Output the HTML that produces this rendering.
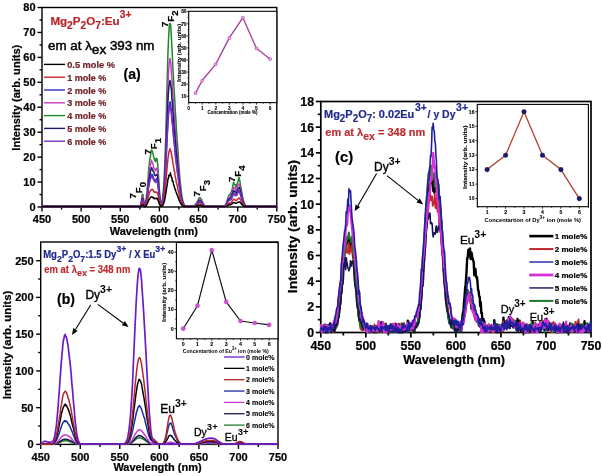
<!DOCTYPE html><html><head><meta charset="utf-8"><style>html,body{margin:0;padding:0;background:#fff;}svg{display:block;filter:blur(0.3px);}text{font-family:"Liberation Sans", sans-serif;}</style></head><body>
<svg width="602" height="476" viewBox="0 0 602 476">
<rect width="602" height="476" fill="#fff"/>
<rect x="42.00" y="7.50" width="234.80" height="199.50" fill="none" stroke="#000" stroke-width="1.4"/>
<line x1="42.00" y1="207.00" x2="42.00" y2="211.50" stroke="#000" stroke-width="1.4"/>
<text x="42.00" y="223.20" font-size="11" font-weight="bold" fill="#000" stroke="#000" stroke-width="0.22" text-anchor="middle" >450</text>
<line x1="81.13" y1="207.00" x2="81.13" y2="211.50" stroke="#000" stroke-width="1.4"/>
<text x="81.13" y="223.20" font-size="11" font-weight="bold" fill="#000" stroke="#000" stroke-width="0.22" text-anchor="middle" >500</text>
<line x1="120.27" y1="207.00" x2="120.27" y2="211.50" stroke="#000" stroke-width="1.4"/>
<text x="120.27" y="223.20" font-size="11" font-weight="bold" fill="#000" stroke="#000" stroke-width="0.22" text-anchor="middle" >550</text>
<line x1="159.40" y1="207.00" x2="159.40" y2="211.50" stroke="#000" stroke-width="1.4"/>
<text x="159.40" y="223.20" font-size="11" font-weight="bold" fill="#000" stroke="#000" stroke-width="0.22" text-anchor="middle" >600</text>
<line x1="198.53" y1="207.00" x2="198.53" y2="211.50" stroke="#000" stroke-width="1.4"/>
<text x="198.53" y="223.20" font-size="11" font-weight="bold" fill="#000" stroke="#000" stroke-width="0.22" text-anchor="middle" >650</text>
<line x1="237.67" y1="207.00" x2="237.67" y2="211.50" stroke="#000" stroke-width="1.4"/>
<text x="237.67" y="223.20" font-size="11" font-weight="bold" fill="#000" stroke="#000" stroke-width="0.22" text-anchor="middle" >700</text>
<line x1="276.80" y1="207.00" x2="276.80" y2="211.50" stroke="#000" stroke-width="1.4"/>
<text x="276.80" y="223.20" font-size="11" font-weight="bold" fill="#000" stroke="#000" stroke-width="0.22" text-anchor="middle" >750</text>
<line x1="61.57" y1="207.00" x2="61.57" y2="209.50" stroke="#000" stroke-width="1.4"/>
<line x1="100.70" y1="207.00" x2="100.70" y2="209.50" stroke="#000" stroke-width="1.4"/>
<line x1="139.83" y1="207.00" x2="139.83" y2="209.50" stroke="#000" stroke-width="1.4"/>
<line x1="178.97" y1="207.00" x2="178.97" y2="209.50" stroke="#000" stroke-width="1.4"/>
<line x1="218.10" y1="207.00" x2="218.10" y2="209.50" stroke="#000" stroke-width="1.4"/>
<line x1="257.23" y1="207.00" x2="257.23" y2="209.50" stroke="#000" stroke-width="1.4"/>
<line x1="37.50" y1="207.00" x2="42.00" y2="207.00" stroke="#000" stroke-width="1.4"/>
<text x="35.60" y="210.96" font-size="11" font-weight="bold" fill="#000" stroke="#000" stroke-width="0.22" text-anchor="end" >0</text>
<line x1="37.50" y1="182.06" x2="42.00" y2="182.06" stroke="#000" stroke-width="1.4"/>
<text x="35.60" y="186.02" font-size="11" font-weight="bold" fill="#000" stroke="#000" stroke-width="0.22" text-anchor="end" >10</text>
<line x1="37.50" y1="157.12" x2="42.00" y2="157.12" stroke="#000" stroke-width="1.4"/>
<text x="35.60" y="161.09" font-size="11" font-weight="bold" fill="#000" stroke="#000" stroke-width="0.22" text-anchor="end" >20</text>
<line x1="37.50" y1="132.19" x2="42.00" y2="132.19" stroke="#000" stroke-width="1.4"/>
<text x="35.60" y="136.15" font-size="11" font-weight="bold" fill="#000" stroke="#000" stroke-width="0.22" text-anchor="end" >30</text>
<line x1="37.50" y1="107.25" x2="42.00" y2="107.25" stroke="#000" stroke-width="1.4"/>
<text x="35.60" y="111.21" font-size="11" font-weight="bold" fill="#000" stroke="#000" stroke-width="0.22" text-anchor="end" >40</text>
<line x1="37.50" y1="82.31" x2="42.00" y2="82.31" stroke="#000" stroke-width="1.4"/>
<text x="35.60" y="86.27" font-size="11" font-weight="bold" fill="#000" stroke="#000" stroke-width="0.22" text-anchor="end" >50</text>
<line x1="37.50" y1="57.38" x2="42.00" y2="57.38" stroke="#000" stroke-width="1.4"/>
<text x="35.60" y="61.34" font-size="11" font-weight="bold" fill="#000" stroke="#000" stroke-width="0.22" text-anchor="end" >60</text>
<line x1="37.50" y1="32.44" x2="42.00" y2="32.44" stroke="#000" stroke-width="1.4"/>
<text x="35.60" y="36.40" font-size="11" font-weight="bold" fill="#000" stroke="#000" stroke-width="0.22" text-anchor="end" >70</text>
<line x1="37.50" y1="7.50" x2="42.00" y2="7.50" stroke="#000" stroke-width="1.4"/>
<text x="35.60" y="11.46" font-size="11" font-weight="bold" fill="#000" stroke="#000" stroke-width="0.22" text-anchor="end" >80</text>
<line x1="39.50" y1="194.53" x2="42.00" y2="194.53" stroke="#000" stroke-width="1.4"/>
<line x1="39.50" y1="169.59" x2="42.00" y2="169.59" stroke="#000" stroke-width="1.4"/>
<line x1="39.50" y1="144.66" x2="42.00" y2="144.66" stroke="#000" stroke-width="1.4"/>
<line x1="39.50" y1="119.72" x2="42.00" y2="119.72" stroke="#000" stroke-width="1.4"/>
<line x1="39.50" y1="94.78" x2="42.00" y2="94.78" stroke="#000" stroke-width="1.4"/>
<line x1="39.50" y1="69.84" x2="42.00" y2="69.84" stroke="#000" stroke-width="1.4"/>
<line x1="39.50" y1="44.91" x2="42.00" y2="44.91" stroke="#000" stroke-width="1.4"/>
<line x1="39.50" y1="19.97" x2="42.00" y2="19.97" stroke="#000" stroke-width="1.4"/>
<polyline points="42.0,206.6 42.4,206.6 42.8,206.6 43.2,206.6 43.6,206.6 44.0,206.6 44.3,206.6 44.7,206.6 45.1,206.6 45.5,206.6 45.9,206.6 46.3,206.6 46.7,206.6 47.1,206.6 47.5,206.6 47.9,206.6 48.3,206.6 48.7,206.6 49.0,206.6 49.4,206.6 49.8,206.6 50.2,206.6 50.6,206.6 51.0,206.6 51.4,206.6 51.8,206.6 52.2,206.6 52.6,206.6 53.0,206.6 53.3,206.6 53.7,206.6 54.1,206.6 54.5,206.6 54.9,206.6 55.3,206.6 55.7,206.6 56.1,206.6 56.5,206.6 56.9,206.6 57.3,206.6 57.7,206.6 58.0,206.6 58.4,206.6 58.8,206.6 59.2,206.6 59.6,206.6 60.0,206.6 60.4,206.6 60.8,206.6 61.2,206.6 61.6,206.6 62.0,206.6 62.3,206.6 62.7,206.6 63.1,206.6 63.5,206.6 63.9,206.6 64.3,206.6 64.7,206.6 65.1,206.6 65.5,206.6 65.9,206.6 66.3,206.6 66.7,206.6 67.0,206.6 67.4,206.6 67.8,206.6 68.2,206.6 68.6,206.6 69.0,206.6 69.4,206.6 69.8,206.6 70.2,206.6 70.6,206.6 71.0,206.6 71.3,206.6 71.7,206.6 72.1,206.6 72.5,206.6 72.9,206.6 73.3,206.6 73.7,206.6 74.1,206.6 74.5,206.6 74.9,206.6 75.3,206.6 75.7,206.6 76.0,206.6 76.4,206.6 76.8,206.6 77.2,206.6 77.6,206.6 78.0,206.6 78.4,206.6 78.8,206.6 79.2,206.6 79.6,206.6 80.0,206.6 80.4,206.6 80.7,206.6 81.1,206.6 81.5,206.6 81.9,206.6 82.3,206.6 82.7,206.6 83.1,206.6 83.5,206.6 83.9,206.6 84.3,206.6 84.7,206.6 85.0,206.6 85.4,206.6 85.8,206.6 86.2,206.6 86.6,206.6 87.0,206.6 87.4,206.6 87.8,206.6 88.2,206.6 88.6,206.6 89.0,206.6 89.4,206.6 89.7,206.6 90.1,206.6 90.5,206.6 90.9,206.6 91.3,206.6 91.7,206.6 92.1,206.6 92.5,206.6 92.9,206.6 93.3,206.6 93.7,206.6 94.0,206.6 94.4,206.6 94.8,206.6 95.2,206.6 95.6,206.6 96.0,206.6 96.4,206.6 96.8,206.6 97.2,206.6 97.6,206.6 98.0,206.6 98.4,206.6 98.7,206.6 99.1,206.6 99.5,206.6 99.9,206.6 100.3,206.6 100.7,206.6 101.1,206.6 101.5,206.6 101.9,206.6 102.3,206.6 102.7,206.6 103.0,206.6 103.4,206.6 103.8,206.6 104.2,206.6 104.6,206.6 105.0,206.6 105.4,206.6 105.8,206.6 106.2,206.6 106.6,206.6 107.0,206.6 107.4,206.6 107.7,206.6 108.1,206.6 108.5,206.6 108.9,206.6 109.3,206.6 109.7,206.6 110.1,206.6 110.5,206.6 110.9,206.6 111.3,206.6 111.7,206.6 112.0,206.6 112.4,206.6 112.8,206.6 113.2,206.6 113.6,206.6 114.0,206.6 114.4,206.6 114.8,206.6 115.2,206.6 115.6,206.6 116.0,206.6 116.4,206.6 116.7,206.6 117.1,206.6 117.5,206.6 117.9,206.6 118.3,206.6 118.7,206.6 119.1,206.6 119.5,206.6 119.9,206.6 120.3,206.6 120.7,206.6 121.0,206.6 121.4,206.6 121.8,206.6 122.2,206.6 122.6,206.6 123.0,206.6 123.4,206.6 123.8,206.6 124.2,206.6 124.6,206.6 125.0,206.6 125.4,206.6 125.7,206.6 126.1,206.6 126.5,206.6 126.9,206.6 127.3,206.6 127.7,206.6 128.1,206.6 128.5,206.6 128.9,206.6 129.3,206.6 129.7,206.6 130.1,206.6 130.4,206.6 130.8,206.6 131.2,206.6 131.6,206.6 132.0,206.6 132.4,206.6 132.8,206.6 133.2,206.6 133.6,206.6 134.0,206.6 134.4,206.6 134.7,206.6 135.1,206.6 135.5,206.6 135.9,206.6 136.3,206.6 136.7,206.6 137.1,206.6 137.5,206.6 137.9,206.6 138.3,206.6 138.7,206.6 139.1,206.6 139.4,206.6 139.8,206.6 140.2,206.5 140.6,205.5 141.0,203.8 141.4,201.3 141.8,198.1 142.2,194.9 142.6,194.1 143.0,195.2 143.4,197.8 143.7,200.8 144.1,203.1 144.5,204.4 144.9,204.5 145.3,203.8 145.7,202.0 146.1,199.7 146.5,196.2 146.9,193.0 147.3,188.2 147.7,183.3 148.1,179.3 148.4,172.2 148.8,168.0 149.2,165.4 149.6,160.8 150.0,157.9 150.4,157.2 150.8,152.6 151.2,151.1 151.6,150.0 152.0,150.9 152.4,151.2 152.7,152.8 153.1,153.7 153.5,156.3 153.9,158.2 154.3,158.3 154.7,160.7 155.1,160.9 155.5,161.8 155.9,158.7 156.3,158.5 156.7,158.3 157.1,159.2 157.4,161.7 157.8,165.5 158.2,171.2 158.6,177.5 159.0,184.0 159.4,189.6 159.8,195.2 160.2,199.2 160.6,201.7 161.0,203.0 161.4,203.0 161.7,202.4 162.1,201.0 162.5,198.8 162.9,195.8 163.3,191.3 163.7,185.3 164.1,179.2 164.5,170.9 164.9,161.1 165.3,149.7 165.7,138.3 166.1,123.6 166.4,109.6 166.8,93.5 167.2,80.1 167.6,65.1 168.0,51.8 168.4,42.3 168.8,33.9 169.2,27.1 169.6,23.7 170.0,23.5 170.4,23.8 170.7,26.1 171.1,33.1 171.5,39.6 171.9,47.6 172.3,54.5 172.7,63.8 173.1,71.7 173.5,77.7 173.9,86.8 174.3,92.5 174.7,99.0 175.1,106.6 175.4,112.7 175.8,117.9 176.2,125.6 176.6,132.0 177.0,138.5 177.4,143.4 177.8,148.1 178.2,154.2 178.6,161.2 179.0,166.5 179.4,171.3 179.7,175.6 180.1,180.4 180.5,184.3 180.9,188.1 181.3,191.7 181.7,194.5 182.1,197.0 182.5,199.2 182.9,200.9 183.3,202.2 183.7,203.6 184.1,204.5 184.4,205.3 184.8,205.7 185.2,206.2 185.6,206.5 186.0,206.6 186.4,206.6 186.8,206.6 187.2,206.6 187.6,206.6 188.0,206.6 188.4,206.6 188.8,206.6 189.1,206.6 189.5,206.6 189.9,206.6 190.3,206.6 190.7,206.6 191.1,206.6 191.5,206.6 191.9,206.6 192.3,206.6 192.7,206.6 193.1,206.5 193.4,206.4 193.8,206.1 194.2,205.9 194.6,205.5 195.0,205.1 195.4,204.7 195.8,204.2 196.2,203.4 196.6,202.8 197.0,202.0 197.4,201.1 197.8,200.7 198.1,199.8 198.5,199.0 198.9,198.4 199.3,198.1 199.7,197.6 200.1,197.9 200.5,198.4 200.9,198.8 201.3,199.1 201.7,199.9 202.1,201.2 202.4,201.6 202.8,202.6 203.2,203.4 203.6,204.3 204.0,204.9 204.4,205.5 204.8,205.8 205.2,206.2 205.6,206.4 206.0,206.6 206.4,206.6 206.8,206.6 207.1,206.6 207.5,206.6 207.9,206.6 208.3,206.6 208.7,206.6 209.1,206.6 209.5,206.6 209.9,206.6 210.3,206.6 210.7,206.6 211.1,206.6 211.4,206.6 211.8,206.6 212.2,206.6 212.6,206.6 213.0,206.6 213.4,206.6 213.8,206.6 214.2,206.6 214.6,206.6 215.0,206.6 215.4,206.6 215.8,206.6 216.1,206.6 216.5,206.6 216.9,206.6 217.3,206.6 217.7,206.6 218.1,206.6 218.5,206.6 218.9,206.6 219.3,206.6 219.7,206.6 220.1,206.6 220.4,206.6 220.8,206.6 221.2,206.6 221.6,206.6 222.0,206.6 222.4,206.6 222.8,206.6 223.2,206.6 223.6,206.6 224.0,206.6 224.4,206.4 224.8,206.0 225.1,205.5 225.5,204.8 225.9,204.0 226.3,202.9 226.7,201.5 227.1,200.4 227.5,198.9 227.9,197.9 228.3,196.9 228.7,196.3 229.1,194.7 229.4,195.0 229.8,194.6 230.2,194.5 230.6,194.0 231.0,193.2 231.4,191.2 231.8,190.7 232.2,189.1 232.6,186.9 233.0,185.3 233.4,182.8 233.8,182.1 234.1,183.3 234.5,184.2 234.9,184.6 235.3,184.6 235.7,187.6 236.1,186.1 236.5,186.4 236.9,184.2 237.3,183.9 237.7,181.8 238.1,181.0 238.4,179.6 238.8,177.4 239.2,178.1 239.6,180.0 240.0,182.0 240.4,184.8 240.8,186.4 241.2,188.8 241.6,191.3 242.0,193.7 242.4,196.1 242.8,197.7 243.1,199.4 243.5,200.6 243.9,201.9 244.3,203.2 244.7,204.1 245.1,204.8 245.5,205.5 245.9,205.9 246.3,206.3 246.7,206.6 247.1,206.6 247.5,206.6 247.8,206.6 248.2,206.6 248.6,206.6 249.0,206.6 249.4,206.6 249.8,206.6 250.2,206.6 250.6,206.6 251.0,206.6 251.4,206.6 251.8,206.6 252.1,206.6 252.5,206.6 252.9,206.6 253.3,206.6 253.7,206.6 254.1,206.6 254.5,206.6 254.9,206.6 255.3,206.6 255.7,206.6 256.1,206.6 256.5,206.6 256.8,206.6 257.2,206.6 257.6,206.6 258.0,206.6 258.4,206.6 258.8,206.6 259.2,206.6 259.6,206.6 260.0,206.6 260.4,206.6 260.8,206.6 261.1,206.6 261.5,206.6 261.9,206.6 262.3,206.6 262.7,206.6 263.1,206.6 263.5,206.6 263.9,206.6 264.3,206.6 264.7,206.6 265.1,206.6 265.5,206.6 265.8,206.6 266.2,206.6 266.6,206.6 267.0,206.6 267.4,206.6 267.8,206.6 268.2,206.6 268.6,206.6 269.0,206.6 269.4,206.6 269.8,206.6 270.1,206.6 270.5,206.6 270.9,206.6 271.3,206.6 271.7,206.6 272.1,206.6 272.5,206.6 272.9,206.6 273.3,206.6 273.7,206.6 274.1,206.6 274.5,206.6 274.8,206.6 275.2,206.6 275.6,206.6 276.0,206.6 276.4,206.6 276.8,206.6" fill="none" stroke="#23862b" stroke-width="1.5" stroke-linejoin="round" />
<polyline points="42.0,206.6 42.4,206.6 42.8,206.6 43.2,206.6 43.6,206.6 44.0,206.6 44.3,206.6 44.7,206.6 45.1,206.6 45.5,206.6 45.9,206.6 46.3,206.6 46.7,206.6 47.1,206.6 47.5,206.6 47.9,206.6 48.3,206.6 48.7,206.6 49.0,206.6 49.4,206.6 49.8,206.6 50.2,206.6 50.6,206.6 51.0,206.6 51.4,206.6 51.8,206.6 52.2,206.6 52.6,206.6 53.0,206.6 53.3,206.6 53.7,206.6 54.1,206.6 54.5,206.6 54.9,206.6 55.3,206.6 55.7,206.6 56.1,206.6 56.5,206.6 56.9,206.6 57.3,206.6 57.7,206.6 58.0,206.6 58.4,206.6 58.8,206.6 59.2,206.6 59.6,206.6 60.0,206.6 60.4,206.6 60.8,206.6 61.2,206.6 61.6,206.6 62.0,206.6 62.3,206.6 62.7,206.6 63.1,206.6 63.5,206.6 63.9,206.6 64.3,206.6 64.7,206.6 65.1,206.6 65.5,206.6 65.9,206.6 66.3,206.6 66.7,206.6 67.0,206.6 67.4,206.6 67.8,206.6 68.2,206.6 68.6,206.6 69.0,206.6 69.4,206.6 69.8,206.6 70.2,206.6 70.6,206.6 71.0,206.6 71.3,206.6 71.7,206.6 72.1,206.6 72.5,206.6 72.9,206.6 73.3,206.6 73.7,206.6 74.1,206.6 74.5,206.6 74.9,206.6 75.3,206.6 75.7,206.6 76.0,206.6 76.4,206.6 76.8,206.6 77.2,206.6 77.6,206.6 78.0,206.6 78.4,206.6 78.8,206.6 79.2,206.6 79.6,206.6 80.0,206.6 80.4,206.6 80.7,206.6 81.1,206.6 81.5,206.6 81.9,206.6 82.3,206.6 82.7,206.6 83.1,206.6 83.5,206.6 83.9,206.6 84.3,206.6 84.7,206.6 85.0,206.6 85.4,206.6 85.8,206.6 86.2,206.6 86.6,206.6 87.0,206.6 87.4,206.6 87.8,206.6 88.2,206.6 88.6,206.6 89.0,206.6 89.4,206.6 89.7,206.6 90.1,206.6 90.5,206.6 90.9,206.6 91.3,206.6 91.7,206.6 92.1,206.6 92.5,206.6 92.9,206.6 93.3,206.6 93.7,206.6 94.0,206.6 94.4,206.6 94.8,206.6 95.2,206.6 95.6,206.6 96.0,206.6 96.4,206.6 96.8,206.6 97.2,206.6 97.6,206.6 98.0,206.6 98.4,206.6 98.7,206.6 99.1,206.6 99.5,206.6 99.9,206.6 100.3,206.6 100.7,206.6 101.1,206.6 101.5,206.6 101.9,206.6 102.3,206.6 102.7,206.6 103.0,206.6 103.4,206.6 103.8,206.6 104.2,206.6 104.6,206.6 105.0,206.6 105.4,206.6 105.8,206.6 106.2,206.6 106.6,206.6 107.0,206.6 107.4,206.6 107.7,206.6 108.1,206.6 108.5,206.6 108.9,206.6 109.3,206.6 109.7,206.6 110.1,206.6 110.5,206.6 110.9,206.6 111.3,206.6 111.7,206.6 112.0,206.6 112.4,206.6 112.8,206.6 113.2,206.6 113.6,206.6 114.0,206.6 114.4,206.6 114.8,206.6 115.2,206.6 115.6,206.6 116.0,206.6 116.4,206.6 116.7,206.6 117.1,206.6 117.5,206.6 117.9,206.6 118.3,206.6 118.7,206.6 119.1,206.6 119.5,206.6 119.9,206.6 120.3,206.6 120.7,206.6 121.0,206.6 121.4,206.6 121.8,206.6 122.2,206.6 122.6,206.6 123.0,206.6 123.4,206.6 123.8,206.6 124.2,206.6 124.6,206.6 125.0,206.6 125.4,206.6 125.7,206.6 126.1,206.6 126.5,206.6 126.9,206.6 127.3,206.6 127.7,206.6 128.1,206.6 128.5,206.6 128.9,206.6 129.3,206.6 129.7,206.6 130.1,206.6 130.4,206.6 130.8,206.6 131.2,206.6 131.6,206.6 132.0,206.6 132.4,206.6 132.8,206.6 133.2,206.6 133.6,206.6 134.0,206.6 134.4,206.6 134.7,206.6 135.1,206.6 135.5,206.6 135.9,206.6 136.3,206.6 136.7,206.6 137.1,206.6 137.5,206.6 137.9,206.6 138.3,206.6 138.7,206.6 139.1,206.6 139.4,206.6 139.8,206.6 140.2,206.6 140.6,205.9 141.0,204.3 141.4,202.3 141.8,199.5 142.2,197.7 142.6,196.5 143.0,197.7 143.4,199.6 143.7,201.7 144.1,203.9 144.5,205.0 144.9,205.0 145.3,204.3 145.7,202.9 146.1,201.2 146.5,198.9 146.9,195.5 147.3,191.9 147.7,187.9 148.1,183.3 148.4,180.0 148.8,176.0 149.2,174.2 149.6,169.8 150.0,166.3 150.4,165.0 150.8,163.4 151.2,162.0 151.6,160.1 152.0,162.1 152.4,162.3 152.7,163.1 153.1,164.5 153.5,166.9 153.9,167.7 154.3,169.1 154.7,169.5 155.1,169.9 155.5,170.5 155.9,169.3 156.3,168.1 156.7,169.3 157.1,169.3 157.4,170.3 157.8,174.7 158.2,178.0 158.6,183.9 159.0,188.1 159.4,192.8 159.8,197.2 160.2,200.8 160.6,202.6 161.0,203.7 161.4,203.9 161.7,203.3 162.1,202.4 162.5,200.2 162.9,197.8 163.3,193.9 163.7,189.9 164.1,184.9 164.5,177.7 164.9,169.6 165.3,161.1 165.7,150.7 166.1,140.5 166.4,130.1 166.8,115.9 167.2,104.3 167.6,93.6 168.0,83.5 168.4,74.1 168.8,68.3 169.2,63.6 169.6,60.3 170.0,58.5 170.4,61.5 170.7,62.4 171.1,68.0 171.5,73.6 171.9,77.7 172.3,85.1 172.7,92.5 173.1,98.2 173.5,103.5 173.9,109.3 174.3,116.3 174.7,121.1 175.1,126.2 175.4,132.3 175.8,136.5 176.2,141.7 176.6,146.9 177.0,151.7 177.4,156.0 177.8,160.7 178.2,165.7 178.6,170.0 179.0,173.2 179.4,178.0 179.7,181.4 180.1,185.0 180.5,188.7 180.9,191.1 181.3,194.9 181.7,196.8 182.1,199.1 182.5,200.5 182.9,202.0 183.3,203.5 183.7,204.4 184.1,205.0 184.4,205.6 184.8,206.0 185.2,206.3 185.6,206.5 186.0,206.6 186.4,206.6 186.8,206.6 187.2,206.6 187.6,206.6 188.0,206.6 188.4,206.6 188.8,206.6 189.1,206.6 189.5,206.6 189.9,206.6 190.3,206.6 190.7,206.6 191.1,206.6 191.5,206.6 191.9,206.6 192.3,206.6 192.7,206.6 193.1,206.6 193.4,206.5 193.8,206.3 194.2,206.0 194.6,205.8 195.0,205.5 195.4,205.1 195.8,204.6 196.2,204.2 196.6,203.5 197.0,203.0 197.4,202.3 197.8,201.8 198.1,201.1 198.5,200.5 198.9,200.2 199.3,199.5 199.7,199.6 200.1,199.4 200.5,199.7 200.9,200.4 201.3,200.8 201.7,201.3 202.1,202.1 202.4,202.8 202.8,203.5 203.2,204.3 203.6,204.8 204.0,205.4 204.4,205.7 204.8,206.1 205.2,206.4 205.6,206.6 206.0,206.6 206.4,206.6 206.8,206.6 207.1,206.6 207.5,206.6 207.9,206.6 208.3,206.6 208.7,206.6 209.1,206.6 209.5,206.6 209.9,206.6 210.3,206.6 210.7,206.6 211.1,206.6 211.4,206.6 211.8,206.6 212.2,206.6 212.6,206.6 213.0,206.6 213.4,206.6 213.8,206.6 214.2,206.6 214.6,206.6 215.0,206.6 215.4,206.6 215.8,206.6 216.1,206.6 216.5,206.6 216.9,206.6 217.3,206.6 217.7,206.6 218.1,206.6 218.5,206.6 218.9,206.6 219.3,206.6 219.7,206.6 220.1,206.6 220.4,206.6 220.8,206.6 221.2,206.6 221.6,206.6 222.0,206.6 222.4,206.6 222.8,206.6 223.2,206.6 223.6,206.6 224.0,206.6 224.4,206.5 224.8,206.2 225.1,205.7 225.5,205.2 225.9,204.6 226.3,203.6 226.7,202.6 227.1,201.7 227.5,200.7 227.9,199.6 228.3,199.0 228.7,197.7 229.1,198.1 229.4,197.6 229.8,197.2 230.2,197.0 230.6,196.6 231.0,195.9 231.4,195.0 231.8,193.2 232.2,192.9 232.6,190.5 233.0,189.3 233.4,187.9 233.8,187.4 234.1,188.0 234.5,188.4 234.9,188.5 235.3,189.5 235.7,190.6 236.1,189.6 236.5,189.1 236.9,189.9 237.3,187.9 237.7,185.4 238.1,185.0 238.4,184.3 238.8,184.2 239.2,184.6 239.6,185.3 240.0,186.8 240.4,187.9 240.8,190.5 241.2,192.5 241.6,194.8 242.0,196.3 242.4,198.2 242.8,199.6 243.1,200.7 243.5,202.0 243.9,203.0 244.3,203.9 244.7,204.7 245.1,205.3 245.5,205.8 245.9,206.1 246.3,206.5 246.7,206.6 247.1,206.6 247.5,206.6 247.8,206.6 248.2,206.6 248.6,206.6 249.0,206.6 249.4,206.6 249.8,206.6 250.2,206.6 250.6,206.6 251.0,206.6 251.4,206.6 251.8,206.6 252.1,206.6 252.5,206.6 252.9,206.6 253.3,206.6 253.7,206.6 254.1,206.6 254.5,206.6 254.9,206.6 255.3,206.6 255.7,206.6 256.1,206.6 256.5,206.6 256.8,206.6 257.2,206.6 257.6,206.6 258.0,206.6 258.4,206.6 258.8,206.6 259.2,206.6 259.6,206.6 260.0,206.6 260.4,206.6 260.8,206.6 261.1,206.6 261.5,206.6 261.9,206.6 262.3,206.6 262.7,206.6 263.1,206.6 263.5,206.6 263.9,206.6 264.3,206.6 264.7,206.6 265.1,206.6 265.5,206.6 265.8,206.6 266.2,206.6 266.6,206.6 267.0,206.6 267.4,206.6 267.8,206.6 268.2,206.6 268.6,206.6 269.0,206.6 269.4,206.6 269.8,206.6 270.1,206.6 270.5,206.6 270.9,206.6 271.3,206.6 271.7,206.6 272.1,206.6 272.5,206.6 272.9,206.6 273.3,206.6 273.7,206.6 274.1,206.6 274.5,206.6 274.8,206.6 275.2,206.6 275.6,206.6 276.0,206.6 276.4,206.6 276.8,206.6" fill="none" stroke="#c23cc8" stroke-width="1.5" stroke-linejoin="round" />
<polyline points="42.0,206.6 42.4,206.6 42.8,206.6 43.2,206.6 43.6,206.6 44.0,206.6 44.3,206.6 44.7,206.6 45.1,206.6 45.5,206.6 45.9,206.6 46.3,206.6 46.7,206.6 47.1,206.6 47.5,206.6 47.9,206.6 48.3,206.6 48.7,206.6 49.0,206.6 49.4,206.6 49.8,206.6 50.2,206.6 50.6,206.6 51.0,206.6 51.4,206.6 51.8,206.6 52.2,206.6 52.6,206.6 53.0,206.6 53.3,206.6 53.7,206.6 54.1,206.6 54.5,206.6 54.9,206.6 55.3,206.6 55.7,206.6 56.1,206.6 56.5,206.6 56.9,206.6 57.3,206.6 57.7,206.6 58.0,206.6 58.4,206.6 58.8,206.6 59.2,206.6 59.6,206.6 60.0,206.6 60.4,206.6 60.8,206.6 61.2,206.6 61.6,206.6 62.0,206.6 62.3,206.6 62.7,206.6 63.1,206.6 63.5,206.6 63.9,206.6 64.3,206.6 64.7,206.6 65.1,206.6 65.5,206.6 65.9,206.6 66.3,206.6 66.7,206.6 67.0,206.6 67.4,206.6 67.8,206.6 68.2,206.6 68.6,206.6 69.0,206.6 69.4,206.6 69.8,206.6 70.2,206.6 70.6,206.6 71.0,206.6 71.3,206.6 71.7,206.6 72.1,206.6 72.5,206.6 72.9,206.6 73.3,206.6 73.7,206.6 74.1,206.6 74.5,206.6 74.9,206.6 75.3,206.6 75.7,206.6 76.0,206.6 76.4,206.6 76.8,206.6 77.2,206.6 77.6,206.6 78.0,206.6 78.4,206.6 78.8,206.6 79.2,206.6 79.6,206.6 80.0,206.6 80.4,206.6 80.7,206.6 81.1,206.6 81.5,206.6 81.9,206.6 82.3,206.6 82.7,206.6 83.1,206.6 83.5,206.6 83.9,206.6 84.3,206.6 84.7,206.6 85.0,206.6 85.4,206.6 85.8,206.6 86.2,206.6 86.6,206.6 87.0,206.6 87.4,206.6 87.8,206.6 88.2,206.6 88.6,206.6 89.0,206.6 89.4,206.6 89.7,206.6 90.1,206.6 90.5,206.6 90.9,206.6 91.3,206.6 91.7,206.6 92.1,206.6 92.5,206.6 92.9,206.6 93.3,206.6 93.7,206.6 94.0,206.6 94.4,206.6 94.8,206.6 95.2,206.6 95.6,206.6 96.0,206.6 96.4,206.6 96.8,206.6 97.2,206.6 97.6,206.6 98.0,206.6 98.4,206.6 98.7,206.6 99.1,206.6 99.5,206.6 99.9,206.6 100.3,206.6 100.7,206.6 101.1,206.6 101.5,206.6 101.9,206.6 102.3,206.6 102.7,206.6 103.0,206.6 103.4,206.6 103.8,206.6 104.2,206.6 104.6,206.6 105.0,206.6 105.4,206.6 105.8,206.6 106.2,206.6 106.6,206.6 107.0,206.6 107.4,206.6 107.7,206.6 108.1,206.6 108.5,206.6 108.9,206.6 109.3,206.6 109.7,206.6 110.1,206.6 110.5,206.6 110.9,206.6 111.3,206.6 111.7,206.6 112.0,206.6 112.4,206.6 112.8,206.6 113.2,206.6 113.6,206.6 114.0,206.6 114.4,206.6 114.8,206.6 115.2,206.6 115.6,206.6 116.0,206.6 116.4,206.6 116.7,206.6 117.1,206.6 117.5,206.6 117.9,206.6 118.3,206.6 118.7,206.6 119.1,206.6 119.5,206.6 119.9,206.6 120.3,206.6 120.7,206.6 121.0,206.6 121.4,206.6 121.8,206.6 122.2,206.6 122.6,206.6 123.0,206.6 123.4,206.6 123.8,206.6 124.2,206.6 124.6,206.6 125.0,206.6 125.4,206.6 125.7,206.6 126.1,206.6 126.5,206.6 126.9,206.6 127.3,206.6 127.7,206.6 128.1,206.6 128.5,206.6 128.9,206.6 129.3,206.6 129.7,206.6 130.1,206.6 130.4,206.6 130.8,206.6 131.2,206.6 131.6,206.6 132.0,206.6 132.4,206.6 132.8,206.6 133.2,206.6 133.6,206.6 134.0,206.6 134.4,206.6 134.7,206.6 135.1,206.6 135.5,206.6 135.9,206.6 136.3,206.6 136.7,206.6 137.1,206.6 137.5,206.6 137.9,206.6 138.3,206.6 138.7,206.6 139.1,206.6 139.4,206.6 139.8,206.6 140.2,206.6 140.6,206.0 141.0,205.0 141.4,202.7 141.8,200.6 142.2,199.2 142.6,198.2 143.0,199.0 143.4,200.7 143.7,202.9 144.1,204.4 144.5,205.2 144.9,205.3 145.3,204.7 145.7,203.6 146.1,201.7 146.5,199.9 146.9,197.1 147.3,194.7 147.7,191.3 148.1,186.7 148.4,184.7 148.8,180.7 149.2,178.4 149.6,176.6 150.0,173.9 150.4,172.0 150.8,170.3 151.2,168.2 151.6,167.6 152.0,168.5 152.4,169.4 152.7,169.7 153.1,171.3 153.5,171.8 153.9,171.7 154.3,173.9 154.7,175.1 155.1,175.4 155.5,175.8 155.9,175.5 156.3,175.1 156.7,174.5 157.1,175.0 157.4,175.5 157.8,179.0 158.2,182.5 158.6,187.4 159.0,190.7 159.4,195.4 159.8,198.7 160.2,201.6 160.6,203.2 161.0,204.2 161.4,204.3 161.7,203.7 162.1,203.0 162.5,201.2 162.9,198.8 163.3,196.1 163.7,192.2 164.1,187.2 164.5,182.6 164.9,175.2 165.3,168.5 165.7,159.8 166.1,150.4 166.4,140.1 166.8,129.8 167.2,119.5 167.6,111.4 168.0,100.2 168.4,93.4 168.8,87.9 169.2,84.5 169.6,81.8 170.0,80.6 170.4,81.7 170.7,85.7 171.1,87.4 171.5,90.2 171.9,99.0 172.3,102.2 172.7,108.2 173.1,114.1 173.5,118.3 173.9,125.3 174.3,129.2 174.7,132.9 175.1,138.7 175.4,143.2 175.8,147.0 176.2,151.6 176.6,154.2 177.0,160.2 177.4,162.9 177.8,168.5 178.2,170.9 178.6,175.3 179.0,180.7 179.4,182.4 179.7,186.3 180.1,189.0 180.5,191.0 180.9,194.5 181.3,196.8 181.7,198.2 182.1,200.2 182.5,201.5 182.9,202.9 183.3,204.0 183.7,204.7 184.1,205.3 184.4,205.8 184.8,206.1 185.2,206.4 185.6,206.6 186.0,206.6 186.4,206.6 186.8,206.6 187.2,206.6 187.6,206.6 188.0,206.6 188.4,206.6 188.8,206.6 189.1,206.6 189.5,206.6 189.9,206.6 190.3,206.6 190.7,206.6 191.1,206.6 191.5,206.6 191.9,206.6 192.3,206.6 192.7,206.6 193.1,206.6 193.4,206.5 193.8,206.4 194.2,206.2 194.6,206.0 195.0,205.7 195.4,205.4 195.8,205.0 196.2,204.7 196.6,204.1 197.0,203.6 197.4,203.1 197.8,202.7 198.1,202.0 198.5,201.5 198.9,201.1 199.3,201.1 199.7,200.7 200.1,201.0 200.5,201.0 200.9,201.1 201.3,201.8 201.7,202.3 202.1,202.7 202.4,203.5 202.8,204.0 203.2,204.6 203.6,205.1 204.0,205.6 204.4,205.9 204.8,206.2 205.2,206.5 205.6,206.6 206.0,206.6 206.4,206.6 206.8,206.6 207.1,206.6 207.5,206.6 207.9,206.6 208.3,206.6 208.7,206.6 209.1,206.6 209.5,206.6 209.9,206.6 210.3,206.6 210.7,206.6 211.1,206.6 211.4,206.6 211.8,206.6 212.2,206.6 212.6,206.6 213.0,206.6 213.4,206.6 213.8,206.6 214.2,206.6 214.6,206.6 215.0,206.6 215.4,206.6 215.8,206.6 216.1,206.6 216.5,206.6 216.9,206.6 217.3,206.6 217.7,206.6 218.1,206.6 218.5,206.6 218.9,206.6 219.3,206.6 219.7,206.6 220.1,206.6 220.4,206.6 220.8,206.6 221.2,206.6 221.6,206.6 222.0,206.6 222.4,206.6 222.8,206.6 223.2,206.6 223.6,206.6 224.0,206.6 224.4,206.6 224.8,206.3 225.1,206.0 225.5,205.5 225.9,204.9 226.3,204.2 226.7,203.2 227.1,202.5 227.5,201.3 227.9,200.5 228.3,200.0 228.7,199.2 229.1,199.2 229.4,199.1 229.8,198.9 230.2,198.5 230.6,198.2 231.0,197.7 231.4,196.7 231.8,196.2 232.2,194.1 232.6,193.4 233.0,191.9 233.4,190.9 233.8,190.8 234.1,191.0 234.5,191.2 234.9,191.5 235.3,192.0 235.7,192.5 236.1,193.2 236.5,192.9 236.9,192.2 237.3,190.6 237.7,190.5 238.1,188.0 238.4,188.0 238.8,187.8 239.2,187.5 239.6,187.9 240.0,189.4 240.4,190.6 240.8,192.7 241.2,194.1 241.6,195.9 242.0,197.9 242.4,199.1 242.8,200.6 243.1,201.8 243.5,202.9 243.9,203.7 244.3,204.3 244.7,205.1 245.1,205.5 245.5,205.9 245.9,206.3 246.3,206.6 246.7,206.6 247.1,206.6 247.5,206.6 247.8,206.6 248.2,206.6 248.6,206.6 249.0,206.6 249.4,206.6 249.8,206.6 250.2,206.6 250.6,206.6 251.0,206.6 251.4,206.6 251.8,206.6 252.1,206.6 252.5,206.6 252.9,206.6 253.3,206.6 253.7,206.6 254.1,206.6 254.5,206.6 254.9,206.6 255.3,206.6 255.7,206.6 256.1,206.6 256.5,206.6 256.8,206.6 257.2,206.6 257.6,206.6 258.0,206.6 258.4,206.6 258.8,206.6 259.2,206.6 259.6,206.6 260.0,206.6 260.4,206.6 260.8,206.6 261.1,206.6 261.5,206.6 261.9,206.6 262.3,206.6 262.7,206.6 263.1,206.6 263.5,206.6 263.9,206.6 264.3,206.6 264.7,206.6 265.1,206.6 265.5,206.6 265.8,206.6 266.2,206.6 266.6,206.6 267.0,206.6 267.4,206.6 267.8,206.6 268.2,206.6 268.6,206.6 269.0,206.6 269.4,206.6 269.8,206.6 270.1,206.6 270.5,206.6 270.9,206.6 271.3,206.6 271.7,206.6 272.1,206.6 272.5,206.6 272.9,206.6 273.3,206.6 273.7,206.6 274.1,206.6 274.5,206.6 274.8,206.6 275.2,206.6 275.6,206.6 276.0,206.6 276.4,206.6 276.8,206.6" fill="none" stroke="#1c1c66" stroke-width="1.5" stroke-linejoin="round" />
<polyline points="42.0,206.6 42.4,206.6 42.8,206.6 43.2,206.6 43.6,206.6 44.0,206.6 44.3,206.6 44.7,206.6 45.1,206.6 45.5,206.6 45.9,206.6 46.3,206.6 46.7,206.6 47.1,206.6 47.5,206.6 47.9,206.6 48.3,206.6 48.7,206.6 49.0,206.6 49.4,206.6 49.8,206.6 50.2,206.6 50.6,206.6 51.0,206.6 51.4,206.6 51.8,206.6 52.2,206.6 52.6,206.6 53.0,206.6 53.3,206.6 53.7,206.6 54.1,206.6 54.5,206.6 54.9,206.6 55.3,206.6 55.7,206.6 56.1,206.6 56.5,206.6 56.9,206.6 57.3,206.6 57.7,206.6 58.0,206.6 58.4,206.6 58.8,206.6 59.2,206.6 59.6,206.6 60.0,206.6 60.4,206.6 60.8,206.6 61.2,206.6 61.6,206.6 62.0,206.6 62.3,206.6 62.7,206.6 63.1,206.6 63.5,206.6 63.9,206.6 64.3,206.6 64.7,206.6 65.1,206.6 65.5,206.6 65.9,206.6 66.3,206.6 66.7,206.6 67.0,206.6 67.4,206.6 67.8,206.6 68.2,206.6 68.6,206.6 69.0,206.6 69.4,206.6 69.8,206.6 70.2,206.6 70.6,206.6 71.0,206.6 71.3,206.6 71.7,206.6 72.1,206.6 72.5,206.6 72.9,206.6 73.3,206.6 73.7,206.6 74.1,206.6 74.5,206.6 74.9,206.6 75.3,206.6 75.7,206.6 76.0,206.6 76.4,206.6 76.8,206.6 77.2,206.6 77.6,206.6 78.0,206.6 78.4,206.6 78.8,206.6 79.2,206.6 79.6,206.6 80.0,206.6 80.4,206.6 80.7,206.6 81.1,206.6 81.5,206.6 81.9,206.6 82.3,206.6 82.7,206.6 83.1,206.6 83.5,206.6 83.9,206.6 84.3,206.6 84.7,206.6 85.0,206.6 85.4,206.6 85.8,206.6 86.2,206.6 86.6,206.6 87.0,206.6 87.4,206.6 87.8,206.6 88.2,206.6 88.6,206.6 89.0,206.6 89.4,206.6 89.7,206.6 90.1,206.6 90.5,206.6 90.9,206.6 91.3,206.6 91.7,206.6 92.1,206.6 92.5,206.6 92.9,206.6 93.3,206.6 93.7,206.6 94.0,206.6 94.4,206.6 94.8,206.6 95.2,206.6 95.6,206.6 96.0,206.6 96.4,206.6 96.8,206.6 97.2,206.6 97.6,206.6 98.0,206.6 98.4,206.6 98.7,206.6 99.1,206.6 99.5,206.6 99.9,206.6 100.3,206.6 100.7,206.6 101.1,206.6 101.5,206.6 101.9,206.6 102.3,206.6 102.7,206.6 103.0,206.6 103.4,206.6 103.8,206.6 104.2,206.6 104.6,206.6 105.0,206.6 105.4,206.6 105.8,206.6 106.2,206.6 106.6,206.6 107.0,206.6 107.4,206.6 107.7,206.6 108.1,206.6 108.5,206.6 108.9,206.6 109.3,206.6 109.7,206.6 110.1,206.6 110.5,206.6 110.9,206.6 111.3,206.6 111.7,206.6 112.0,206.6 112.4,206.6 112.8,206.6 113.2,206.6 113.6,206.6 114.0,206.6 114.4,206.6 114.8,206.6 115.2,206.6 115.6,206.6 116.0,206.6 116.4,206.6 116.7,206.6 117.1,206.6 117.5,206.6 117.9,206.6 118.3,206.6 118.7,206.6 119.1,206.6 119.5,206.6 119.9,206.6 120.3,206.6 120.7,206.6 121.0,206.6 121.4,206.6 121.8,206.6 122.2,206.6 122.6,206.6 123.0,206.6 123.4,206.6 123.8,206.6 124.2,206.6 124.6,206.6 125.0,206.6 125.4,206.6 125.7,206.6 126.1,206.6 126.5,206.6 126.9,206.6 127.3,206.6 127.7,206.6 128.1,206.6 128.5,206.6 128.9,206.6 129.3,206.6 129.7,206.6 130.1,206.6 130.4,206.6 130.8,206.6 131.2,206.6 131.6,206.6 132.0,206.6 132.4,206.6 132.8,206.6 133.2,206.6 133.6,206.6 134.0,206.6 134.4,206.6 134.7,206.6 135.1,206.6 135.5,206.6 135.9,206.6 136.3,206.6 136.7,206.6 137.1,206.6 137.5,206.6 137.9,206.6 138.3,206.6 138.7,206.6 139.1,206.6 139.4,206.6 139.8,206.6 140.2,206.6 140.6,206.2 141.0,205.1 141.4,203.8 141.8,201.9 142.2,200.6 142.6,199.8 143.0,200.2 143.4,201.6 143.7,203.6 144.1,204.8 144.5,205.6 144.9,205.6 145.3,205.2 145.7,204.2 146.1,203.0 146.5,201.0 146.9,198.8 147.3,196.5 147.7,193.9 148.1,191.4 148.4,187.2 148.8,186.3 149.2,182.4 149.6,180.9 150.0,179.7 150.4,178.6 150.8,175.6 151.2,174.1 151.6,175.6 152.0,175.1 152.4,174.6 152.7,176.1 153.1,176.0 153.5,178.9 153.9,179.1 154.3,181.0 154.7,179.2 155.1,181.3 155.5,182.2 155.9,180.5 156.3,180.2 156.7,178.6 157.1,180.5 157.4,181.5 157.8,183.3 158.2,185.9 158.6,190.3 159.0,193.7 159.4,197.4 159.8,200.5 160.2,202.6 160.6,204.0 161.0,204.8 161.4,204.8 161.7,204.6 162.1,203.5 162.5,202.2 162.9,200.5 163.3,198.3 163.7,195.1 164.1,191.0 164.5,186.2 164.9,180.8 165.3,173.9 165.7,168.0 166.1,159.7 166.4,152.9 166.8,142.7 167.2,134.9 167.6,127.5 168.0,119.2 168.4,113.4 168.8,111.2 169.2,105.6 169.6,104.7 170.0,102.2 170.4,101.9 170.7,106.2 171.1,108.7 171.5,112.6 171.9,116.4 172.3,120.6 172.7,124.7 173.1,130.9 173.5,133.4 173.9,139.5 174.3,142.7 174.7,145.9 175.1,149.9 175.4,154.7 175.8,158.1 176.2,161.3 176.6,164.4 177.0,166.9 177.4,172.1 177.8,174.0 178.2,177.2 178.6,180.4 179.0,183.5 179.4,185.9 179.7,189.2 180.1,191.6 180.5,194.1 180.9,195.9 181.3,198.7 181.7,199.7 182.1,201.4 182.5,202.6 182.9,203.7 183.3,204.6 183.7,205.1 184.1,205.6 184.4,206.0 184.8,206.3 185.2,206.5 185.6,206.6 186.0,206.6 186.4,206.6 186.8,206.6 187.2,206.6 187.6,206.6 188.0,206.6 188.4,206.6 188.8,206.6 189.1,206.6 189.5,206.6 189.9,206.6 190.3,206.6 190.7,206.6 191.1,206.6 191.5,206.6 191.9,206.6 192.3,206.6 192.7,206.6 193.1,206.6 193.4,206.6 193.8,206.5 194.2,206.3 194.6,206.1 195.0,206.0 195.4,205.7 195.8,205.4 196.2,204.9 196.6,204.7 197.0,204.2 197.4,203.8 197.8,203.4 198.1,202.8 198.5,202.2 198.9,202.3 199.3,201.8 199.7,201.8 200.1,202.0 200.5,202.0 200.9,202.3 201.3,202.7 201.7,202.9 202.1,203.7 202.4,204.0 202.8,204.5 203.2,205.0 203.6,205.4 204.0,205.8 204.4,206.1 204.8,206.3 205.2,206.5 205.6,206.6 206.0,206.6 206.4,206.6 206.8,206.6 207.1,206.6 207.5,206.6 207.9,206.6 208.3,206.6 208.7,206.6 209.1,206.6 209.5,206.6 209.9,206.6 210.3,206.6 210.7,206.6 211.1,206.6 211.4,206.6 211.8,206.6 212.2,206.6 212.6,206.6 213.0,206.6 213.4,206.6 213.8,206.6 214.2,206.6 214.6,206.6 215.0,206.6 215.4,206.6 215.8,206.6 216.1,206.6 216.5,206.6 216.9,206.6 217.3,206.6 217.7,206.6 218.1,206.6 218.5,206.6 218.9,206.6 219.3,206.6 219.7,206.6 220.1,206.6 220.4,206.6 220.8,206.6 221.2,206.6 221.6,206.6 222.0,206.6 222.4,206.6 222.8,206.6 223.2,206.6 223.6,206.6 224.0,206.6 224.4,206.6 224.8,206.4 225.1,206.2 225.5,205.8 225.9,205.3 226.3,204.7 226.7,204.0 227.1,203.2 227.5,202.5 227.9,201.6 228.3,201.1 228.7,200.7 229.1,200.3 229.4,200.2 229.8,200.2 230.2,200.0 230.6,199.5 231.0,199.1 231.4,198.2 231.8,198.0 232.2,196.6 232.6,195.5 233.0,194.3 233.4,193.8 233.8,193.4 234.1,193.0 234.5,193.6 234.9,194.6 235.3,194.4 235.7,194.9 236.1,195.5 236.5,194.8 236.9,194.7 237.3,193.2 237.7,192.7 238.1,192.1 238.4,191.3 238.8,191.2 239.2,190.9 239.6,191.5 240.0,192.6 240.4,194.0 240.8,196.3 241.2,196.7 241.6,198.6 242.0,199.4 242.4,200.5 242.8,201.7 243.1,202.7 243.5,203.5 243.9,204.2 244.3,204.9 244.7,205.4 245.1,205.8 245.5,206.1 245.9,206.4 246.3,206.6 246.7,206.6 247.1,206.6 247.5,206.6 247.8,206.6 248.2,206.6 248.6,206.6 249.0,206.6 249.4,206.6 249.8,206.6 250.2,206.6 250.6,206.6 251.0,206.6 251.4,206.6 251.8,206.6 252.1,206.6 252.5,206.6 252.9,206.6 253.3,206.6 253.7,206.6 254.1,206.6 254.5,206.6 254.9,206.6 255.3,206.6 255.7,206.6 256.1,206.6 256.5,206.6 256.8,206.6 257.2,206.6 257.6,206.6 258.0,206.6 258.4,206.6 258.8,206.6 259.2,206.6 259.6,206.6 260.0,206.6 260.4,206.6 260.8,206.6 261.1,206.6 261.5,206.6 261.9,206.6 262.3,206.6 262.7,206.6 263.1,206.6 263.5,206.6 263.9,206.6 264.3,206.6 264.7,206.6 265.1,206.6 265.5,206.6 265.8,206.6 266.2,206.6 266.6,206.6 267.0,206.6 267.4,206.6 267.8,206.6 268.2,206.6 268.6,206.6 269.0,206.6 269.4,206.6 269.8,206.6 270.1,206.6 270.5,206.6 270.9,206.6 271.3,206.6 271.7,206.6 272.1,206.6 272.5,206.6 272.9,206.6 273.3,206.6 273.7,206.6 274.1,206.6 274.5,206.6 274.8,206.6 275.2,206.6 275.6,206.6 276.0,206.6 276.4,206.6 276.8,206.6" fill="none" stroke="#2b33c0" stroke-width="1.5" stroke-linejoin="round" />
<polyline points="42.0,206.6 42.4,206.6 42.8,206.6 43.2,206.6 43.6,206.6 44.0,206.6 44.3,206.6 44.7,206.6 45.1,206.6 45.5,206.6 45.9,206.6 46.3,206.6 46.7,206.6 47.1,206.6 47.5,206.6 47.9,206.6 48.3,206.6 48.7,206.6 49.0,206.6 49.4,206.6 49.8,206.6 50.2,206.6 50.6,206.6 51.0,206.6 51.4,206.6 51.8,206.6 52.2,206.6 52.6,206.6 53.0,206.6 53.3,206.6 53.7,206.6 54.1,206.6 54.5,206.6 54.9,206.6 55.3,206.6 55.7,206.6 56.1,206.6 56.5,206.6 56.9,206.6 57.3,206.6 57.7,206.6 58.0,206.6 58.4,206.6 58.8,206.6 59.2,206.6 59.6,206.6 60.0,206.6 60.4,206.6 60.8,206.6 61.2,206.6 61.6,206.6 62.0,206.6 62.3,206.6 62.7,206.6 63.1,206.6 63.5,206.6 63.9,206.6 64.3,206.6 64.7,206.6 65.1,206.6 65.5,206.6 65.9,206.6 66.3,206.6 66.7,206.6 67.0,206.6 67.4,206.6 67.8,206.6 68.2,206.6 68.6,206.6 69.0,206.6 69.4,206.6 69.8,206.6 70.2,206.6 70.6,206.6 71.0,206.6 71.3,206.6 71.7,206.6 72.1,206.6 72.5,206.6 72.9,206.6 73.3,206.6 73.7,206.6 74.1,206.6 74.5,206.6 74.9,206.6 75.3,206.6 75.7,206.6 76.0,206.6 76.4,206.6 76.8,206.6 77.2,206.6 77.6,206.6 78.0,206.6 78.4,206.6 78.8,206.6 79.2,206.6 79.6,206.6 80.0,206.6 80.4,206.6 80.7,206.6 81.1,206.6 81.5,206.6 81.9,206.6 82.3,206.6 82.7,206.6 83.1,206.6 83.5,206.6 83.9,206.6 84.3,206.6 84.7,206.6 85.0,206.6 85.4,206.6 85.8,206.6 86.2,206.6 86.6,206.6 87.0,206.6 87.4,206.6 87.8,206.6 88.2,206.6 88.6,206.6 89.0,206.6 89.4,206.6 89.7,206.6 90.1,206.6 90.5,206.6 90.9,206.6 91.3,206.6 91.7,206.6 92.1,206.6 92.5,206.6 92.9,206.6 93.3,206.6 93.7,206.6 94.0,206.6 94.4,206.6 94.8,206.6 95.2,206.6 95.6,206.6 96.0,206.6 96.4,206.6 96.8,206.6 97.2,206.6 97.6,206.6 98.0,206.6 98.4,206.6 98.7,206.6 99.1,206.6 99.5,206.6 99.9,206.6 100.3,206.6 100.7,206.6 101.1,206.6 101.5,206.6 101.9,206.6 102.3,206.6 102.7,206.6 103.0,206.6 103.4,206.6 103.8,206.6 104.2,206.6 104.6,206.6 105.0,206.6 105.4,206.6 105.8,206.6 106.2,206.6 106.6,206.6 107.0,206.6 107.4,206.6 107.7,206.6 108.1,206.6 108.5,206.6 108.9,206.6 109.3,206.6 109.7,206.6 110.1,206.6 110.5,206.6 110.9,206.6 111.3,206.6 111.7,206.6 112.0,206.6 112.4,206.6 112.8,206.6 113.2,206.6 113.6,206.6 114.0,206.6 114.4,206.6 114.8,206.6 115.2,206.6 115.6,206.6 116.0,206.6 116.4,206.6 116.7,206.6 117.1,206.6 117.5,206.6 117.9,206.6 118.3,206.6 118.7,206.6 119.1,206.6 119.5,206.6 119.9,206.6 120.3,206.6 120.7,206.6 121.0,206.6 121.4,206.6 121.8,206.6 122.2,206.6 122.6,206.6 123.0,206.6 123.4,206.6 123.8,206.6 124.2,206.6 124.6,206.6 125.0,206.6 125.4,206.6 125.7,206.6 126.1,206.6 126.5,206.6 126.9,206.6 127.3,206.6 127.7,206.6 128.1,206.6 128.5,206.6 128.9,206.6 129.3,206.6 129.7,206.6 130.1,206.6 130.4,206.6 130.8,206.6 131.2,206.6 131.6,206.6 132.0,206.6 132.4,206.6 132.8,206.6 133.2,206.6 133.6,206.6 134.0,206.6 134.4,206.6 134.7,206.6 135.1,206.6 135.5,206.6 135.9,206.6 136.3,206.6 136.7,206.6 137.1,206.6 137.5,206.6 137.9,206.6 138.3,206.6 138.7,206.6 139.1,206.6 139.4,206.6 139.8,206.6 140.2,206.6 140.6,206.2 141.0,205.2 141.4,203.7 141.8,201.9 142.2,200.7 142.6,199.9 143.0,200.2 143.4,202.0 143.7,203.6 144.1,204.9 144.5,205.6 144.9,205.6 145.3,205.3 145.7,204.2 146.1,203.1 146.5,201.3 146.9,199.0 147.3,196.7 147.7,193.7 148.1,190.0 148.4,188.3 148.8,185.8 149.2,184.5 149.6,182.4 150.0,180.9 150.4,179.0 150.8,178.1 151.2,176.8 151.6,176.0 152.0,176.6 152.4,177.4 152.7,178.2 153.1,178.0 153.5,179.3 153.9,179.6 154.3,180.3 154.7,181.6 155.1,181.1 155.5,182.4 155.9,179.7 156.3,180.1 156.7,180.8 157.1,181.8 157.4,182.0 157.8,185.4 158.2,187.7 158.6,190.5 159.0,194.4 159.4,197.9 159.8,200.5 160.2,202.8 160.6,204.1 161.0,204.8 161.4,204.9 161.7,204.5 162.1,203.8 162.5,202.2 162.9,200.8 163.3,197.9 163.7,195.7 164.1,191.4 164.5,187.7 164.9,182.6 165.3,175.5 165.7,168.2 166.1,162.2 166.4,152.4 166.8,145.7 167.2,137.0 167.6,129.2 168.0,122.1 168.4,118.0 168.8,110.7 169.2,108.1 169.6,106.9 170.0,106.8 170.4,108.0 170.7,109.7 171.1,111.2 171.5,115.4 171.9,120.1 172.3,123.9 172.7,126.8 173.1,132.6 173.5,137.1 173.9,139.8 174.3,144.4 174.7,148.4 175.1,152.5 175.4,156.7 175.8,159.8 176.2,162.7 176.6,165.8 177.0,168.6 177.4,171.7 177.8,175.2 178.2,178.3 178.6,182.1 179.0,185.6 179.4,187.5 179.7,190.3 180.1,192.6 180.5,194.7 180.9,197.0 181.3,198.8 181.7,200.2 182.1,201.5 182.5,202.8 182.9,203.7 183.3,204.5 183.7,205.2 184.1,205.6 184.4,206.0 184.8,206.3 185.2,206.5 185.6,206.6 186.0,206.6 186.4,206.6 186.8,206.6 187.2,206.6 187.6,206.6 188.0,206.6 188.4,206.6 188.8,206.6 189.1,206.6 189.5,206.6 189.9,206.6 190.3,206.6 190.7,206.6 191.1,206.6 191.5,206.6 191.9,206.6 192.3,206.6 192.7,206.6 193.1,206.6 193.4,206.6 193.8,206.5 194.2,206.4 194.6,206.2 195.0,206.0 195.4,205.7 195.8,205.4 196.2,205.1 196.6,204.6 197.0,204.2 197.4,203.7 197.8,203.5 198.1,203.0 198.5,202.5 198.9,202.4 199.3,202.2 199.7,201.9 200.1,201.8 200.5,202.3 200.9,202.7 201.3,202.9 201.7,203.3 202.1,203.7 202.4,204.1 202.8,204.6 203.2,205.1 203.6,205.5 204.0,205.9 204.4,206.1 204.8,206.4 205.2,206.5 205.6,206.6 206.0,206.6 206.4,206.6 206.8,206.6 207.1,206.6 207.5,206.6 207.9,206.6 208.3,206.6 208.7,206.6 209.1,206.6 209.5,206.6 209.9,206.6 210.3,206.6 210.7,206.6 211.1,206.6 211.4,206.6 211.8,206.6 212.2,206.6 212.6,206.6 213.0,206.6 213.4,206.6 213.8,206.6 214.2,206.6 214.6,206.6 215.0,206.6 215.4,206.6 215.8,206.6 216.1,206.6 216.5,206.6 216.9,206.6 217.3,206.6 217.7,206.6 218.1,206.6 218.5,206.6 218.9,206.6 219.3,206.6 219.7,206.6 220.1,206.6 220.4,206.6 220.8,206.6 221.2,206.6 221.6,206.6 222.0,206.6 222.4,206.6 222.8,206.6 223.2,206.6 223.6,206.6 224.0,206.6 224.4,206.6 224.8,206.5 225.1,206.2 225.5,205.8 225.9,205.3 226.3,204.6 226.7,204.0 227.1,203.2 227.5,202.6 227.9,201.8 228.3,201.3 228.7,200.9 229.1,200.6 229.4,200.4 229.8,200.2 230.2,200.1 230.6,200.0 231.0,199.6 231.4,198.6 231.8,198.2 232.2,196.9 232.6,195.2 233.0,195.5 233.4,194.2 233.8,193.4 234.1,194.2 234.5,193.2 234.9,195.4 235.3,194.7 235.7,195.1 236.1,195.4 236.5,195.5 236.9,194.7 237.3,194.3 237.7,192.8 238.1,192.6 238.4,191.7 238.8,190.9 239.2,191.9 239.6,192.2 240.0,192.9 240.4,194.6 240.8,195.2 241.2,196.9 241.6,198.7 242.0,199.7 242.4,201.0 242.8,202.0 243.1,202.8 243.5,203.7 243.9,204.2 244.3,204.9 244.7,205.4 245.1,205.8 245.5,206.1 245.9,206.4 246.3,206.6 246.7,206.6 247.1,206.6 247.5,206.6 247.8,206.6 248.2,206.6 248.6,206.6 249.0,206.6 249.4,206.6 249.8,206.6 250.2,206.6 250.6,206.6 251.0,206.6 251.4,206.6 251.8,206.6 252.1,206.6 252.5,206.6 252.9,206.6 253.3,206.6 253.7,206.6 254.1,206.6 254.5,206.6 254.9,206.6 255.3,206.6 255.7,206.6 256.1,206.6 256.5,206.6 256.8,206.6 257.2,206.6 257.6,206.6 258.0,206.6 258.4,206.6 258.8,206.6 259.2,206.6 259.6,206.6 260.0,206.6 260.4,206.6 260.8,206.6 261.1,206.6 261.5,206.6 261.9,206.6 262.3,206.6 262.7,206.6 263.1,206.6 263.5,206.6 263.9,206.6 264.3,206.6 264.7,206.6 265.1,206.6 265.5,206.6 265.8,206.6 266.2,206.6 266.6,206.6 267.0,206.6 267.4,206.6 267.8,206.6 268.2,206.6 268.6,206.6 269.0,206.6 269.4,206.6 269.8,206.6 270.1,206.6 270.5,206.6 270.9,206.6 271.3,206.6 271.7,206.6 272.1,206.6 272.5,206.6 272.9,206.6 273.3,206.6 273.7,206.6 274.1,206.6 274.5,206.6 274.8,206.6 275.2,206.6 275.6,206.6 276.0,206.6 276.4,206.6 276.8,206.6" fill="none" stroke="#7a2fc0" stroke-width="1.5" stroke-linejoin="round" />
<polyline points="42.0,206.6 42.4,206.6 42.8,206.6 43.2,206.6 43.6,206.6 44.0,206.6 44.3,206.6 44.7,206.6 45.1,206.6 45.5,206.6 45.9,206.6 46.3,206.6 46.7,206.6 47.1,206.6 47.5,206.6 47.9,206.6 48.3,206.6 48.7,206.6 49.0,206.6 49.4,206.6 49.8,206.6 50.2,206.6 50.6,206.6 51.0,206.6 51.4,206.6 51.8,206.6 52.2,206.6 52.6,206.6 53.0,206.6 53.3,206.6 53.7,206.6 54.1,206.6 54.5,206.6 54.9,206.6 55.3,206.6 55.7,206.6 56.1,206.6 56.5,206.6 56.9,206.6 57.3,206.6 57.7,206.6 58.0,206.6 58.4,206.6 58.8,206.6 59.2,206.6 59.6,206.6 60.0,206.6 60.4,206.6 60.8,206.6 61.2,206.6 61.6,206.6 62.0,206.6 62.3,206.6 62.7,206.6 63.1,206.6 63.5,206.6 63.9,206.6 64.3,206.6 64.7,206.6 65.1,206.6 65.5,206.6 65.9,206.6 66.3,206.6 66.7,206.6 67.0,206.6 67.4,206.6 67.8,206.6 68.2,206.6 68.6,206.6 69.0,206.6 69.4,206.6 69.8,206.6 70.2,206.6 70.6,206.6 71.0,206.6 71.3,206.6 71.7,206.6 72.1,206.6 72.5,206.6 72.9,206.6 73.3,206.6 73.7,206.6 74.1,206.6 74.5,206.6 74.9,206.6 75.3,206.6 75.7,206.6 76.0,206.6 76.4,206.6 76.8,206.6 77.2,206.6 77.6,206.6 78.0,206.6 78.4,206.6 78.8,206.6 79.2,206.6 79.6,206.6 80.0,206.6 80.4,206.6 80.7,206.6 81.1,206.6 81.5,206.6 81.9,206.6 82.3,206.6 82.7,206.6 83.1,206.6 83.5,206.6 83.9,206.6 84.3,206.6 84.7,206.6 85.0,206.6 85.4,206.6 85.8,206.6 86.2,206.6 86.6,206.6 87.0,206.6 87.4,206.6 87.8,206.6 88.2,206.6 88.6,206.6 89.0,206.6 89.4,206.6 89.7,206.6 90.1,206.6 90.5,206.6 90.9,206.6 91.3,206.6 91.7,206.6 92.1,206.6 92.5,206.6 92.9,206.6 93.3,206.6 93.7,206.6 94.0,206.6 94.4,206.6 94.8,206.6 95.2,206.6 95.6,206.6 96.0,206.6 96.4,206.6 96.8,206.6 97.2,206.6 97.6,206.6 98.0,206.6 98.4,206.6 98.7,206.6 99.1,206.6 99.5,206.6 99.9,206.6 100.3,206.6 100.7,206.6 101.1,206.6 101.5,206.6 101.9,206.6 102.3,206.6 102.7,206.6 103.0,206.6 103.4,206.6 103.8,206.6 104.2,206.6 104.6,206.6 105.0,206.6 105.4,206.6 105.8,206.6 106.2,206.6 106.6,206.6 107.0,206.6 107.4,206.6 107.7,206.6 108.1,206.6 108.5,206.6 108.9,206.6 109.3,206.6 109.7,206.6 110.1,206.6 110.5,206.6 110.9,206.6 111.3,206.6 111.7,206.6 112.0,206.6 112.4,206.6 112.8,206.6 113.2,206.6 113.6,206.6 114.0,206.6 114.4,206.6 114.8,206.6 115.2,206.6 115.6,206.6 116.0,206.6 116.4,206.6 116.7,206.6 117.1,206.6 117.5,206.6 117.9,206.6 118.3,206.6 118.7,206.6 119.1,206.6 119.5,206.6 119.9,206.6 120.3,206.6 120.7,206.6 121.0,206.6 121.4,206.6 121.8,206.6 122.2,206.6 122.6,206.6 123.0,206.6 123.4,206.6 123.8,206.6 124.2,206.6 124.6,206.6 125.0,206.6 125.4,206.6 125.7,206.6 126.1,206.6 126.5,206.6 126.9,206.6 127.3,206.6 127.7,206.6 128.1,206.6 128.5,206.6 128.9,206.6 129.3,206.6 129.7,206.6 130.1,206.6 130.4,206.6 130.8,206.6 131.2,206.6 131.6,206.6 132.0,206.6 132.4,206.6 132.8,206.6 133.2,206.6 133.6,206.6 134.0,206.6 134.4,206.6 134.7,206.6 135.1,206.6 135.5,206.6 135.9,206.6 136.3,206.6 136.7,206.6 137.1,206.6 137.5,206.6 137.9,206.6 138.3,206.6 138.7,206.6 139.1,206.6 139.4,206.6 139.8,206.6 140.2,206.6 140.6,206.6 141.0,206.0 141.4,205.2 141.8,204.2 142.2,203.4 142.6,202.9 143.0,203.3 143.4,204.1 143.7,205.1 144.1,205.8 144.5,206.2 144.9,206.2 145.3,205.9 145.7,205.4 146.1,204.6 146.5,203.8 146.9,202.5 147.3,200.9 147.7,199.5 148.1,197.6 148.4,196.8 148.8,194.8 149.2,194.0 149.6,192.1 150.0,191.6 150.4,190.3 150.8,190.2 151.2,190.0 151.6,189.5 152.0,189.3 152.4,189.8 152.7,189.4 153.1,189.9 153.5,191.0 153.9,192.0 154.3,192.1 154.7,192.5 155.1,191.8 155.5,192.2 155.9,192.0 156.3,192.1 156.7,192.6 157.1,192.4 157.4,193.1 157.8,193.8 158.2,195.6 158.6,197.9 159.0,199.8 159.4,201.5 159.8,203.4 160.2,204.6 160.6,205.3 161.0,205.7 161.4,205.8 161.7,205.6 162.1,205.0 162.5,204.5 162.9,203.4 163.3,202.0 163.7,200.3 164.1,198.2 164.5,195.7 164.9,192.1 165.3,189.2 165.7,185.0 166.1,180.7 166.4,176.0 166.8,171.5 167.2,166.1 167.6,162.4 168.0,158.3 168.4,155.0 168.8,153.0 169.2,151.0 169.6,150.0 170.0,148.8 170.4,149.9 170.7,151.2 171.1,151.9 171.5,153.8 171.9,157.8 172.3,157.7 172.7,161.5 173.1,164.2 173.5,165.7 173.9,168.9 174.3,171.6 174.7,171.7 175.1,176.2 175.4,177.5 175.8,178.8 176.2,182.0 176.6,183.3 177.0,184.9 177.4,185.7 177.8,189.2 178.2,190.6 178.6,192.1 179.0,194.0 179.4,196.0 179.7,197.1 180.1,198.6 180.5,199.8 180.9,200.9 181.3,202.0 181.7,203.0 182.1,203.8 182.5,204.6 182.9,205.1 183.3,205.6 183.7,205.9 184.1,206.2 184.4,206.5 184.8,206.6 185.2,206.6 185.6,206.6 186.0,206.6 186.4,206.6 186.8,206.6 187.2,206.6 187.6,206.6 188.0,206.6 188.4,206.6 188.8,206.6 189.1,206.6 189.5,206.6 189.9,206.6 190.3,206.6 190.7,206.6 191.1,206.6 191.5,206.6 191.9,206.6 192.3,206.6 192.7,206.6 193.1,206.6 193.4,206.6 193.8,206.6 194.2,206.6 194.6,206.5 195.0,206.4 195.4,206.2 195.8,206.1 196.2,205.9 196.6,205.7 197.0,205.4 197.4,205.2 197.8,204.9 198.1,204.7 198.5,204.6 198.9,204.3 199.3,204.1 199.7,204.1 200.1,204.1 200.5,204.2 200.9,204.4 201.3,204.6 201.7,204.8 202.1,205.0 202.4,205.3 202.8,205.6 203.2,205.9 203.6,206.1 204.0,206.3 204.4,206.5 204.8,206.6 205.2,206.6 205.6,206.6 206.0,206.6 206.4,206.6 206.8,206.6 207.1,206.6 207.5,206.6 207.9,206.6 208.3,206.6 208.7,206.6 209.1,206.6 209.5,206.6 209.9,206.6 210.3,206.6 210.7,206.6 211.1,206.6 211.4,206.6 211.8,206.6 212.2,206.6 212.6,206.6 213.0,206.6 213.4,206.6 213.8,206.6 214.2,206.6 214.6,206.6 215.0,206.6 215.4,206.6 215.8,206.6 216.1,206.6 216.5,206.6 216.9,206.6 217.3,206.6 217.7,206.6 218.1,206.6 218.5,206.6 218.9,206.6 219.3,206.6 219.7,206.6 220.1,206.6 220.4,206.6 220.8,206.6 221.2,206.6 221.6,206.6 222.0,206.6 222.4,206.6 222.8,206.6 223.2,206.6 223.6,206.6 224.0,206.6 224.4,206.6 224.8,206.6 225.1,206.5 225.5,206.3 225.9,206.1 226.3,205.8 226.7,205.3 227.1,204.8 227.5,204.4 227.9,204.2 228.3,203.6 228.7,203.5 229.1,203.3 229.4,203.1 229.8,203.2 230.2,203.1 230.6,203.1 231.0,202.8 231.4,202.5 231.8,201.7 232.2,201.1 232.6,200.3 233.0,199.9 233.4,199.6 233.8,199.2 234.1,199.4 234.5,199.4 234.9,199.8 235.3,200.4 235.7,200.4 236.1,200.5 236.5,200.4 236.9,199.8 237.3,199.2 237.7,199.1 238.1,198.6 238.4,198.6 238.8,198.0 239.2,198.2 239.6,198.9 240.0,198.9 240.4,199.5 240.8,200.5 241.2,201.3 241.6,202.2 242.0,202.7 242.4,203.6 242.8,204.1 243.1,204.5 243.5,205.0 243.9,205.4 244.3,205.8 244.7,206.1 245.1,206.3 245.5,206.5 245.9,206.6 246.3,206.6 246.7,206.6 247.1,206.6 247.5,206.6 247.8,206.6 248.2,206.6 248.6,206.6 249.0,206.6 249.4,206.6 249.8,206.6 250.2,206.6 250.6,206.6 251.0,206.6 251.4,206.6 251.8,206.6 252.1,206.6 252.5,206.6 252.9,206.6 253.3,206.6 253.7,206.6 254.1,206.6 254.5,206.6 254.9,206.6 255.3,206.6 255.7,206.6 256.1,206.6 256.5,206.6 256.8,206.6 257.2,206.6 257.6,206.6 258.0,206.6 258.4,206.6 258.8,206.6 259.2,206.6 259.6,206.6 260.0,206.6 260.4,206.6 260.8,206.6 261.1,206.6 261.5,206.6 261.9,206.6 262.3,206.6 262.7,206.6 263.1,206.6 263.5,206.6 263.9,206.6 264.3,206.6 264.7,206.6 265.1,206.6 265.5,206.6 265.8,206.6 266.2,206.6 266.6,206.6 267.0,206.6 267.4,206.6 267.8,206.6 268.2,206.6 268.6,206.6 269.0,206.6 269.4,206.6 269.8,206.6 270.1,206.6 270.5,206.6 270.9,206.6 271.3,206.6 271.7,206.6 272.1,206.6 272.5,206.6 272.9,206.6 273.3,206.6 273.7,206.6 274.1,206.6 274.5,206.6 274.8,206.6 275.2,206.6 275.6,206.6 276.0,206.6 276.4,206.6 276.8,206.6" fill="none" stroke="#c8282d" stroke-width="1.5" stroke-linejoin="round" />
<polyline points="42.0,206.6 42.4,206.6 42.8,206.6 43.2,206.6 43.6,206.6 44.0,206.6 44.3,206.6 44.7,206.6 45.1,206.6 45.5,206.6 45.9,206.6 46.3,206.6 46.7,206.6 47.1,206.6 47.5,206.6 47.9,206.6 48.3,206.6 48.7,206.6 49.0,206.6 49.4,206.6 49.8,206.6 50.2,206.6 50.6,206.6 51.0,206.6 51.4,206.6 51.8,206.6 52.2,206.6 52.6,206.6 53.0,206.6 53.3,206.6 53.7,206.6 54.1,206.6 54.5,206.6 54.9,206.6 55.3,206.6 55.7,206.6 56.1,206.6 56.5,206.6 56.9,206.6 57.3,206.6 57.7,206.6 58.0,206.6 58.4,206.6 58.8,206.6 59.2,206.6 59.6,206.6 60.0,206.6 60.4,206.6 60.8,206.6 61.2,206.6 61.6,206.6 62.0,206.6 62.3,206.6 62.7,206.6 63.1,206.6 63.5,206.6 63.9,206.6 64.3,206.6 64.7,206.6 65.1,206.6 65.5,206.6 65.9,206.6 66.3,206.6 66.7,206.6 67.0,206.6 67.4,206.6 67.8,206.6 68.2,206.6 68.6,206.6 69.0,206.6 69.4,206.6 69.8,206.6 70.2,206.6 70.6,206.6 71.0,206.6 71.3,206.6 71.7,206.6 72.1,206.6 72.5,206.6 72.9,206.6 73.3,206.6 73.7,206.6 74.1,206.6 74.5,206.6 74.9,206.6 75.3,206.6 75.7,206.6 76.0,206.6 76.4,206.6 76.8,206.6 77.2,206.6 77.6,206.6 78.0,206.6 78.4,206.6 78.8,206.6 79.2,206.6 79.6,206.6 80.0,206.6 80.4,206.6 80.7,206.6 81.1,206.6 81.5,206.6 81.9,206.6 82.3,206.6 82.7,206.6 83.1,206.6 83.5,206.6 83.9,206.6 84.3,206.6 84.7,206.6 85.0,206.6 85.4,206.6 85.8,206.6 86.2,206.6 86.6,206.6 87.0,206.6 87.4,206.6 87.8,206.6 88.2,206.6 88.6,206.6 89.0,206.6 89.4,206.6 89.7,206.6 90.1,206.6 90.5,206.6 90.9,206.6 91.3,206.6 91.7,206.6 92.1,206.6 92.5,206.6 92.9,206.6 93.3,206.6 93.7,206.6 94.0,206.6 94.4,206.6 94.8,206.6 95.2,206.6 95.6,206.6 96.0,206.6 96.4,206.6 96.8,206.6 97.2,206.6 97.6,206.6 98.0,206.6 98.4,206.6 98.7,206.6 99.1,206.6 99.5,206.6 99.9,206.6 100.3,206.6 100.7,206.6 101.1,206.6 101.5,206.6 101.9,206.6 102.3,206.6 102.7,206.6 103.0,206.6 103.4,206.6 103.8,206.6 104.2,206.6 104.6,206.6 105.0,206.6 105.4,206.6 105.8,206.6 106.2,206.6 106.6,206.6 107.0,206.6 107.4,206.6 107.7,206.6 108.1,206.6 108.5,206.6 108.9,206.6 109.3,206.6 109.7,206.6 110.1,206.6 110.5,206.6 110.9,206.6 111.3,206.6 111.7,206.6 112.0,206.6 112.4,206.6 112.8,206.6 113.2,206.6 113.6,206.6 114.0,206.6 114.4,206.6 114.8,206.6 115.2,206.6 115.6,206.6 116.0,206.6 116.4,206.6 116.7,206.6 117.1,206.6 117.5,206.6 117.9,206.6 118.3,206.6 118.7,206.6 119.1,206.6 119.5,206.6 119.9,206.6 120.3,206.6 120.7,206.6 121.0,206.6 121.4,206.6 121.8,206.6 122.2,206.6 122.6,206.6 123.0,206.6 123.4,206.6 123.8,206.6 124.2,206.6 124.6,206.6 125.0,206.6 125.4,206.6 125.7,206.6 126.1,206.6 126.5,206.6 126.9,206.6 127.3,206.6 127.7,206.6 128.1,206.6 128.5,206.6 128.9,206.6 129.3,206.6 129.7,206.6 130.1,206.6 130.4,206.6 130.8,206.6 131.2,206.6 131.6,206.6 132.0,206.6 132.4,206.6 132.8,206.6 133.2,206.6 133.6,206.6 134.0,206.6 134.4,206.6 134.7,206.6 135.1,206.6 135.5,206.6 135.9,206.6 136.3,206.6 136.7,206.6 137.1,206.6 137.5,206.6 137.9,206.6 138.3,206.6 138.7,206.6 139.1,206.6 139.4,206.6 139.8,206.6 140.2,206.6 140.6,206.6 141.0,206.4 141.4,205.9 141.8,205.4 142.2,204.9 142.6,204.7 143.0,205.0 143.4,205.4 143.7,205.9 144.1,206.3 144.5,206.6 144.9,206.6 145.3,206.4 145.7,206.1 146.1,205.7 146.5,205.1 146.9,204.4 147.3,203.6 147.7,202.7 148.1,201.9 148.4,201.1 148.8,199.9 149.2,199.5 149.6,199.1 150.0,198.2 150.4,197.3 150.8,197.3 151.2,196.7 151.6,196.9 152.0,197.0 152.4,197.2 152.7,197.3 153.1,197.2 153.5,198.3 153.9,197.9 154.3,198.7 154.7,198.7 155.1,198.5 155.5,198.6 155.9,198.5 156.3,198.8 156.7,198.3 157.1,198.8 157.4,198.4 157.8,199.6 158.2,200.5 158.6,201.9 159.0,202.9 159.4,204.1 159.8,204.9 160.2,205.6 160.6,206.0 161.0,206.3 161.4,206.3 161.7,206.2 162.1,206.0 162.5,205.6 162.9,204.9 163.3,204.3 163.7,203.2 164.1,201.9 164.5,200.7 164.9,198.6 165.3,196.9 165.7,194.1 166.1,191.6 166.4,189.7 166.8,186.9 167.2,184.7 167.6,181.6 168.0,178.7 168.4,178.6 168.8,175.3 169.2,175.9 169.6,174.9 170.0,175.4 170.4,172.8 170.7,174.9 171.1,175.7 171.5,177.6 171.9,177.6 172.3,181.2 172.7,181.2 173.1,181.3 173.5,184.3 173.9,185.4 174.3,186.4 174.7,188.3 175.1,189.1 175.4,189.8 175.8,191.3 176.2,192.3 176.6,193.6 177.0,194.5 177.4,195.6 177.8,196.3 178.2,197.5 178.6,198.7 179.0,200.1 179.4,200.4 179.7,201.3 180.1,202.3 180.5,203.2 180.9,203.7 181.3,204.2 181.7,204.8 182.1,205.2 182.5,205.6 182.9,205.9 183.3,206.2 183.7,206.4 184.1,206.6 184.4,206.6 184.8,206.6 185.2,206.6 185.6,206.6 186.0,206.6 186.4,206.6 186.8,206.6 187.2,206.6 187.6,206.6 188.0,206.6 188.4,206.6 188.8,206.6 189.1,206.6 189.5,206.6 189.9,206.6 190.3,206.6 190.7,206.6 191.1,206.6 191.5,206.6 191.9,206.6 192.3,206.6 192.7,206.6 193.1,206.6 193.4,206.6 193.8,206.6 194.2,206.6 194.6,206.6 195.0,206.6 195.4,206.6 195.8,206.5 196.2,206.3 196.6,206.2 197.0,206.1 197.4,205.9 197.8,205.8 198.1,205.7 198.5,205.6 198.9,205.5 199.3,205.4 199.7,205.4 200.1,205.4 200.5,205.4 200.9,205.5 201.3,205.6 201.7,205.8 202.1,205.9 202.4,206.1 202.8,206.2 203.2,206.4 203.6,206.5 204.0,206.6 204.4,206.6 204.8,206.6 205.2,206.6 205.6,206.6 206.0,206.6 206.4,206.6 206.8,206.6 207.1,206.6 207.5,206.6 207.9,206.6 208.3,206.6 208.7,206.6 209.1,206.6 209.5,206.6 209.9,206.6 210.3,206.6 210.7,206.6 211.1,206.6 211.4,206.6 211.8,206.6 212.2,206.6 212.6,206.6 213.0,206.6 213.4,206.6 213.8,206.6 214.2,206.6 214.6,206.6 215.0,206.6 215.4,206.6 215.8,206.6 216.1,206.6 216.5,206.6 216.9,206.6 217.3,206.6 217.7,206.6 218.1,206.6 218.5,206.6 218.9,206.6 219.3,206.6 219.7,206.6 220.1,206.6 220.4,206.6 220.8,206.6 221.2,206.6 221.6,206.6 222.0,206.6 222.4,206.6 222.8,206.6 223.2,206.6 223.6,206.6 224.0,206.6 224.4,206.6 224.8,206.6 225.1,206.6 225.5,206.6 225.9,206.5 226.3,206.3 226.7,206.1 227.1,205.8 227.5,205.6 227.9,205.3 228.3,205.1 228.7,205.1 229.1,204.8 229.4,204.7 229.8,204.8 230.2,204.7 230.6,204.7 231.0,204.6 231.4,204.3 231.8,204.0 232.2,203.6 232.6,203.1 233.0,202.9 233.4,202.7 233.8,202.5 234.1,202.8 234.5,202.9 234.9,203.0 235.3,203.2 235.7,203.2 236.1,203.3 236.5,203.1 236.9,202.9 237.3,202.7 237.7,202.5 238.1,202.1 238.4,201.9 238.8,202.0 239.2,201.9 239.6,202.0 240.0,202.4 240.4,202.7 240.8,203.2 241.2,203.8 241.6,204.2 242.0,204.7 242.4,205.0 242.8,205.4 243.1,205.6 243.5,205.9 243.9,206.1 244.3,206.3 244.7,206.5 245.1,206.6 245.5,206.6 245.9,206.6 246.3,206.6 246.7,206.6 247.1,206.6 247.5,206.6 247.8,206.6 248.2,206.6 248.6,206.6 249.0,206.6 249.4,206.6 249.8,206.6 250.2,206.6 250.6,206.6 251.0,206.6 251.4,206.6 251.8,206.6 252.1,206.6 252.5,206.6 252.9,206.6 253.3,206.6 253.7,206.6 254.1,206.6 254.5,206.6 254.9,206.6 255.3,206.6 255.7,206.6 256.1,206.6 256.5,206.6 256.8,206.6 257.2,206.6 257.6,206.6 258.0,206.6 258.4,206.6 258.8,206.6 259.2,206.6 259.6,206.6 260.0,206.6 260.4,206.6 260.8,206.6 261.1,206.6 261.5,206.6 261.9,206.6 262.3,206.6 262.7,206.6 263.1,206.6 263.5,206.6 263.9,206.6 264.3,206.6 264.7,206.6 265.1,206.6 265.5,206.6 265.8,206.6 266.2,206.6 266.6,206.6 267.0,206.6 267.4,206.6 267.8,206.6 268.2,206.6 268.6,206.6 269.0,206.6 269.4,206.6 269.8,206.6 270.1,206.6 270.5,206.6 270.9,206.6 271.3,206.6 271.7,206.6 272.1,206.6 272.5,206.6 272.9,206.6 273.3,206.6 273.7,206.6 274.1,206.6 274.5,206.6 274.8,206.6 275.2,206.6 275.6,206.6 276.0,206.6 276.4,206.6 276.8,206.6" fill="none" stroke="#000000" stroke-width="1.5" stroke-linejoin="round" />
<text x="0.00" y="0.00" font-size="11" font-weight="bold" fill="#000" stroke="#000" stroke-width="0.22"  transform="translate(20.4,97.7) rotate(-90)" text-anchor="middle" textLength="106" lengthAdjust="spacingAndGlyphs">Intensity (arb. units)</text>
<text x="153.80" y="234.60" font-size="11" font-weight="bold" fill="#000" stroke="#000" stroke-width="0.22" text-anchor="middle" >Wavelength (nm)</text>
<text x="50.4" y="25" font-size="11.3" font-weight="bold" fill="#b8262a" stroke="#b8262a" stroke-width="0.2" textLength="81" lengthAdjust="spacingAndGlyphs">Mg<tspan font-size="10" dy="3.5">2</tspan><tspan dy="-3.5">P</tspan><tspan font-size="10" dy="3.5">2</tspan><tspan dy="-3.5">O</tspan><tspan font-size="10" dy="3.5">7</tspan><tspan dy="-3.5">:Eu</tspan><tspan font-size="10" dy="-7">3+</tspan></text>
<text x="48" y="49.8" font-size="12.8" fill="#000" stroke="#000" stroke-width="0.45" textLength="106.5" lengthAdjust="spacingAndGlyphs">em at λ<tspan font-size="13" dy="4.3">ex</tspan><tspan dy="-4.3"> 393 nm</tspan></text>
<line x1="44.00" y1="64.40" x2="65.00" y2="64.40" stroke="#000000" stroke-width="1.4"/>
<text x="67.20" y="67.90" font-size="9.8" font-weight="bold" fill="#6e1f22" stroke="#6e1f22" stroke-width="0.22" text-anchor="start" textLength="47.8" lengthAdjust="spacingAndGlyphs">0.5 mole %</text>
<line x1="44.00" y1="77.20" x2="65.00" y2="77.20" stroke="#c8282d" stroke-width="1.4"/>
<text x="67.20" y="80.70" font-size="9.8" font-weight="bold" fill="#6e1f22" stroke="#6e1f22" stroke-width="0.22" text-anchor="start" textLength="39.2" lengthAdjust="spacingAndGlyphs">1 mole %</text>
<line x1="44.00" y1="90.00" x2="65.00" y2="90.00" stroke="#2b33c0" stroke-width="1.4"/>
<text x="67.20" y="93.50" font-size="9.8" font-weight="bold" fill="#6e1f22" stroke="#6e1f22" stroke-width="0.22" text-anchor="start" textLength="39.2" lengthAdjust="spacingAndGlyphs">2 mole %</text>
<line x1="44.00" y1="102.80" x2="65.00" y2="102.80" stroke="#c23cc8" stroke-width="1.4"/>
<text x="67.20" y="106.30" font-size="9.8" font-weight="bold" fill="#6e1f22" stroke="#6e1f22" stroke-width="0.22" text-anchor="start" textLength="39.2" lengthAdjust="spacingAndGlyphs">3 mole %</text>
<line x1="44.00" y1="115.60" x2="65.00" y2="115.60" stroke="#23862b" stroke-width="1.4"/>
<text x="67.20" y="119.10" font-size="9.8" font-weight="bold" fill="#6e1f22" stroke="#6e1f22" stroke-width="0.22" text-anchor="start" textLength="39.2" lengthAdjust="spacingAndGlyphs">4 mole %</text>
<line x1="44.00" y1="128.40" x2="65.00" y2="128.40" stroke="#1c1c66" stroke-width="1.4"/>
<text x="67.20" y="131.90" font-size="9.8" font-weight="bold" fill="#6e1f22" stroke="#6e1f22" stroke-width="0.22" text-anchor="start" textLength="39.2" lengthAdjust="spacingAndGlyphs">5 mole %</text>
<line x1="44.00" y1="141.20" x2="65.00" y2="141.20" stroke="#7a2fc0" stroke-width="1.4"/>
<text x="67.20" y="144.70" font-size="9.8" font-weight="bold" fill="#6e1f22" stroke="#6e1f22" stroke-width="0.22" text-anchor="start" textLength="39.2" lengthAdjust="spacingAndGlyphs">6 mole %</text>
<text x="123.50" y="78.50" font-size="14" font-weight="bold" fill="#000" stroke="#000" stroke-width="0.22" text-anchor="start" >(a)</text>
<text font-size="9.6" font-weight="bold" stroke="#000" stroke-width="0.2" transform="translate(173.8,27.0) rotate(-90)"><tspan dy="-6.2">7</tspan><tspan dy="6.2">F</tspan><tspan dy="4.1">2</tspan></text>
<text font-size="9.6" font-weight="bold" stroke="#000" stroke-width="0.2" transform="translate(156.7,154.5) rotate(-90)"><tspan dy="-6.2">7</tspan><tspan dy="6.2">F</tspan><tspan dy="4.1">1</tspan></text>
<text font-size="9.6" font-weight="bold" stroke="#000" stroke-width="0.2" transform="translate(142.3,198.5) rotate(-90)"><tspan dy="-6.2">7</tspan><tspan dy="6.2">F</tspan><tspan dy="4.1">0</tspan></text>
<text font-size="9.6" font-weight="bold" stroke="#000" stroke-width="0.2" transform="translate(206.1,196.5) rotate(-90)"><tspan dy="-6.2">7</tspan><tspan dy="6.2">F</tspan><tspan dy="4.1">3</tspan></text>
<text font-size="9.6" font-weight="bold" stroke="#000" stroke-width="0.2" transform="translate(240.9,182.0) rotate(-90)"><tspan dy="-6.2">7</tspan><tspan dy="6.2">F</tspan><tspan dy="4.1">4</tspan></text>
<rect x="188.7" y="11.3" width="88.10" height="91.30" fill="#fff" stroke="#000" stroke-width="1.1"/>
<line x1="188.70" y1="102.60" x2="188.70" y2="104.60" stroke="#000" stroke-width="0.8"/>
<text x="188.70" y="109.90" font-size="4.8" font-weight="bold" fill="#000" stroke="#000" stroke-width="0.1" text-anchor="middle" >0</text>
<line x1="202.25" y1="102.60" x2="202.25" y2="104.60" stroke="#000" stroke-width="0.8"/>
<text x="202.25" y="109.90" font-size="4.8" font-weight="bold" fill="#000" stroke="#000" stroke-width="0.1" text-anchor="middle" >1</text>
<line x1="215.80" y1="102.60" x2="215.80" y2="104.60" stroke="#000" stroke-width="0.8"/>
<text x="215.80" y="109.90" font-size="4.8" font-weight="bold" fill="#000" stroke="#000" stroke-width="0.1" text-anchor="middle" >2</text>
<line x1="229.35" y1="102.60" x2="229.35" y2="104.60" stroke="#000" stroke-width="0.8"/>
<text x="229.35" y="109.90" font-size="4.8" font-weight="bold" fill="#000" stroke="#000" stroke-width="0.1" text-anchor="middle" >3</text>
<line x1="242.90" y1="102.60" x2="242.90" y2="104.60" stroke="#000" stroke-width="0.8"/>
<text x="242.90" y="109.90" font-size="4.8" font-weight="bold" fill="#000" stroke="#000" stroke-width="0.1" text-anchor="middle" >4</text>
<line x1="256.45" y1="102.60" x2="256.45" y2="104.60" stroke="#000" stroke-width="0.8"/>
<text x="256.45" y="109.90" font-size="4.8" font-weight="bold" fill="#000" stroke="#000" stroke-width="0.1" text-anchor="middle" >5</text>
<line x1="270.00" y1="102.60" x2="270.00" y2="104.60" stroke="#000" stroke-width="0.8"/>
<text x="270.00" y="109.90" font-size="4.8" font-weight="bold" fill="#000" stroke="#000" stroke-width="0.1" text-anchor="middle" >6</text>
<line x1="195.47" y1="102.60" x2="195.47" y2="103.80" stroke="#000" stroke-width="0.7"/>
<line x1="209.02" y1="102.60" x2="209.02" y2="103.80" stroke="#000" stroke-width="0.7"/>
<line x1="222.57" y1="102.60" x2="222.57" y2="103.80" stroke="#000" stroke-width="0.7"/>
<line x1="236.12" y1="102.60" x2="236.12" y2="103.80" stroke="#000" stroke-width="0.7"/>
<line x1="249.67" y1="102.60" x2="249.67" y2="103.80" stroke="#000" stroke-width="0.7"/>
<line x1="263.23" y1="102.60" x2="263.23" y2="103.80" stroke="#000" stroke-width="0.7"/>
<line x1="186.70" y1="96.22" x2="188.70" y2="96.22" stroke="#000" stroke-width="0.8"/>
<text x="186.50" y="97.95" font-size="4.8" font-weight="bold" fill="#000" stroke="#000" stroke-width="0.1" text-anchor="end" >10</text>
<line x1="186.70" y1="84.15" x2="188.70" y2="84.15" stroke="#000" stroke-width="0.8"/>
<text x="186.50" y="85.88" font-size="4.8" font-weight="bold" fill="#000" stroke="#000" stroke-width="0.1" text-anchor="end" >20</text>
<line x1="186.70" y1="72.07" x2="188.70" y2="72.07" stroke="#000" stroke-width="0.8"/>
<text x="186.50" y="73.80" font-size="4.8" font-weight="bold" fill="#000" stroke="#000" stroke-width="0.1" text-anchor="end" >30</text>
<line x1="186.70" y1="60.00" x2="188.70" y2="60.00" stroke="#000" stroke-width="0.8"/>
<text x="186.50" y="61.73" font-size="4.8" font-weight="bold" fill="#000" stroke="#000" stroke-width="0.1" text-anchor="end" >40</text>
<line x1="186.70" y1="47.92" x2="188.70" y2="47.92" stroke="#000" stroke-width="0.8"/>
<text x="186.50" y="49.65" font-size="4.8" font-weight="bold" fill="#000" stroke="#000" stroke-width="0.1" text-anchor="end" >50</text>
<line x1="186.70" y1="35.85" x2="188.70" y2="35.85" stroke="#000" stroke-width="0.8"/>
<text x="186.50" y="37.58" font-size="4.8" font-weight="bold" fill="#000" stroke="#000" stroke-width="0.1" text-anchor="end" >60</text>
<line x1="186.70" y1="23.77" x2="188.70" y2="23.77" stroke="#000" stroke-width="0.8"/>
<text x="186.50" y="25.50" font-size="4.8" font-weight="bold" fill="#000" stroke="#000" stroke-width="0.1" text-anchor="end" >70</text>
<line x1="186.70" y1="11.70" x2="188.70" y2="11.70" stroke="#000" stroke-width="0.8"/>
<text x="186.50" y="13.43" font-size="4.8" font-weight="bold" fill="#000" stroke="#000" stroke-width="0.1" text-anchor="end" >80</text>
<line x1="187.50" y1="90.19" x2="188.70" y2="90.19" stroke="#000" stroke-width="0.7"/>
<line x1="187.50" y1="78.11" x2="188.70" y2="78.11" stroke="#000" stroke-width="0.7"/>
<line x1="187.50" y1="66.04" x2="188.70" y2="66.04" stroke="#000" stroke-width="0.7"/>
<line x1="187.50" y1="53.96" x2="188.70" y2="53.96" stroke="#000" stroke-width="0.7"/>
<line x1="187.50" y1="41.89" x2="188.70" y2="41.89" stroke="#000" stroke-width="0.7"/>
<line x1="187.50" y1="29.81" x2="188.70" y2="29.81" stroke="#000" stroke-width="0.7"/>
<line x1="187.50" y1="17.74" x2="188.70" y2="17.74" stroke="#000" stroke-width="0.7"/>
<text x="0.00" y="0.00" font-size="5.2" font-weight="bold" fill="#000" stroke="#000" stroke-width="0.1"  transform="translate(180.9,52.8) rotate(-90)" text-anchor="middle" textLength="58" lengthAdjust="spacingAndGlyphs">Intensity (arb. units)</text>
<text x="232.50" y="114.00" font-size="5.3" font-weight="bold" fill="#000" stroke="#000" stroke-width="0.1"  text-anchor="middle" textLength="50" lengthAdjust="spacingAndGlyphs">Concentration (mole %)</text>
<polyline points="195.5,93.2 202.2,80.5 215.8,64.1 229.3,37.9 242.9,17.7 256.4,48.3 270.0,59.0" fill="none" stroke="#a8449f" stroke-width="1.4" stroke-linejoin="round" />
<circle cx="195.5" cy="93.2" r="1.5" fill="#e9a6e6" stroke="#b23cb0" stroke-width="0.6"/>
<circle cx="202.2" cy="80.5" r="1.5" fill="#e9a6e6" stroke="#b23cb0" stroke-width="0.6"/>
<circle cx="215.8" cy="64.1" r="1.5" fill="#e9a6e6" stroke="#b23cb0" stroke-width="0.6"/>
<circle cx="229.3" cy="37.9" r="1.5" fill="#e9a6e6" stroke="#b23cb0" stroke-width="0.6"/>
<circle cx="242.9" cy="17.7" r="1.5" fill="#e9a6e6" stroke="#b23cb0" stroke-width="0.6"/>
<circle cx="256.4" cy="48.3" r="1.5" fill="#e9a6e6" stroke="#b23cb0" stroke-width="0.6"/>
<circle cx="270.0" cy="59.0" r="1.5" fill="#e9a6e6" stroke="#b23cb0" stroke-width="0.6"/>
<rect x="40.70" y="242.00" width="237.30" height="202.40" fill="none" stroke="#000" stroke-width="1.4"/>
<line x1="40.70" y1="444.40" x2="40.70" y2="448.90" stroke="#000" stroke-width="1.4"/>
<text x="40.70" y="460.60" font-size="11" font-weight="bold" fill="#000" stroke="#000" stroke-width="0.22" text-anchor="middle" >450</text>
<line x1="80.25" y1="444.40" x2="80.25" y2="448.90" stroke="#000" stroke-width="1.4"/>
<text x="80.25" y="460.60" font-size="11" font-weight="bold" fill="#000" stroke="#000" stroke-width="0.22" text-anchor="middle" >500</text>
<line x1="119.80" y1="444.40" x2="119.80" y2="448.90" stroke="#000" stroke-width="1.4"/>
<text x="119.80" y="460.60" font-size="11" font-weight="bold" fill="#000" stroke="#000" stroke-width="0.22" text-anchor="middle" >550</text>
<line x1="159.35" y1="444.40" x2="159.35" y2="448.90" stroke="#000" stroke-width="1.4"/>
<text x="159.35" y="460.60" font-size="11" font-weight="bold" fill="#000" stroke="#000" stroke-width="0.22" text-anchor="middle" >600</text>
<line x1="198.90" y1="444.40" x2="198.90" y2="448.90" stroke="#000" stroke-width="1.4"/>
<text x="198.90" y="460.60" font-size="11" font-weight="bold" fill="#000" stroke="#000" stroke-width="0.22" text-anchor="middle" >650</text>
<line x1="238.45" y1="444.40" x2="238.45" y2="448.90" stroke="#000" stroke-width="1.4"/>
<text x="238.45" y="460.60" font-size="11" font-weight="bold" fill="#000" stroke="#000" stroke-width="0.22" text-anchor="middle" >700</text>
<line x1="278.00" y1="444.40" x2="278.00" y2="448.90" stroke="#000" stroke-width="1.4"/>
<text x="278.00" y="460.60" font-size="11" font-weight="bold" fill="#000" stroke="#000" stroke-width="0.22" text-anchor="middle" >750</text>
<line x1="60.48" y1="444.40" x2="60.48" y2="446.90" stroke="#000" stroke-width="1.4"/>
<line x1="100.03" y1="444.40" x2="100.03" y2="446.90" stroke="#000" stroke-width="1.4"/>
<line x1="139.58" y1="444.40" x2="139.58" y2="446.90" stroke="#000" stroke-width="1.4"/>
<line x1="179.12" y1="444.40" x2="179.12" y2="446.90" stroke="#000" stroke-width="1.4"/>
<line x1="218.68" y1="444.40" x2="218.68" y2="446.90" stroke="#000" stroke-width="1.4"/>
<line x1="258.23" y1="444.40" x2="258.23" y2="446.90" stroke="#000" stroke-width="1.4"/>
<line x1="36.20" y1="444.40" x2="40.70" y2="444.40" stroke="#000" stroke-width="1.4"/>
<text x="33.50" y="448.36" font-size="11" font-weight="bold" fill="#000" stroke="#000" stroke-width="0.22" text-anchor="end" >0</text>
<line x1="36.20" y1="407.65" x2="40.70" y2="407.65" stroke="#000" stroke-width="1.4"/>
<text x="33.50" y="411.61" font-size="11" font-weight="bold" fill="#000" stroke="#000" stroke-width="0.22" text-anchor="end" >50</text>
<line x1="36.20" y1="370.91" x2="40.70" y2="370.91" stroke="#000" stroke-width="1.4"/>
<text x="33.50" y="374.87" font-size="11" font-weight="bold" fill="#000" stroke="#000" stroke-width="0.22" text-anchor="end" >100</text>
<line x1="36.20" y1="334.16" x2="40.70" y2="334.16" stroke="#000" stroke-width="1.4"/>
<text x="33.50" y="338.12" font-size="11" font-weight="bold" fill="#000" stroke="#000" stroke-width="0.22" text-anchor="end" >150</text>
<line x1="36.20" y1="297.41" x2="40.70" y2="297.41" stroke="#000" stroke-width="1.4"/>
<text x="33.50" y="301.37" font-size="11" font-weight="bold" fill="#000" stroke="#000" stroke-width="0.22" text-anchor="end" >200</text>
<line x1="36.20" y1="260.67" x2="40.70" y2="260.67" stroke="#000" stroke-width="1.4"/>
<text x="33.50" y="264.63" font-size="11" font-weight="bold" fill="#000" stroke="#000" stroke-width="0.22" text-anchor="end" >250</text>
<line x1="38.20" y1="426.03" x2="40.70" y2="426.03" stroke="#000" stroke-width="1.4"/>
<line x1="38.20" y1="389.28" x2="40.70" y2="389.28" stroke="#000" stroke-width="1.4"/>
<line x1="38.20" y1="352.53" x2="40.70" y2="352.53" stroke="#000" stroke-width="1.4"/>
<line x1="38.20" y1="315.79" x2="40.70" y2="315.79" stroke="#000" stroke-width="1.4"/>
<line x1="38.20" y1="279.04" x2="40.70" y2="279.04" stroke="#000" stroke-width="1.4"/>
<polyline points="40.7,444.2 41.1,444.2 41.5,444.2 41.9,444.2 42.3,444.2 42.7,444.2 43.1,444.2 43.5,444.2 43.9,444.2 44.3,444.2 44.7,444.2 45.1,444.2 45.4,444.2 45.8,444.2 46.2,444.2 46.6,444.2 47.0,444.2 47.4,444.2 47.8,444.2 48.2,444.2 48.6,444.2 49.0,444.2 49.4,444.2 49.8,444.2 50.2,444.2 50.6,444.2 51.0,444.2 51.4,444.2 51.8,444.2 52.2,444.2 52.6,444.2 53.0,444.2 53.4,444.2 53.8,444.2 54.1,444.2 54.5,444.2 54.9,444.0 55.3,444.1 55.7,444.0 56.1,443.9 56.5,443.8 56.9,443.5 57.3,443.5 57.7,443.4 58.1,443.2 58.5,442.9 58.9,442.8 59.3,442.5 59.7,442.4 60.1,442.3 60.5,442.0 60.9,441.8 61.3,441.7 61.7,441.5 62.1,441.2 62.5,441.2 62.8,441.1 63.2,440.9 63.6,440.9 64.0,440.9 64.4,440.8 64.8,440.7 65.2,440.7 65.6,440.7 66.0,440.8 66.4,440.7 66.8,440.8 67.2,441.0 67.6,441.0 68.0,441.1 68.4,441.2 68.8,441.3 69.2,441.4 69.6,441.6 70.0,441.7 70.4,441.8 70.8,441.9 71.2,442.0 71.5,442.2 71.9,442.4 72.3,442.5 72.7,442.7 73.1,442.8 73.5,443.0 73.9,443.1 74.3,443.4 74.7,443.4 75.1,443.7 75.5,443.7 75.9,443.9 76.3,443.9 76.7,444.0 77.1,444.1 77.5,444.1 77.9,444.2 78.3,444.2 78.7,444.2 79.1,444.2 79.5,444.2 79.9,444.2 80.2,444.2 80.6,444.2 81.0,444.2 81.4,444.2 81.8,444.2 82.2,444.2 82.6,444.2 83.0,444.2 83.4,444.2 83.8,444.2 84.2,444.2 84.6,444.2 85.0,444.2 85.4,444.2 85.8,444.2 86.2,444.2 86.6,444.2 87.0,444.2 87.4,444.2 87.8,444.2 88.2,444.2 88.6,444.2 89.0,444.2 89.3,444.2 89.7,444.2 90.1,444.2 90.5,444.2 90.9,444.2 91.3,444.2 91.7,444.2 92.1,444.2 92.5,444.2 92.9,444.2 93.3,444.2 93.7,444.2 94.1,444.2 94.5,444.2 94.9,444.2 95.3,444.2 95.7,444.2 96.1,444.2 96.5,444.2 96.9,444.2 97.3,444.2 97.7,444.2 98.0,444.2 98.4,444.2 98.8,444.2 99.2,444.2 99.6,444.2 100.0,444.2 100.4,444.2 100.8,444.2 101.2,444.2 101.6,444.2 102.0,444.2 102.4,444.2 102.8,444.2 103.2,444.2 103.6,444.2 104.0,444.2 104.4,444.2 104.8,444.2 105.2,444.2 105.6,444.2 106.0,444.2 106.4,444.2 106.7,444.2 107.1,444.2 107.5,444.2 107.9,444.2 108.3,444.2 108.7,444.2 109.1,444.2 109.5,444.2 109.9,444.2 110.3,444.2 110.7,444.2 111.1,444.2 111.5,444.2 111.9,444.2 112.3,444.2 112.7,444.2 113.1,444.2 113.5,444.2 113.9,444.2 114.3,444.2 114.7,444.2 115.1,444.2 115.4,444.2 115.8,444.2 116.2,444.2 116.6,444.2 117.0,444.2 117.4,444.2 117.8,444.2 118.2,444.2 118.6,444.2 119.0,444.2 119.4,444.2 119.8,444.2 120.2,444.2 120.6,444.2 121.0,444.2 121.4,444.2 121.8,444.2 122.2,444.2 122.6,444.2 123.0,444.2 123.4,444.2 123.8,444.2 124.2,444.2 124.5,444.2 124.9,444.2 125.3,444.2 125.7,444.2 126.1,444.2 126.5,444.2 126.9,444.2 127.3,444.2 127.7,444.1 128.1,444.0 128.5,444.0 128.9,443.9 129.3,443.8 129.7,443.5 130.1,443.4 130.5,443.3 130.9,443.2 131.3,442.8 131.7,442.7 132.1,442.3 132.5,442.0 132.9,441.9 133.2,441.5 133.6,441.2 134.0,440.8 134.4,440.5 134.8,440.1 135.2,439.8 135.6,439.5 136.0,439.2 136.4,439.0 136.8,438.7 137.2,438.3 137.6,438.3 138.0,438.1 138.4,437.9 138.8,437.9 139.2,438.0 139.6,437.7 140.0,437.9 140.4,437.9 140.8,438.0 141.2,438.2 141.6,438.4 141.9,438.5 142.3,438.5 142.7,438.8 143.1,439.1 143.5,439.5 143.9,439.6 144.3,439.9 144.7,440.1 145.1,440.4 145.5,440.7 145.9,440.9 146.3,441.2 146.7,441.6 147.1,441.7 147.5,442.1 147.9,442.4 148.3,442.6 148.7,442.9 149.1,443.0 149.5,443.2 149.9,443.4 150.3,443.6 150.6,443.7 151.0,443.8 151.4,444.0 151.8,444.0 152.2,444.1 152.6,444.2 153.0,444.1 153.4,444.2 153.8,444.1 154.2,444.1 154.6,444.2 155.0,444.2 155.4,444.1 155.8,444.2 156.2,444.2 156.6,444.2 157.0,444.2 157.4,444.2 157.8,444.2 158.2,444.2 158.6,444.2 159.0,444.2 159.4,444.2 159.7,444.2 160.1,444.2 160.5,444.2 160.9,444.2 161.3,444.2 161.7,444.2 162.1,444.2 162.5,444.2 162.9,444.2 163.3,444.2 163.7,444.2 164.1,444.2 164.5,444.2 164.9,444.2 165.3,444.2 165.7,444.0 166.1,444.0 166.5,444.0 166.9,444.0 167.3,443.7 167.7,443.6 168.1,443.6 168.4,443.5 168.8,443.4 169.2,443.3 169.6,443.3 170.0,443.2 170.4,443.3 170.8,443.4 171.2,443.4 171.6,443.5 172.0,443.5 172.4,443.5 172.8,443.6 173.2,443.7 173.6,443.7 174.0,443.9 174.4,443.9 174.8,443.9 175.2,443.9 175.6,444.0 176.0,444.0 176.4,444.0 176.8,444.1 177.1,444.1 177.5,444.2 177.9,444.2 178.3,444.2 178.7,444.2 179.1,444.2 179.5,444.2 179.9,444.2 180.3,444.2 180.7,444.2 181.1,444.2 181.5,444.2 181.9,444.2 182.3,444.2 182.7,444.2 183.1,444.2 183.5,444.2 183.9,444.2 184.3,444.2 184.7,444.2 185.1,444.2 185.5,444.2 185.8,444.2 186.2,444.2 186.6,444.2 187.0,444.2 187.4,444.2 187.8,444.2 188.2,444.2 188.6,444.2 189.0,444.2 189.4,444.2 189.8,444.2 190.2,444.2 190.6,444.2 191.0,444.2 191.4,444.2 191.8,444.2 192.2,444.2 192.6,444.2 193.0,444.2 193.4,444.2 193.8,444.2 194.2,444.2 194.5,444.2 194.9,444.2 195.3,444.2 195.7,444.2 196.1,444.2 196.5,444.2 196.9,444.2 197.3,444.2 197.7,444.2 198.1,444.1 198.5,444.1 198.9,444.1 199.3,444.0 199.7,444.1 200.1,444.1 200.5,444.0 200.9,444.0 201.3,444.0 201.7,444.0 202.1,444.0 202.5,443.9 202.9,443.9 203.3,443.9 203.6,443.8 204.0,443.9 204.4,443.9 204.8,443.7 205.2,443.8 205.6,443.9 206.0,443.7 206.4,443.7 206.8,443.8 207.2,443.7 207.6,443.8 208.0,443.8 208.4,443.7 208.8,443.7 209.2,443.7 209.6,443.7 210.0,443.7 210.4,443.7 210.8,443.7 211.2,443.6 211.6,443.7 212.0,443.7 212.3,443.8 212.7,443.7 213.1,443.6 213.5,443.7 213.9,443.8 214.3,443.7 214.7,443.8 215.1,443.7 215.5,443.8 215.9,443.8 216.3,443.8 216.7,443.9 217.1,443.9 217.5,444.0 217.9,444.0 218.3,444.0 218.7,443.8 219.1,444.1 219.5,444.1 219.9,444.2 220.3,444.1 220.7,444.2 221.0,444.2 221.4,444.2 221.8,444.2 222.2,444.2 222.6,444.2 223.0,444.2 223.4,444.2 223.8,444.2 224.2,444.2 224.6,444.2 225.0,444.2 225.4,444.2 225.8,444.2 226.2,444.2 226.6,444.2 227.0,444.2 227.4,444.2 227.8,444.2 228.2,444.2 228.6,444.2 229.0,444.2 229.4,444.2 229.7,444.2 230.1,444.2 230.5,444.2 230.9,444.2 231.3,444.2 231.7,444.2 232.1,444.2 232.5,444.2 232.9,444.2 233.3,444.2 233.7,444.2 234.1,444.2 234.5,444.2 234.9,444.2 235.3,444.2 235.7,444.2 236.1,444.2 236.5,444.2 236.9,444.2 237.3,444.1 237.7,444.0 238.1,444.0 238.5,443.9 238.8,443.9 239.2,443.9 239.6,443.9 240.0,443.8 240.4,444.0 240.8,444.0 241.2,443.9 241.6,443.9 242.0,443.9 242.4,444.0 242.8,444.1 243.2,444.1 243.6,444.1 244.0,444.2 244.4,444.2 244.8,444.2 245.2,444.2 245.6,444.2 246.0,444.2 246.4,444.2 246.8,444.2 247.2,444.2 247.5,444.2 247.9,444.2 248.3,444.2 248.7,444.2 249.1,444.2 249.5,444.2 249.9,444.2 250.3,444.2 250.7,444.2 251.1,444.2 251.5,444.2 251.9,444.2 252.3,444.2 252.7,444.2 253.1,444.2 253.5,444.2 253.9,444.2 254.3,444.2 254.7,444.2 255.1,444.2 255.5,444.2 255.9,444.2 256.2,444.2 256.6,444.2 257.0,444.2 257.4,444.2 257.8,444.2 258.2,444.2 258.6,444.2 259.0,444.2 259.4,444.2 259.8,444.2 260.2,444.2 260.6,444.2 261.0,444.2 261.4,444.2 261.8,444.2 262.2,444.2 262.6,444.2 263.0,444.2 263.4,444.2 263.8,444.2 264.2,444.2 264.6,444.2 264.9,444.2 265.3,444.2 265.7,444.2 266.1,444.2 266.5,444.2 266.9,444.2 267.3,444.2 267.7,444.2 268.1,444.2 268.5,444.2 268.9,444.2 269.3,444.2 269.7,444.2 270.1,444.2 270.5,444.2 270.9,444.2 271.3,444.2 271.7,444.2 272.1,444.2 272.5,444.2 272.9,444.2 273.3,444.2 273.6,444.2 274.0,444.2 274.4,444.2 274.8,444.2 275.2,444.2 275.6,444.2 276.0,444.2 276.4,444.2 276.8,444.2 277.2,444.2 277.6,444.2 278.0,444.2" fill="none" stroke="#1f8028" stroke-width="1.5" stroke-linejoin="round" />
<polyline points="40.7,444.2 41.1,444.2 41.5,444.2 41.9,444.2 42.3,444.2 42.7,444.2 43.1,444.2 43.5,444.2 43.9,444.2 44.3,444.2 44.7,444.2 45.1,444.2 45.4,444.2 45.8,444.2 46.2,444.2 46.6,444.2 47.0,444.2 47.4,444.2 47.8,444.2 48.2,444.2 48.6,444.2 49.0,444.2 49.4,444.2 49.8,444.2 50.2,444.2 50.6,444.2 51.0,444.2 51.4,444.2 51.8,444.2 52.2,444.2 52.6,444.2 53.0,444.2 53.4,444.2 53.8,444.2 54.1,444.2 54.5,444.0 54.9,444.0 55.3,443.9 55.7,443.6 56.1,443.6 56.5,443.4 56.9,443.3 57.3,443.0 57.7,442.8 58.1,442.6 58.5,442.2 58.9,442.1 59.3,441.8 59.7,441.6 60.1,441.5 60.5,441.1 60.9,440.8 61.3,440.5 61.7,440.4 62.1,440.1 62.5,439.8 62.8,439.8 63.2,439.5 63.6,439.4 64.0,439.4 64.4,439.4 64.8,439.2 65.2,439.3 65.6,439.3 66.0,439.3 66.4,439.4 66.8,439.4 67.2,439.5 67.6,439.6 68.0,439.7 68.4,440.0 68.8,440.1 69.2,440.2 69.6,440.4 70.0,440.4 70.4,440.7 70.8,440.9 71.2,441.0 71.5,441.3 71.9,441.5 72.3,441.7 72.7,441.9 73.1,442.1 73.5,442.4 73.9,442.6 74.3,442.8 74.7,443.0 75.1,443.2 75.5,443.6 75.9,443.7 76.3,443.8 76.7,443.9 77.1,444.0 77.5,444.0 77.9,444.1 78.3,444.2 78.7,444.2 79.1,444.2 79.5,444.2 79.9,444.2 80.2,444.2 80.6,444.2 81.0,444.2 81.4,444.2 81.8,444.2 82.2,444.2 82.6,444.2 83.0,444.2 83.4,444.2 83.8,444.2 84.2,444.2 84.6,444.2 85.0,444.2 85.4,444.2 85.8,444.2 86.2,444.2 86.6,444.2 87.0,444.2 87.4,444.2 87.8,444.2 88.2,444.2 88.6,444.2 89.0,444.2 89.3,444.2 89.7,444.2 90.1,444.2 90.5,444.2 90.9,444.2 91.3,444.2 91.7,444.2 92.1,444.2 92.5,444.2 92.9,444.2 93.3,444.2 93.7,444.2 94.1,444.2 94.5,444.2 94.9,444.2 95.3,444.2 95.7,444.2 96.1,444.2 96.5,444.2 96.9,444.2 97.3,444.2 97.7,444.2 98.0,444.2 98.4,444.2 98.8,444.2 99.2,444.2 99.6,444.2 100.0,444.2 100.4,444.2 100.8,444.2 101.2,444.2 101.6,444.2 102.0,444.2 102.4,444.2 102.8,444.2 103.2,444.2 103.6,444.2 104.0,444.2 104.4,444.2 104.8,444.2 105.2,444.2 105.6,444.2 106.0,444.2 106.4,444.2 106.7,444.2 107.1,444.2 107.5,444.2 107.9,444.2 108.3,444.2 108.7,444.2 109.1,444.2 109.5,444.2 109.9,444.2 110.3,444.2 110.7,444.2 111.1,444.2 111.5,444.2 111.9,444.2 112.3,444.2 112.7,444.2 113.1,444.2 113.5,444.2 113.9,444.2 114.3,444.2 114.7,444.2 115.1,444.2 115.4,444.2 115.8,444.2 116.2,444.2 116.6,444.2 117.0,444.2 117.4,444.2 117.8,444.2 118.2,444.2 118.6,444.2 119.0,444.2 119.4,444.2 119.8,444.2 120.2,444.2 120.6,444.2 121.0,444.2 121.4,444.2 121.8,444.2 122.2,444.2 122.6,444.2 123.0,444.2 123.4,444.2 123.8,444.2 124.2,444.2 124.5,444.2 124.9,444.2 125.3,444.2 125.7,444.2 126.1,444.2 126.5,444.2 126.9,444.2 127.3,444.1 127.7,444.0 128.1,443.9 128.5,443.7 128.9,443.7 129.3,443.5 129.7,443.3 130.1,443.2 130.5,442.8 130.9,442.6 131.3,442.3 131.7,442.1 132.1,441.7 132.5,441.3 132.9,441.0 133.2,440.4 133.6,440.1 134.0,439.7 134.4,439.2 134.8,438.7 135.2,438.3 135.6,437.9 136.0,437.4 136.4,437.0 136.8,436.9 137.2,436.5 137.6,436.3 138.0,435.9 138.4,435.6 138.8,435.6 139.2,435.7 139.6,435.6 140.0,435.5 140.4,435.8 140.8,435.9 141.2,436.0 141.6,436.4 141.9,436.4 142.3,436.7 142.7,437.0 143.1,437.4 143.5,437.7 143.9,438.1 144.3,438.3 144.7,438.7 145.1,439.0 145.5,439.3 145.9,439.7 146.3,440.2 146.7,440.6 147.1,440.8 147.5,441.3 147.9,441.5 148.3,441.9 148.7,442.3 149.1,442.6 149.5,442.9 149.9,443.2 150.3,443.4 150.6,443.5 151.0,443.6 151.4,443.8 151.8,443.9 152.2,444.0 152.6,444.1 153.0,443.9 153.4,444.2 153.8,444.1 154.2,444.1 154.6,444.2 155.0,444.1 155.4,444.1 155.8,444.2 156.2,444.2 156.6,444.2 157.0,444.2 157.4,444.2 157.8,444.2 158.2,444.2 158.6,444.2 159.0,444.2 159.4,444.2 159.7,444.2 160.1,444.2 160.5,444.2 160.9,444.2 161.3,444.2 161.7,444.2 162.1,444.2 162.5,444.2 162.9,444.2 163.3,444.2 163.7,444.2 164.1,444.2 164.5,444.2 164.9,444.1 165.3,444.1 165.7,444.1 166.1,443.9 166.5,443.8 166.9,443.6 167.3,443.6 167.7,443.4 168.1,443.4 168.4,443.1 168.8,443.1 169.2,442.9 169.6,443.0 170.0,442.9 170.4,443.0 170.8,442.9 171.2,443.0 171.6,443.1 172.0,443.2 172.4,443.3 172.8,443.4 173.2,443.4 173.6,443.5 174.0,443.7 174.4,443.6 174.8,443.7 175.2,443.9 175.6,443.9 176.0,443.9 176.4,444.0 176.8,444.1 177.1,444.0 177.5,444.1 177.9,444.1 178.3,444.2 178.7,444.1 179.1,444.2 179.5,444.2 179.9,444.2 180.3,444.2 180.7,444.2 181.1,444.2 181.5,444.2 181.9,444.2 182.3,444.2 182.7,444.2 183.1,444.2 183.5,444.2 183.9,444.2 184.3,444.2 184.7,444.2 185.1,444.2 185.5,444.2 185.8,444.2 186.2,444.2 186.6,444.2 187.0,444.2 187.4,444.2 187.8,444.2 188.2,444.2 188.6,444.2 189.0,444.2 189.4,444.2 189.8,444.2 190.2,444.2 190.6,444.2 191.0,444.2 191.4,444.2 191.8,444.2 192.2,444.2 192.6,444.2 193.0,444.2 193.4,444.2 193.8,444.2 194.2,444.2 194.5,444.2 194.9,444.2 195.3,444.2 195.7,444.2 196.1,444.2 196.5,444.2 196.9,444.2 197.3,444.1 197.7,444.1 198.1,444.0 198.5,443.9 198.9,444.0 199.3,444.0 199.7,444.0 200.1,443.9 200.5,443.8 200.9,443.8 201.3,443.8 201.7,443.8 202.1,443.7 202.5,443.7 202.9,443.7 203.3,443.6 203.6,443.5 204.0,443.6 204.4,443.5 204.8,443.5 205.2,443.5 205.6,443.4 206.0,443.5 206.4,443.5 206.8,443.4 207.2,443.4 207.6,443.3 208.0,443.4 208.4,443.3 208.8,443.3 209.2,443.5 209.6,443.3 210.0,443.4 210.4,443.3 210.8,443.3 211.2,443.3 211.6,443.2 212.0,443.4 212.3,443.3 212.7,443.3 213.1,443.4 213.5,443.3 213.9,443.4 214.3,443.4 214.7,443.5 215.1,443.3 215.5,443.5 215.9,443.6 216.3,443.6 216.7,443.7 217.1,443.7 217.5,443.7 217.9,443.8 218.3,443.8 218.7,443.9 219.1,444.0 219.5,444.0 219.9,444.1 220.3,444.0 220.7,444.1 221.0,444.2 221.4,444.2 221.8,444.2 222.2,444.1 222.6,444.2 223.0,444.2 223.4,444.2 223.8,444.2 224.2,444.2 224.6,444.2 225.0,444.2 225.4,444.2 225.8,444.2 226.2,444.2 226.6,444.2 227.0,444.2 227.4,444.2 227.8,444.2 228.2,444.2 228.6,444.2 229.0,444.2 229.4,444.2 229.7,444.2 230.1,444.2 230.5,444.2 230.9,444.2 231.3,444.2 231.7,444.2 232.1,444.2 232.5,444.2 232.9,444.2 233.3,444.2 233.7,444.2 234.1,444.2 234.5,444.2 234.9,444.2 235.3,444.1 235.7,444.2 236.1,444.1 236.5,444.0 236.9,444.1 237.3,444.0 237.7,444.0 238.1,443.9 238.5,444.0 238.8,443.9 239.2,443.9 239.6,443.8 240.0,443.8 240.4,443.9 240.8,443.9 241.2,443.9 241.6,444.0 242.0,444.0 242.4,444.0 242.8,444.0 243.2,444.2 243.6,444.1 244.0,444.1 244.4,444.2 244.8,444.2 245.2,444.2 245.6,444.2 246.0,444.2 246.4,444.2 246.8,444.2 247.2,444.2 247.5,444.2 247.9,444.2 248.3,444.2 248.7,444.2 249.1,444.2 249.5,444.2 249.9,444.2 250.3,444.2 250.7,444.2 251.1,444.2 251.5,444.2 251.9,444.2 252.3,444.2 252.7,444.2 253.1,444.2 253.5,444.2 253.9,444.2 254.3,444.2 254.7,444.2 255.1,444.2 255.5,444.2 255.9,444.2 256.2,444.2 256.6,444.2 257.0,444.2 257.4,444.2 257.8,444.2 258.2,444.2 258.6,444.2 259.0,444.2 259.4,444.2 259.8,444.2 260.2,444.2 260.6,444.2 261.0,444.2 261.4,444.2 261.8,444.2 262.2,444.2 262.6,444.2 263.0,444.2 263.4,444.2 263.8,444.2 264.2,444.2 264.6,444.2 264.9,444.2 265.3,444.2 265.7,444.2 266.1,444.2 266.5,444.2 266.9,444.2 267.3,444.2 267.7,444.2 268.1,444.2 268.5,444.2 268.9,444.2 269.3,444.2 269.7,444.2 270.1,444.2 270.5,444.2 270.9,444.2 271.3,444.2 271.7,444.2 272.1,444.2 272.5,444.2 272.9,444.2 273.3,444.2 273.6,444.2 274.0,444.2 274.4,444.2 274.8,444.2 275.2,444.2 275.6,444.2 276.0,444.2 276.4,444.2 276.8,444.2 277.2,444.2 277.6,444.2 278.0,444.2" fill="none" stroke="#161650" stroke-width="1.5" stroke-linejoin="round" />
<polyline points="40.7,444.2 41.1,444.2 41.5,444.2 41.9,444.2 42.3,444.2 42.7,444.2 43.1,444.2 43.5,444.2 43.9,444.2 44.3,444.2 44.7,444.2 45.1,444.2 45.4,444.2 45.8,444.2 46.2,444.2 46.6,444.2 47.0,444.2 47.4,444.2 47.8,444.2 48.2,444.2 48.6,444.2 49.0,444.2 49.4,444.2 49.8,444.2 50.2,444.2 50.6,444.2 51.0,444.2 51.4,444.2 51.8,444.2 52.2,444.2 52.6,444.2 53.0,444.1 53.4,444.2 53.8,444.0 54.1,443.9 54.5,443.8 54.9,443.5 55.3,443.4 55.7,443.1 56.1,442.9 56.5,442.7 56.9,442.3 57.3,441.9 57.7,441.6 58.1,441.1 58.5,440.7 58.9,440.1 59.3,439.6 59.7,439.2 60.1,438.8 60.5,438.2 60.9,437.8 61.3,437.2 61.7,436.8 62.1,436.4 62.5,436.1 62.8,435.6 63.2,435.7 63.6,435.4 64.0,435.0 64.4,435.1 64.8,434.8 65.2,435.0 65.6,434.9 66.0,435.0 66.4,435.1 66.8,435.2 67.2,435.4 67.6,435.6 68.0,435.6 68.4,436.1 68.8,436.4 69.2,436.5 69.6,436.9 70.0,437.1 70.4,437.4 70.8,438.0 71.2,438.2 71.5,438.6 71.9,439.0 72.3,439.4 72.7,440.0 73.1,440.3 73.5,440.6 73.9,441.2 74.3,441.6 74.7,441.9 75.1,442.2 75.5,442.5 75.9,443.0 76.3,443.2 76.7,443.4 77.1,443.7 77.5,443.8 77.9,443.8 78.3,444.0 78.7,444.1 79.1,444.2 79.5,444.2 79.9,444.2 80.2,444.2 80.6,444.2 81.0,444.2 81.4,444.2 81.8,444.2 82.2,444.2 82.6,444.2 83.0,444.2 83.4,444.2 83.8,444.2 84.2,444.2 84.6,444.2 85.0,444.2 85.4,444.2 85.8,444.2 86.2,444.2 86.6,444.2 87.0,444.2 87.4,444.2 87.8,444.2 88.2,444.2 88.6,444.2 89.0,444.2 89.3,444.2 89.7,444.2 90.1,444.2 90.5,444.2 90.9,444.2 91.3,444.2 91.7,444.2 92.1,444.2 92.5,444.2 92.9,444.2 93.3,444.2 93.7,444.2 94.1,444.2 94.5,444.2 94.9,444.2 95.3,444.2 95.7,444.2 96.1,444.2 96.5,444.2 96.9,444.2 97.3,444.2 97.7,444.2 98.0,444.2 98.4,444.2 98.8,444.2 99.2,444.2 99.6,444.2 100.0,444.2 100.4,444.2 100.8,444.2 101.2,444.2 101.6,444.2 102.0,444.2 102.4,444.2 102.8,444.2 103.2,444.2 103.6,444.2 104.0,444.2 104.4,444.2 104.8,444.2 105.2,444.2 105.6,444.2 106.0,444.2 106.4,444.2 106.7,444.2 107.1,444.2 107.5,444.2 107.9,444.2 108.3,444.2 108.7,444.2 109.1,444.2 109.5,444.2 109.9,444.2 110.3,444.2 110.7,444.2 111.1,444.2 111.5,444.2 111.9,444.2 112.3,444.2 112.7,444.2 113.1,444.2 113.5,444.2 113.9,444.2 114.3,444.2 114.7,444.2 115.1,444.2 115.4,444.2 115.8,444.2 116.2,444.2 116.6,444.2 117.0,444.2 117.4,444.2 117.8,444.2 118.2,444.2 118.6,444.2 119.0,444.2 119.4,444.2 119.8,444.2 120.2,444.2 120.6,444.2 121.0,444.2 121.4,444.2 121.8,444.2 122.2,444.2 122.6,444.2 123.0,444.2 123.4,444.2 123.8,444.2 124.2,444.2 124.5,444.2 124.9,444.2 125.3,444.2 125.7,444.2 126.1,444.1 126.5,444.0 126.9,444.0 127.3,443.9 127.7,443.8 128.1,443.6 128.5,443.4 128.9,443.2 129.3,443.0 129.7,442.7 130.1,442.2 130.5,442.0 130.9,441.5 131.3,441.1 131.7,440.5 132.1,439.9 132.5,439.4 132.9,438.8 133.2,438.0 133.6,437.4 134.0,436.5 134.4,435.8 134.8,434.9 135.2,434.1 135.6,433.5 136.0,433.0 136.4,432.4 136.8,431.8 137.2,431.1 137.6,431.1 138.0,430.3 138.4,430.0 138.8,429.7 139.2,429.8 139.6,429.7 140.0,429.9 140.4,430.0 140.8,430.5 141.2,430.4 141.6,430.6 141.9,431.2 142.3,431.6 142.7,432.3 143.1,432.5 143.5,433.3 143.9,433.6 144.3,434.3 144.7,435.0 145.1,435.4 145.5,436.1 145.9,436.7 146.3,437.3 146.7,437.9 147.1,438.6 147.5,439.1 147.9,439.8 148.3,440.3 148.7,440.9 149.1,441.5 149.5,441.9 149.9,442.3 150.3,442.6 150.6,442.8 151.0,443.2 151.4,443.4 151.8,443.6 152.2,443.7 152.6,443.8 153.0,443.9 153.4,444.0 153.8,443.9 154.2,444.0 154.6,444.0 155.0,444.1 155.4,444.0 155.8,444.2 156.2,444.2 156.6,444.1 157.0,444.2 157.4,444.2 157.8,444.2 158.2,444.2 158.6,444.2 159.0,444.2 159.4,444.2 159.7,444.2 160.1,444.2 160.5,444.2 160.9,444.2 161.3,444.2 161.7,444.2 162.1,444.2 162.5,444.2 162.9,444.2 163.3,444.2 163.7,444.2 164.1,444.1 164.5,444.1 164.9,443.9 165.3,443.9 165.7,443.7 166.1,443.6 166.5,443.5 166.9,443.2 167.3,443.0 167.7,442.9 168.1,442.7 168.4,442.5 168.8,442.5 169.2,442.3 169.6,442.2 170.0,442.2 170.4,442.2 170.8,442.2 171.2,442.3 171.6,442.4 172.0,442.5 172.4,442.6 172.8,442.8 173.2,442.9 173.6,443.1 174.0,443.2 174.4,443.3 174.8,443.3 175.2,443.4 175.6,443.5 176.0,443.6 176.4,443.7 176.8,443.8 177.1,443.9 177.5,443.9 177.9,444.0 178.3,444.1 178.7,444.2 179.1,444.2 179.5,444.2 179.9,444.2 180.3,444.2 180.7,444.2 181.1,444.2 181.5,444.2 181.9,444.2 182.3,444.2 182.7,444.2 183.1,444.2 183.5,444.2 183.9,444.2 184.3,444.2 184.7,444.2 185.1,444.2 185.5,444.2 185.8,444.2 186.2,444.2 186.6,444.2 187.0,444.2 187.4,444.2 187.8,444.2 188.2,444.2 188.6,444.2 189.0,444.2 189.4,444.2 189.8,444.2 190.2,444.2 190.6,444.2 191.0,444.2 191.4,444.2 191.8,444.2 192.2,444.2 192.6,444.2 193.0,444.2 193.4,444.2 193.8,444.2 194.2,444.2 194.5,444.1 194.9,444.2 195.3,444.1 195.7,444.1 196.1,444.1 196.5,444.2 196.9,444.1 197.3,444.1 197.7,444.0 198.1,443.9 198.5,443.9 198.9,443.8 199.3,443.8 199.7,443.9 200.1,443.8 200.5,443.7 200.9,443.6 201.3,443.5 201.7,443.6 202.1,443.5 202.5,443.5 202.9,443.5 203.3,443.5 203.6,443.3 204.0,443.3 204.4,443.2 204.8,443.3 205.2,443.2 205.6,443.3 206.0,443.1 206.4,443.2 206.8,443.1 207.2,443.1 207.6,443.1 208.0,443.1 208.4,443.1 208.8,442.9 209.2,442.9 209.6,442.9 210.0,442.8 210.4,442.9 210.8,442.9 211.2,442.9 211.6,442.9 212.0,442.9 212.3,442.9 212.7,443.0 213.1,443.0 213.5,442.9 213.9,443.2 214.3,443.1 214.7,443.1 215.1,443.2 215.5,443.3 215.9,443.2 216.3,443.4 216.7,443.4 217.1,443.5 217.5,443.6 217.9,443.6 218.3,443.7 218.7,443.8 219.1,443.8 219.5,443.8 219.9,443.9 220.3,444.0 220.7,443.9 221.0,444.0 221.4,444.2 221.8,444.2 222.2,444.2 222.6,444.2 223.0,444.2 223.4,444.2 223.8,444.2 224.2,444.2 224.6,444.2 225.0,444.2 225.4,444.2 225.8,444.2 226.2,444.2 226.6,444.2 227.0,444.2 227.4,444.2 227.8,444.2 228.2,444.2 228.6,444.2 229.0,444.2 229.4,444.2 229.7,444.2 230.1,444.2 230.5,444.2 230.9,444.2 231.3,444.2 231.7,444.2 232.1,444.2 232.5,444.2 232.9,444.2 233.3,444.2 233.7,444.2 234.1,444.2 234.5,444.2 234.9,444.2 235.3,444.2 235.7,444.2 236.1,444.1 236.5,444.2 236.9,444.0 237.3,443.9 237.7,444.0 238.1,443.9 238.5,443.8 238.8,443.7 239.2,443.8 239.6,443.8 240.0,443.8 240.4,443.9 240.8,443.8 241.2,443.8 241.6,443.9 242.0,443.9 242.4,443.9 242.8,444.0 243.2,444.0 243.6,444.0 244.0,444.1 244.4,444.2 244.8,444.2 245.2,444.2 245.6,444.2 246.0,444.2 246.4,444.2 246.8,444.2 247.2,444.2 247.5,444.2 247.9,444.2 248.3,444.2 248.7,444.2 249.1,444.2 249.5,444.2 249.9,444.2 250.3,444.2 250.7,444.2 251.1,444.2 251.5,444.2 251.9,444.2 252.3,444.2 252.7,444.2 253.1,444.2 253.5,444.2 253.9,444.2 254.3,444.2 254.7,444.2 255.1,444.2 255.5,444.2 255.9,444.2 256.2,444.2 256.6,444.2 257.0,444.2 257.4,444.2 257.8,444.2 258.2,444.2 258.6,444.2 259.0,444.2 259.4,444.2 259.8,444.2 260.2,444.2 260.6,444.2 261.0,444.2 261.4,444.2 261.8,444.2 262.2,444.2 262.6,444.2 263.0,444.2 263.4,444.2 263.8,444.2 264.2,444.2 264.6,444.2 264.9,444.2 265.3,444.2 265.7,444.2 266.1,444.2 266.5,444.2 266.9,444.2 267.3,444.2 267.7,444.2 268.1,444.2 268.5,444.2 268.9,444.2 269.3,444.2 269.7,444.2 270.1,444.2 270.5,444.2 270.9,444.2 271.3,444.2 271.7,444.2 272.1,444.2 272.5,444.2 272.9,444.2 273.3,444.2 273.6,444.2 274.0,444.2 274.4,444.2 274.8,444.2 275.2,444.2 275.6,444.2 276.0,444.2 276.4,444.2 276.8,444.2 277.2,444.2 277.6,444.2 278.0,444.2" fill="none" stroke="#c83cd0" stroke-width="1.5" stroke-linejoin="round" />
<polyline points="40.7,444.2 41.1,444.2 41.5,444.2 41.9,444.2 42.3,444.2 42.7,444.2 43.1,444.2 43.5,444.2 43.9,444.2 44.3,444.2 44.7,444.2 45.1,444.2 45.4,444.2 45.8,444.2 46.2,444.2 46.6,444.2 47.0,444.2 47.4,444.2 47.8,444.2 48.2,444.2 48.6,444.2 49.0,444.2 49.4,444.2 49.8,444.2 50.2,444.2 50.6,444.2 51.0,444.2 51.4,444.2 51.8,444.2 52.2,444.1 52.6,444.0 53.0,443.8 53.4,443.6 53.8,443.3 54.1,443.1 54.5,442.8 54.9,442.5 55.3,441.9 55.7,441.3 56.1,440.8 56.5,440.0 56.9,439.1 57.3,438.3 57.7,437.2 58.1,436.2 58.5,435.3 58.9,434.0 59.3,432.8 59.7,431.5 60.1,430.5 60.5,429.2 60.9,428.1 61.3,426.8 61.7,425.7 62.1,424.5 62.5,423.7 62.8,423.1 63.2,422.4 63.6,421.9 64.0,421.4 64.4,420.7 64.8,421.7 65.2,420.9 65.6,420.8 66.0,420.8 66.4,421.7 66.8,421.6 67.2,421.9 67.6,422.8 68.0,423.7 68.4,423.9 68.8,424.8 69.2,425.1 69.6,426.2 70.0,426.4 70.4,427.6 70.8,428.6 71.2,429.4 71.5,430.4 71.9,431.1 72.3,432.0 72.7,433.2 73.1,434.1 73.5,435.4 73.9,436.3 74.3,437.1 74.7,438.4 75.1,439.1 75.5,440.0 75.9,440.9 76.3,441.5 76.7,442.1 77.1,442.5 77.5,443.0 77.9,443.3 78.3,443.5 78.7,443.8 79.1,443.9 79.5,444.1 79.9,444.1 80.2,444.2 80.6,444.2 81.0,444.2 81.4,444.2 81.8,444.2 82.2,444.2 82.6,444.2 83.0,444.2 83.4,444.2 83.8,444.2 84.2,444.2 84.6,444.2 85.0,444.2 85.4,444.2 85.8,444.2 86.2,444.2 86.6,444.2 87.0,444.2 87.4,444.2 87.8,444.2 88.2,444.2 88.6,444.2 89.0,444.2 89.3,444.2 89.7,444.2 90.1,444.2 90.5,444.2 90.9,444.2 91.3,444.2 91.7,444.2 92.1,444.2 92.5,444.2 92.9,444.2 93.3,444.2 93.7,444.2 94.1,444.2 94.5,444.2 94.9,444.2 95.3,444.2 95.7,444.2 96.1,444.2 96.5,444.2 96.9,444.2 97.3,444.2 97.7,444.2 98.0,444.2 98.4,444.2 98.8,444.2 99.2,444.2 99.6,444.2 100.0,444.2 100.4,444.2 100.8,444.2 101.2,444.2 101.6,444.2 102.0,444.2 102.4,444.2 102.8,444.2 103.2,444.2 103.6,444.2 104.0,444.2 104.4,444.2 104.8,444.2 105.2,444.2 105.6,444.2 106.0,444.2 106.4,444.2 106.7,444.2 107.1,444.2 107.5,444.2 107.9,444.2 108.3,444.2 108.7,444.2 109.1,444.2 109.5,444.2 109.9,444.2 110.3,444.2 110.7,444.2 111.1,444.2 111.5,444.2 111.9,444.2 112.3,444.2 112.7,444.2 113.1,444.2 113.5,444.2 113.9,444.2 114.3,444.2 114.7,444.2 115.1,444.2 115.4,444.2 115.8,444.2 116.2,444.2 116.6,444.2 117.0,444.2 117.4,444.2 117.8,444.2 118.2,444.2 118.6,444.2 119.0,444.2 119.4,444.2 119.8,444.2 120.2,444.2 120.6,444.2 121.0,444.2 121.4,444.2 121.8,444.2 122.2,444.2 122.6,444.2 123.0,444.2 123.4,444.2 123.8,444.2 124.2,444.2 124.5,444.2 124.9,444.1 125.3,444.1 125.7,444.0 126.1,443.9 126.5,443.7 126.9,443.4 127.3,443.1 127.7,442.8 128.1,442.4 128.5,441.9 128.9,441.5 129.3,440.8 129.7,440.0 130.1,439.1 130.5,438.2 130.9,437.1 131.3,435.6 131.7,434.4 132.1,433.1 132.5,430.8 132.9,429.5 133.2,427.8 133.6,425.7 134.0,424.1 134.4,421.5 134.8,420.5 135.2,418.6 135.6,416.3 136.0,414.8 136.4,412.3 136.8,411.9 137.2,410.2 137.6,408.7 138.0,407.6 138.4,406.7 138.8,406.5 139.2,405.5 139.6,406.4 140.0,406.4 140.4,406.5 140.8,407.5 141.2,408.3 141.6,409.3 141.9,410.4 142.3,411.7 142.7,412.8 143.1,414.5 143.5,415.2 143.9,417.3 144.3,417.5 144.7,419.2 145.1,420.9 145.5,422.8 145.9,424.5 146.3,425.7 146.7,427.5 147.1,429.1 147.5,430.9 147.9,432.1 148.3,433.8 148.7,435.0 149.1,436.4 149.5,437.4 149.9,438.2 150.3,439.0 150.6,439.6 151.0,439.9 151.4,440.3 151.8,440.4 152.2,440.7 152.6,440.6 153.0,440.6 153.4,440.8 153.8,440.9 154.2,440.9 154.6,441.3 155.0,441.5 155.4,441.7 155.8,442.1 156.2,442.4 156.6,442.8 157.0,443.1 157.4,443.3 157.8,443.6 158.2,443.9 158.6,443.9 159.0,444.1 159.4,444.2 159.7,444.2 160.1,444.2 160.5,444.2 160.9,444.2 161.3,444.1 161.7,444.2 162.1,444.1 162.5,443.9 162.9,443.6 163.3,443.3 163.7,442.9 164.1,442.4 164.5,441.6 164.9,440.7 165.3,439.7 165.7,438.5 166.1,437.1 166.5,435.4 166.9,433.7 167.3,432.1 167.7,430.4 168.1,428.2 168.4,427.2 168.8,425.5 169.2,424.6 169.6,424.1 170.0,423.2 170.4,423.2 170.8,423.0 171.2,423.5 171.6,425.0 172.0,425.8 172.4,427.0 172.8,428.7 173.2,430.1 173.6,430.9 174.0,432.5 174.4,433.6 174.8,434.7 175.2,435.7 175.6,436.7 176.0,437.4 176.4,438.2 176.8,439.0 177.1,439.8 177.5,440.4 177.9,441.1 178.3,441.6 178.7,442.0 179.1,442.4 179.5,442.8 179.9,443.3 180.3,443.4 180.7,443.8 181.1,443.9 181.5,443.9 181.9,444.1 182.3,444.2 182.7,444.2 183.1,444.2 183.5,444.2 183.9,444.2 184.3,444.2 184.7,444.2 185.1,444.2 185.5,444.2 185.8,444.2 186.2,444.2 186.6,444.2 187.0,444.2 187.4,444.2 187.8,444.2 188.2,444.2 188.6,444.2 189.0,444.2 189.4,444.2 189.8,444.2 190.2,444.2 190.6,444.2 191.0,444.2 191.4,444.2 191.8,444.2 192.2,444.2 192.6,444.2 193.0,444.2 193.4,444.2 193.8,444.2 194.2,444.2 194.5,444.1 194.9,444.0 195.3,444.0 195.7,444.0 196.1,443.9 196.5,443.8 196.9,443.8 197.3,443.8 197.7,443.7 198.1,443.6 198.5,443.6 198.9,443.6 199.3,443.4 199.7,443.3 200.1,443.2 200.5,443.2 200.9,443.1 201.3,443.0 201.7,443.0 202.1,442.9 202.5,442.8 202.9,442.7 203.3,442.6 203.6,442.6 204.0,442.5 204.4,442.5 204.8,442.3 205.2,442.3 205.6,442.3 206.0,442.1 206.4,442.1 206.8,442.1 207.2,442.0 207.6,442.0 208.0,441.9 208.4,441.9 208.8,441.9 209.2,441.9 209.6,441.9 210.0,441.8 210.4,441.8 210.8,441.8 211.2,441.8 211.6,441.9 212.0,441.9 212.3,441.8 212.7,441.8 213.1,442.0 213.5,442.0 213.9,442.0 214.3,442.1 214.7,442.2 215.1,442.3 215.5,442.3 215.9,442.4 216.3,442.5 216.7,442.7 217.1,442.7 217.5,442.8 217.9,443.0 218.3,443.1 218.7,443.2 219.1,443.4 219.5,443.4 219.9,443.5 220.3,443.7 220.7,443.8 221.0,443.8 221.4,443.9 221.8,444.0 222.2,444.0 222.6,444.1 223.0,444.2 223.4,444.2 223.8,444.2 224.2,444.2 224.6,444.2 225.0,444.2 225.4,444.2 225.8,444.2 226.2,444.2 226.6,444.2 227.0,444.2 227.4,444.2 227.8,444.2 228.2,444.2 228.6,444.2 229.0,444.2 229.4,444.2 229.7,444.2 230.1,444.2 230.5,444.2 230.9,444.2 231.3,444.2 231.7,444.2 232.1,444.2 232.5,444.2 232.9,444.2 233.3,444.1 233.7,444.1 234.1,444.1 234.5,443.8 234.9,443.9 235.3,443.7 235.7,443.6 236.1,443.4 236.5,443.2 236.9,443.1 237.3,442.9 237.7,442.8 238.1,442.7 238.5,442.6 238.8,442.4 239.2,442.3 239.6,442.2 240.0,442.3 240.4,442.3 240.8,442.4 241.2,442.3 241.6,442.6 242.0,442.6 242.4,442.7 242.8,442.9 243.2,443.1 243.6,443.4 244.0,443.4 244.4,443.7 244.8,443.7 245.2,443.8 245.6,444.0 246.0,444.0 246.4,444.1 246.8,444.2 247.2,444.2 247.5,444.2 247.9,444.2 248.3,444.2 248.7,444.2 249.1,444.2 249.5,444.2 249.9,444.2 250.3,444.2 250.7,444.2 251.1,444.2 251.5,444.2 251.9,444.2 252.3,444.2 252.7,444.2 253.1,444.2 253.5,444.2 253.9,444.2 254.3,444.2 254.7,444.2 255.1,444.2 255.5,444.2 255.9,444.2 256.2,444.2 256.6,444.2 257.0,444.2 257.4,444.2 257.8,444.2 258.2,444.2 258.6,444.2 259.0,444.2 259.4,444.2 259.8,444.2 260.2,444.2 260.6,444.2 261.0,444.2 261.4,444.2 261.8,444.2 262.2,444.2 262.6,444.2 263.0,444.2 263.4,444.2 263.8,444.2 264.2,444.2 264.6,444.2 264.9,444.2 265.3,444.2 265.7,444.2 266.1,444.2 266.5,444.2 266.9,444.2 267.3,444.2 267.7,444.2 268.1,444.2 268.5,444.2 268.9,444.2 269.3,444.2 269.7,444.2 270.1,444.2 270.5,444.2 270.9,444.2 271.3,444.2 271.7,444.2 272.1,444.2 272.5,444.2 272.9,444.2 273.3,444.2 273.6,444.2 274.0,444.2 274.4,444.2 274.8,444.2 275.2,444.2 275.6,444.2 276.0,444.2 276.4,444.2 276.8,444.2 277.2,444.2 277.6,444.2 278.0,444.2" fill="none" stroke="#1c2aa0" stroke-width="1.5" stroke-linejoin="round" />
<polyline points="40.7,444.2 41.1,444.2 41.5,444.2 41.9,444.2 42.3,444.2 42.7,444.2 43.1,444.2 43.5,444.2 43.9,444.2 44.3,444.2 44.7,444.2 45.1,444.2 45.4,444.2 45.8,444.2 46.2,444.2 46.6,444.2 47.0,444.2 47.4,444.2 47.8,444.2 48.2,444.2 48.6,444.2 49.0,444.2 49.4,444.2 49.8,444.2 50.2,444.2 50.6,444.2 51.0,444.2 51.4,444.2 51.8,444.0 52.2,443.9 52.6,443.6 53.0,443.4 53.4,443.1 53.8,442.7 54.1,442.3 54.5,441.7 54.9,441.0 55.3,440.2 55.7,439.2 56.1,438.3 56.5,436.9 56.9,435.6 57.3,434.2 57.7,432.5 58.1,430.8 58.5,428.9 58.9,426.8 59.3,424.5 59.7,422.8 60.1,420.6 60.5,419.1 60.9,416.6 61.3,414.3 61.7,412.7 62.1,411.2 62.5,410.0 62.8,408.9 63.2,407.4 63.6,407.0 64.0,406.2 64.4,404.9 64.8,405.2 65.2,404.1 65.6,405.4 66.0,404.9 66.4,406.0 66.8,406.1 67.2,407.2 67.6,407.7 68.0,408.8 68.4,409.9 68.8,410.7 69.2,411.6 69.6,413.6 70.0,414.4 70.4,416.0 70.8,417.5 71.2,418.3 71.5,421.2 71.9,422.3 72.3,424.3 72.7,425.6 73.1,427.3 73.5,428.3 73.9,430.7 74.3,432.2 74.7,433.9 75.1,435.6 75.5,437.0 75.9,438.2 76.3,439.4 76.7,440.4 77.1,441.2 77.5,442.0 77.9,442.6 78.3,443.0 78.7,443.3 79.1,443.7 79.5,443.9 79.9,444.0 80.2,444.1 80.6,444.2 81.0,444.2 81.4,444.2 81.8,444.2 82.2,444.2 82.6,444.2 83.0,444.2 83.4,444.2 83.8,444.2 84.2,444.2 84.6,444.2 85.0,444.2 85.4,444.2 85.8,444.2 86.2,444.2 86.6,444.2 87.0,444.2 87.4,444.2 87.8,444.2 88.2,444.2 88.6,444.2 89.0,444.2 89.3,444.2 89.7,444.2 90.1,444.2 90.5,444.2 90.9,444.2 91.3,444.2 91.7,444.2 92.1,444.2 92.5,444.2 92.9,444.2 93.3,444.2 93.7,444.2 94.1,444.2 94.5,444.2 94.9,444.2 95.3,444.2 95.7,444.2 96.1,444.2 96.5,444.2 96.9,444.2 97.3,444.2 97.7,444.2 98.0,444.2 98.4,444.2 98.8,444.2 99.2,444.2 99.6,444.2 100.0,444.2 100.4,444.2 100.8,444.2 101.2,444.2 101.6,444.2 102.0,444.2 102.4,444.2 102.8,444.2 103.2,444.2 103.6,444.2 104.0,444.2 104.4,444.2 104.8,444.2 105.2,444.2 105.6,444.2 106.0,444.2 106.4,444.2 106.7,444.2 107.1,444.2 107.5,444.2 107.9,444.2 108.3,444.2 108.7,444.2 109.1,444.2 109.5,444.2 109.9,444.2 110.3,444.2 110.7,444.2 111.1,444.2 111.5,444.2 111.9,444.2 112.3,444.2 112.7,444.2 113.1,444.2 113.5,444.2 113.9,444.2 114.3,444.2 114.7,444.2 115.1,444.2 115.4,444.2 115.8,444.2 116.2,444.2 116.6,444.2 117.0,444.2 117.4,444.2 117.8,444.2 118.2,444.2 118.6,444.2 119.0,444.2 119.4,444.2 119.8,444.2 120.2,444.2 120.6,444.2 121.0,444.2 121.4,444.2 121.8,444.2 122.2,444.2 122.6,444.2 123.0,444.2 123.4,444.2 123.8,444.2 124.2,444.2 124.5,444.1 124.9,444.0 125.3,443.9 125.7,443.6 126.1,443.4 126.5,443.2 126.9,442.7 127.3,442.2 127.7,441.8 128.1,441.1 128.5,440.2 128.9,439.2 129.3,438.1 129.7,437.0 130.1,435.5 130.5,433.5 130.9,431.7 131.3,429.6 131.7,427.3 132.1,424.4 132.5,422.4 132.9,418.9 133.2,416.4 133.6,412.7 134.0,409.3 134.4,407.0 134.8,403.1 135.2,400.1 135.6,396.9 136.0,393.8 136.4,391.4 136.8,388.8 137.2,385.9 137.6,383.9 138.0,382.7 138.4,381.8 138.8,379.5 139.2,379.5 139.6,379.7 140.0,380.5 140.4,381.0 140.8,381.7 141.2,383.4 141.6,384.1 141.9,386.4 142.3,388.3 142.7,390.9 143.1,393.1 143.5,395.4 143.9,397.5 144.3,400.1 144.7,402.7 145.1,405.1 145.5,407.7 145.9,410.0 146.3,413.3 146.7,416.3 147.1,418.7 147.5,421.0 147.9,424.2 148.3,426.5 148.7,429.0 149.1,431.1 149.5,433.1 149.9,435.1 150.3,436.6 150.6,437.8 151.0,438.9 151.4,439.8 151.8,440.5 152.2,441.2 152.6,441.6 153.0,441.8 153.4,442.2 153.8,442.4 154.2,442.7 154.6,442.8 155.0,443.0 155.4,443.2 155.8,443.3 156.2,443.5 156.6,443.7 157.0,443.8 157.4,444.0 157.8,444.0 158.2,444.2 158.6,444.2 159.0,444.2 159.4,444.2 159.7,444.2 160.1,444.2 160.5,444.2 160.9,444.2 161.3,444.2 161.7,444.2 162.1,444.2 162.5,444.2 162.9,443.9 163.3,443.9 163.7,443.7 164.1,443.5 164.5,443.3 164.9,442.8 165.3,442.4 165.7,441.8 166.1,441.3 166.5,440.6 166.9,439.8 167.3,439.0 167.7,438.4 168.1,437.5 168.4,436.7 168.8,436.3 169.2,435.7 169.6,435.6 170.0,435.2 170.4,435.4 170.8,435.5 171.2,435.7 171.6,435.8 172.0,436.5 172.4,437.1 172.8,437.5 173.2,438.1 173.6,438.6 174.0,439.3 174.4,439.8 174.8,440.2 175.2,440.6 175.6,441.0 176.0,441.4 176.4,441.8 176.8,442.1 177.1,442.4 177.5,442.6 177.9,442.9 178.3,443.2 178.7,443.4 179.1,443.5 179.5,443.7 179.9,443.7 180.3,444.0 180.7,444.0 181.1,444.2 181.5,444.2 181.9,444.2 182.3,444.2 182.7,444.2 183.1,444.2 183.5,444.2 183.9,444.2 184.3,444.2 184.7,444.2 185.1,444.2 185.5,444.2 185.8,444.2 186.2,444.2 186.6,444.2 187.0,444.2 187.4,444.2 187.8,444.2 188.2,444.2 188.6,444.2 189.0,444.2 189.4,444.2 189.8,444.2 190.2,444.2 190.6,444.2 191.0,444.2 191.4,444.2 191.8,444.2 192.2,444.2 192.6,444.2 193.0,444.1 193.4,444.1 193.8,444.2 194.2,444.1 194.5,444.1 194.9,444.0 195.3,444.0 195.7,444.0 196.1,443.8 196.5,443.7 196.9,443.6 197.3,443.6 197.7,443.5 198.1,443.4 198.5,443.4 198.9,443.3 199.3,443.1 199.7,443.0 200.1,443.0 200.5,442.8 200.9,442.7 201.3,442.5 201.7,442.6 202.1,442.4 202.5,442.2 202.9,442.2 203.3,442.1 203.6,442.2 204.0,441.9 204.4,441.9 204.8,441.9 205.2,441.7 205.6,441.6 206.0,441.5 206.4,441.4 206.8,441.4 207.2,441.4 207.6,441.3 208.0,441.3 208.4,441.2 208.8,441.2 209.2,441.2 209.6,441.1 210.0,441.1 210.4,441.0 210.8,441.0 211.2,441.2 211.6,441.1 212.0,441.2 212.3,441.2 212.7,441.2 213.1,441.3 213.5,441.3 213.9,441.4 214.3,441.4 214.7,441.5 215.1,441.6 215.5,441.7 215.9,441.8 216.3,441.9 216.7,442.1 217.1,442.3 217.5,442.4 217.9,442.6 218.3,442.6 218.7,442.8 219.1,443.1 219.5,443.1 219.9,443.4 220.3,443.4 220.7,443.5 221.0,443.7 221.4,443.8 221.8,443.9 222.2,444.0 222.6,444.1 223.0,444.1 223.4,444.2 223.8,444.2 224.2,444.2 224.6,444.2 225.0,444.2 225.4,444.2 225.8,444.2 226.2,444.2 226.6,444.2 227.0,444.2 227.4,444.2 227.8,444.2 228.2,444.2 228.6,444.2 229.0,444.2 229.4,444.2 229.7,444.2 230.1,444.2 230.5,444.2 230.9,444.2 231.3,444.2 231.7,444.2 232.1,444.2 232.5,444.2 232.9,444.2 233.3,444.2 233.7,444.2 234.1,444.2 234.5,444.1 234.9,444.0 235.3,444.1 235.7,444.0 236.1,443.8 236.5,443.7 236.9,443.6 237.3,443.7 237.7,443.5 238.1,443.4 238.5,443.3 238.8,443.2 239.2,443.3 239.6,443.3 240.0,443.3 240.4,443.2 240.8,443.3 241.2,443.2 241.6,443.3 242.0,443.4 242.4,443.6 242.8,443.6 243.2,443.6 243.6,443.9 244.0,443.9 244.4,444.0 244.8,444.0 245.2,444.1 245.6,444.1 246.0,444.2 246.4,444.2 246.8,444.2 247.2,444.2 247.5,444.2 247.9,444.2 248.3,444.2 248.7,444.2 249.1,444.2 249.5,444.2 249.9,444.2 250.3,444.2 250.7,444.2 251.1,444.2 251.5,444.2 251.9,444.2 252.3,444.2 252.7,444.2 253.1,444.2 253.5,444.2 253.9,444.2 254.3,444.2 254.7,444.2 255.1,444.2 255.5,444.2 255.9,444.2 256.2,444.2 256.6,444.2 257.0,444.2 257.4,444.2 257.8,444.2 258.2,444.2 258.6,444.2 259.0,444.2 259.4,444.2 259.8,444.2 260.2,444.2 260.6,444.2 261.0,444.2 261.4,444.2 261.8,444.2 262.2,444.2 262.6,444.2 263.0,444.2 263.4,444.2 263.8,444.2 264.2,444.2 264.6,444.2 264.9,444.2 265.3,444.2 265.7,444.2 266.1,444.2 266.5,444.2 266.9,444.2 267.3,444.2 267.7,444.2 268.1,444.2 268.5,444.2 268.9,444.2 269.3,444.2 269.7,444.2 270.1,444.2 270.5,444.2 270.9,444.2 271.3,444.2 271.7,444.2 272.1,444.2 272.5,444.2 272.9,444.2 273.3,444.2 273.6,444.2 274.0,444.2 274.4,444.2 274.8,444.2 275.2,444.2 275.6,444.2 276.0,444.2 276.4,444.2 276.8,444.2 277.2,444.2 277.6,444.2 278.0,444.2" fill="none" stroke="#000000" stroke-width="1.5" stroke-linejoin="round" />
<polyline points="40.7,444.2 41.1,444.2 41.5,444.2 41.9,444.2 42.3,444.2 42.7,444.2 43.1,444.2 43.5,444.2 43.9,444.2 44.3,444.2 44.7,444.2 45.1,444.2 45.4,444.2 45.8,444.2 46.2,444.2 46.6,444.2 47.0,444.2 47.4,444.2 47.8,444.2 48.2,444.2 48.6,444.2 49.0,444.2 49.4,444.2 49.8,444.2 50.2,444.2 50.6,444.2 51.0,444.1 51.4,444.1 51.8,443.8 52.2,443.7 52.6,443.4 53.0,443.0 53.4,442.8 53.8,442.2 54.1,441.6 54.5,440.8 54.9,440.0 55.3,438.9 55.7,437.7 56.1,436.1 56.5,434.5 56.9,432.8 57.3,430.8 57.7,428.6 58.1,426.1 58.5,423.6 58.9,421.0 59.3,418.3 59.7,416.0 60.1,413.8 60.5,409.9 60.9,406.9 61.3,405.4 61.7,402.8 62.1,400.2 62.5,398.0 62.8,396.4 63.2,394.6 63.6,393.9 64.0,392.7 64.4,392.0 64.8,391.9 65.2,391.2 65.6,391.5 66.0,391.7 66.4,392.8 66.8,393.0 67.2,394.8 67.6,395.4 68.0,397.8 68.4,398.6 68.8,399.5 69.2,401.5 69.6,403.0 70.0,405.4 70.4,406.1 70.8,408.3 71.2,410.6 71.5,412.5 71.9,414.7 72.3,416.5 72.7,419.2 73.1,422.0 73.5,424.0 73.9,426.0 74.3,428.4 74.7,430.7 75.1,432.6 75.5,434.5 75.9,436.2 76.3,437.9 76.7,439.1 77.1,440.2 77.5,441.1 77.9,441.9 78.3,442.4 78.7,443.0 79.1,443.4 79.5,443.7 79.9,443.9 80.2,444.0 80.6,444.2 81.0,444.2 81.4,444.2 81.8,444.2 82.2,444.2 82.6,444.2 83.0,444.2 83.4,444.2 83.8,444.2 84.2,444.2 84.6,444.2 85.0,444.2 85.4,444.2 85.8,444.2 86.2,444.2 86.6,444.2 87.0,444.2 87.4,444.2 87.8,444.2 88.2,444.2 88.6,444.2 89.0,444.2 89.3,444.2 89.7,444.2 90.1,444.2 90.5,444.2 90.9,444.2 91.3,444.2 91.7,444.2 92.1,444.2 92.5,444.2 92.9,444.2 93.3,444.2 93.7,444.2 94.1,444.2 94.5,444.2 94.9,444.2 95.3,444.2 95.7,444.2 96.1,444.2 96.5,444.2 96.9,444.2 97.3,444.2 97.7,444.2 98.0,444.2 98.4,444.2 98.8,444.2 99.2,444.2 99.6,444.2 100.0,444.2 100.4,444.2 100.8,444.2 101.2,444.2 101.6,444.2 102.0,444.2 102.4,444.2 102.8,444.2 103.2,444.2 103.6,444.2 104.0,444.2 104.4,444.2 104.8,444.2 105.2,444.2 105.6,444.2 106.0,444.2 106.4,444.2 106.7,444.2 107.1,444.2 107.5,444.2 107.9,444.2 108.3,444.2 108.7,444.2 109.1,444.2 109.5,444.2 109.9,444.2 110.3,444.2 110.7,444.2 111.1,444.2 111.5,444.2 111.9,444.2 112.3,444.2 112.7,444.2 113.1,444.2 113.5,444.2 113.9,444.2 114.3,444.2 114.7,444.2 115.1,444.2 115.4,444.2 115.8,444.2 116.2,444.2 116.6,444.2 117.0,444.2 117.4,444.2 117.8,444.2 118.2,444.2 118.6,444.2 119.0,444.2 119.4,444.2 119.8,444.2 120.2,444.2 120.6,444.2 121.0,444.2 121.4,444.2 121.8,444.2 122.2,444.2 122.6,444.2 123.0,444.2 123.4,444.2 123.8,444.1 124.2,444.1 124.5,444.0 124.9,443.9 125.3,443.6 125.7,443.4 126.1,443.0 126.5,442.7 126.9,442.1 127.3,441.5 127.7,440.9 128.1,439.9 128.5,438.9 128.9,437.4 129.3,436.0 129.7,434.3 130.1,432.2 130.5,430.1 130.9,427.4 131.3,424.5 131.7,421.6 132.1,418.0 132.5,414.8 132.9,410.4 133.2,407.0 133.6,402.1 134.0,397.8 134.4,393.3 134.8,389.4 135.2,383.8 135.6,380.7 136.0,376.5 136.4,373.1 136.8,368.9 137.2,366.4 137.6,363.3 138.0,361.8 138.4,359.6 138.8,358.7 139.2,357.6 139.6,357.9 140.0,358.5 140.4,358.9 140.8,360.8 141.2,362.5 141.6,364.0 141.9,367.3 142.3,369.1 142.7,372.3 143.1,375.5 143.5,378.3 143.9,381.4 144.3,385.1 144.7,388.4 145.1,391.5 145.5,395.1 145.9,399.0 146.3,402.8 146.7,406.6 147.1,410.1 147.5,413.2 147.9,416.8 148.3,420.2 148.7,423.1 149.1,426.4 149.5,428.9 149.9,431.2 150.3,432.8 150.6,434.8 151.0,435.8 151.4,436.7 151.8,437.5 152.2,437.8 152.6,438.3 153.0,438.6 153.4,438.9 153.8,439.1 154.2,439.5 154.6,439.8 155.0,440.2 155.4,440.7 155.8,441.1 156.2,441.5 156.6,442.1 157.0,442.5 157.4,443.0 157.8,443.2 158.2,443.5 158.6,443.8 159.0,444.0 159.4,444.1 159.7,444.2 160.1,444.2 160.5,444.2 160.9,444.2 161.3,444.2 161.7,444.1 162.1,443.9 162.5,443.7 162.9,443.4 163.3,442.9 163.7,442.4 164.1,441.5 164.5,440.6 164.9,439.4 165.3,438.0 165.7,436.4 166.1,434.3 166.5,432.2 166.9,429.5 167.3,427.1 167.7,425.1 168.1,422.2 168.4,420.2 168.8,418.4 169.2,416.6 169.6,415.4 170.0,415.3 170.4,415.1 170.8,415.4 171.2,416.6 171.6,417.5 172.0,419.1 172.4,420.9 172.8,422.8 173.2,424.3 173.6,426.0 174.0,427.8 174.4,429.7 174.8,430.9 175.2,432.4 175.6,433.6 176.0,434.7 176.4,436.0 176.8,437.0 177.1,438.0 177.5,438.9 177.9,439.6 178.3,440.4 178.7,441.2 179.1,441.7 179.5,442.3 179.9,442.7 180.3,443.1 180.7,443.4 181.1,443.7 181.5,443.9 181.9,444.0 182.3,444.2 182.7,444.2 183.1,444.2 183.5,444.2 183.9,444.2 184.3,444.2 184.7,444.2 185.1,444.2 185.5,444.2 185.8,444.2 186.2,444.2 186.6,444.2 187.0,444.2 187.4,444.2 187.8,444.2 188.2,444.2 188.6,444.2 189.0,444.2 189.4,444.2 189.8,444.2 190.2,444.2 190.6,444.2 191.0,444.2 191.4,444.2 191.8,444.2 192.2,444.2 192.6,444.2 193.0,444.1 193.4,444.1 193.8,444.1 194.2,444.0 194.5,443.9 194.9,443.9 195.3,443.9 195.7,443.9 196.1,443.7 196.5,443.5 196.9,443.5 197.3,443.5 197.7,443.3 198.1,443.3 198.5,443.0 198.9,442.9 199.3,442.9 199.7,442.7 200.1,442.6 200.5,442.4 200.9,442.3 201.3,442.3 201.7,442.1 202.1,442.0 202.5,441.8 202.9,441.7 203.3,441.7 203.6,441.6 204.0,441.3 204.4,441.2 204.8,441.3 205.2,441.0 205.6,441.0 206.0,440.9 206.4,440.8 206.8,440.8 207.2,440.6 207.6,440.6 208.0,440.7 208.4,440.4 208.8,440.4 209.2,440.5 209.6,440.4 210.0,440.4 210.4,440.4 210.8,440.3 211.2,440.4 211.6,440.4 212.0,440.4 212.3,440.4 212.7,440.5 213.1,440.4 213.5,440.6 213.9,440.6 214.3,440.8 214.7,440.9 215.1,440.9 215.5,441.1 215.9,441.3 216.3,441.4 216.7,441.5 217.1,441.8 217.5,441.9 217.9,442.1 218.3,442.3 218.7,442.4 219.1,442.6 219.5,442.8 219.9,443.0 220.3,443.1 220.7,443.3 221.0,443.6 221.4,443.6 221.8,443.8 222.2,443.9 222.6,444.0 223.0,444.0 223.4,444.1 223.8,444.1 224.2,444.1 224.6,444.2 225.0,444.2 225.4,444.2 225.8,444.2 226.2,444.2 226.6,444.2 227.0,444.2 227.4,444.2 227.8,444.2 228.2,444.2 228.6,444.2 229.0,444.2 229.4,444.2 229.7,444.2 230.1,444.2 230.5,444.2 230.9,444.2 231.3,444.2 231.7,444.2 232.1,444.2 232.5,444.2 232.9,444.2 233.3,444.1 233.7,444.1 234.1,443.9 234.5,443.9 234.9,443.6 235.3,443.6 235.7,443.4 236.1,443.1 236.5,443.0 236.9,442.7 237.3,442.4 237.7,442.3 238.1,442.2 238.5,442.0 238.8,441.9 239.2,441.6 239.6,441.6 240.0,441.6 240.4,441.7 240.8,441.7 241.2,441.7 241.6,442.0 242.0,442.1 242.4,442.4 242.8,442.5 243.2,442.7 243.6,442.8 244.0,443.1 244.4,443.3 244.8,443.5 245.2,443.6 245.6,443.9 246.0,443.9 246.4,444.0 246.8,444.1 247.2,444.2 247.5,444.2 247.9,444.2 248.3,444.2 248.7,444.2 249.1,444.2 249.5,444.2 249.9,444.2 250.3,444.2 250.7,444.2 251.1,444.2 251.5,444.2 251.9,444.2 252.3,444.2 252.7,444.2 253.1,444.2 253.5,444.2 253.9,444.2 254.3,444.2 254.7,444.2 255.1,444.2 255.5,444.2 255.9,444.2 256.2,444.2 256.6,444.2 257.0,444.2 257.4,444.2 257.8,444.2 258.2,444.2 258.6,444.2 259.0,444.2 259.4,444.2 259.8,444.2 260.2,444.2 260.6,444.2 261.0,444.2 261.4,444.2 261.8,444.2 262.2,444.2 262.6,444.2 263.0,444.2 263.4,444.2 263.8,444.2 264.2,444.2 264.6,444.2 264.9,444.2 265.3,444.2 265.7,444.2 266.1,444.2 266.5,444.2 266.9,444.2 267.3,444.2 267.7,444.2 268.1,444.2 268.5,444.2 268.9,444.2 269.3,444.2 269.7,444.2 270.1,444.2 270.5,444.2 270.9,444.2 271.3,444.2 271.7,444.2 272.1,444.2 272.5,444.2 272.9,444.2 273.3,444.2 273.6,444.2 274.0,444.2 274.4,444.2 274.8,444.2 275.2,444.2 275.6,444.2 276.0,444.2 276.4,444.2 276.8,444.2 277.2,444.2 277.6,444.2 278.0,444.2" fill="none" stroke="#b02828" stroke-width="1.5" stroke-linejoin="round" />
<polyline points="40.7,443.5 41.1,443.4 41.5,443.3 41.9,442.9 42.3,442.7 42.7,442.4 43.1,442.0 43.5,441.6 43.9,441.5 44.3,441.4 44.7,441.4 45.1,441.3 45.4,441.3 45.8,441.5 46.2,441.7 46.6,441.6 47.0,441.8 47.4,441.9 47.8,442.0 48.2,442.0 48.6,442.2 49.0,442.1 49.4,442.0 49.8,442.1 50.2,442.1 50.6,442.0 51.0,442.0 51.4,442.0 51.8,441.8 52.2,441.5 52.6,441.2 53.0,440.8 53.4,440.1 53.8,439.2 54.1,438.1 54.5,436.9 54.9,434.7 55.3,432.6 55.7,430.1 56.1,427.6 56.5,424.3 56.9,419.8 57.3,415.7 57.7,411.2 58.1,406.6 58.5,401.2 58.9,396.1 59.3,390.4 59.7,384.9 60.1,378.8 60.5,373.5 60.9,367.5 61.3,362.4 61.7,358.0 62.1,352.5 62.5,349.5 62.8,345.2 63.2,341.9 63.6,339.2 64.0,338.5 64.4,335.9 64.8,334.9 65.2,334.5 65.6,336.1 66.0,336.2 66.4,337.2 66.8,339.0 67.2,340.3 67.6,343.5 68.0,345.4 68.4,348.6 68.8,352.5 69.2,355.6 69.6,358.9 70.0,362.4 70.4,365.8 70.8,370.2 71.2,373.9 71.5,379.1 71.9,384.1 72.3,387.7 72.7,392.2 73.1,397.3 73.5,402.4 73.9,406.6 74.3,410.7 74.7,415.9 75.1,420.3 75.5,424.2 75.9,427.1 76.3,430.6 76.7,433.3 77.1,435.5 77.5,437.5 77.9,439.3 78.3,440.4 78.7,441.4 79.1,442.2 79.5,442.8 79.9,443.3 80.2,443.6 80.6,443.9 81.0,444.0 81.4,444.2 81.8,444.2 82.2,444.2 82.6,444.2 83.0,444.2 83.4,444.2 83.8,444.2 84.2,444.2 84.6,444.2 85.0,444.2 85.4,444.2 85.8,444.2 86.2,444.2 86.6,444.2 87.0,444.2 87.4,444.2 87.8,444.2 88.2,444.2 88.6,444.2 89.0,444.2 89.3,444.2 89.7,444.2 90.1,444.2 90.5,444.2 90.9,444.2 91.3,444.2 91.7,444.2 92.1,444.2 92.5,444.2 92.9,444.2 93.3,444.2 93.7,444.2 94.1,444.2 94.5,444.2 94.9,444.2 95.3,444.2 95.7,444.2 96.1,444.2 96.5,444.2 96.9,444.2 97.3,444.2 97.7,444.2 98.0,444.2 98.4,444.2 98.8,444.2 99.2,444.2 99.6,444.2 100.0,444.2 100.4,444.2 100.8,444.2 101.2,444.2 101.6,444.2 102.0,444.2 102.4,444.2 102.8,444.2 103.2,444.2 103.6,444.2 104.0,444.2 104.4,444.2 104.8,444.2 105.2,444.2 105.6,444.2 106.0,444.2 106.4,444.2 106.7,444.2 107.1,444.2 107.5,444.2 107.9,444.2 108.3,444.2 108.7,444.2 109.1,444.2 109.5,444.2 109.9,444.2 110.3,444.2 110.7,444.2 111.1,444.2 111.5,444.2 111.9,444.2 112.3,444.2 112.7,444.2 113.1,444.2 113.5,444.2 113.9,444.2 114.3,444.2 114.7,444.2 115.1,444.2 115.4,444.2 115.8,444.2 116.2,444.2 116.6,444.2 117.0,444.2 117.4,444.2 117.8,444.2 118.2,444.2 118.6,444.2 119.0,444.2 119.4,444.2 119.8,444.2 120.2,444.2 120.6,444.2 121.0,444.2 121.4,444.2 121.8,444.2 122.2,444.2 122.6,444.2 123.0,444.2 123.4,444.1 123.8,443.9 124.2,443.7 124.5,443.6 124.9,443.2 125.3,442.9 125.7,442.4 126.1,441.7 126.5,440.9 126.9,440.0 127.3,438.8 127.7,437.2 128.1,435.2 128.5,432.9 128.9,430.5 129.3,427.4 129.7,423.7 130.1,419.5 130.5,415.2 130.9,409.9 131.3,403.5 131.7,397.9 132.1,391.1 132.5,384.1 132.9,375.5 133.2,367.4 133.6,358.0 134.0,350.0 134.4,340.6 134.8,331.7 135.2,322.6 135.6,315.1 136.0,305.8 136.4,298.7 136.8,291.8 137.2,285.6 137.6,280.2 138.0,275.7 138.4,273.0 138.8,269.6 139.2,268.4 139.6,268.6 140.0,269.1 140.4,270.0 140.8,273.4 141.2,277.2 141.6,280.8 141.9,286.6 142.3,291.7 142.7,297.7 143.1,303.7 143.5,309.7 143.9,316.4 144.3,323.6 144.7,330.3 145.1,337.3 145.5,344.7 145.9,351.9 146.3,359.6 146.7,367.1 147.1,374.3 147.5,382.1 147.9,388.8 148.3,396.0 148.7,402.9 149.1,409.0 149.5,414.6 149.9,419.6 150.3,424.1 150.6,428.1 151.0,431.6 151.4,434.1 151.8,436.5 152.2,438.4 152.6,439.9 153.0,441.1 153.4,442.0 153.8,442.6 154.2,443.0 154.6,443.4 155.0,443.7 155.4,444.0 155.8,444.0 156.2,444.0 156.6,444.2 157.0,444.2 157.4,444.2 157.8,444.2 158.2,444.2 158.6,444.2 159.0,444.2 159.4,444.2 159.7,444.2 160.1,444.2 160.5,444.2 160.9,444.2 161.3,444.2 161.7,444.2 162.1,444.2 162.5,444.2 162.9,444.2 163.3,444.2 163.7,444.2 164.1,444.2 164.5,444.2 164.9,444.2 165.3,444.2 165.7,444.2 166.1,444.2 166.5,444.2 166.9,444.2 167.3,444.2 167.7,444.2 168.1,444.1 168.4,444.1 168.8,444.1 169.2,444.1 169.6,444.1 170.0,443.9 170.4,444.0 170.8,444.0 171.2,444.0 171.6,444.0 172.0,444.0 172.4,444.2 172.8,444.2 173.2,444.0 173.6,444.2 174.0,444.2 174.4,444.2 174.8,444.2 175.2,444.2 175.6,444.2 176.0,444.2 176.4,444.2 176.8,444.2 177.1,444.2 177.5,444.2 177.9,444.2 178.3,444.2 178.7,444.2 179.1,444.2 179.5,444.2 179.9,444.2 180.3,444.2 180.7,444.2 181.1,444.2 181.5,444.2 181.9,444.2 182.3,444.2 182.7,444.2 183.1,444.2 183.5,444.2 183.9,444.2 184.3,444.2 184.7,444.2 185.1,444.2 185.5,444.2 185.8,444.2 186.2,444.2 186.6,444.2 187.0,444.2 187.4,444.2 187.8,444.2 188.2,444.2 188.6,444.2 189.0,444.2 189.4,444.2 189.8,444.2 190.2,444.2 190.6,444.2 191.0,444.2 191.4,444.2 191.8,444.2 192.2,444.2 192.6,444.1 193.0,444.1 193.4,443.9 193.8,443.8 194.2,443.8 194.5,443.7 194.9,443.5 195.3,443.5 195.7,443.4 196.1,443.2 196.5,443.1 196.9,442.9 197.3,442.8 197.7,442.6 198.1,442.5 198.5,442.4 198.9,442.2 199.3,442.1 199.7,441.8 200.1,441.6 200.5,441.4 200.9,441.2 201.3,441.0 201.7,440.8 202.1,440.6 202.5,440.4 202.9,440.3 203.3,440.1 203.6,439.9 204.0,439.8 204.4,439.6 204.8,439.4 205.2,439.2 205.6,439.2 206.0,439.0 206.4,438.8 206.8,438.8 207.2,438.7 207.6,438.6 208.0,438.4 208.4,438.3 208.8,438.2 209.2,438.2 209.6,438.3 210.0,438.2 210.4,438.1 210.8,438.1 211.2,438.3 211.6,438.2 212.0,438.3 212.3,438.2 212.7,438.3 213.1,438.4 213.5,438.5 213.9,438.6 214.3,438.8 214.7,438.9 215.1,439.1 215.5,439.3 215.9,439.6 216.3,439.9 216.7,440.0 217.1,440.4 217.5,440.7 217.9,440.9 218.3,441.2 218.7,441.5 219.1,441.7 219.5,442.0 219.9,442.2 220.3,442.5 220.7,442.8 221.0,443.0 221.4,443.1 221.8,443.3 222.2,443.6 222.6,443.8 223.0,443.8 223.4,443.9 223.8,444.1 224.2,444.1 224.6,444.2 225.0,444.2 225.4,444.2 225.8,444.2 226.2,444.2 226.6,444.2 227.0,444.2 227.4,444.2 227.8,444.2 228.2,444.2 228.6,444.2 229.0,444.2 229.4,444.2 229.7,444.2 230.1,444.2 230.5,444.2 230.9,444.2 231.3,444.2 231.7,444.2 232.1,444.2 232.5,444.2 232.9,444.2 233.3,444.2 233.7,444.2 234.1,444.2 234.5,444.2 234.9,444.2 235.3,444.2 235.7,444.2 236.1,444.2 236.5,444.2 236.9,444.0 237.3,444.1 237.7,444.1 238.1,444.1 238.5,444.0 238.8,444.0 239.2,443.9 239.6,443.9 240.0,443.9 240.4,444.0 240.8,444.0 241.2,444.0 241.6,443.9 242.0,444.1 242.4,444.0 242.8,444.1 243.2,444.1 243.6,444.1 244.0,444.2 244.4,444.2 244.8,444.2 245.2,444.2 245.6,444.2 246.0,444.2 246.4,444.2 246.8,444.2 247.2,444.2 247.5,444.2 247.9,444.2 248.3,444.2 248.7,444.2 249.1,444.2 249.5,444.2 249.9,444.2 250.3,444.2 250.7,444.2 251.1,444.2 251.5,444.2 251.9,444.2 252.3,444.2 252.7,444.2 253.1,444.2 253.5,444.2 253.9,444.2 254.3,444.2 254.7,444.2 255.1,444.2 255.5,444.2 255.9,444.2 256.2,444.2 256.6,444.2 257.0,444.2 257.4,444.2 257.8,444.2 258.2,444.2 258.6,444.2 259.0,444.2 259.4,444.2 259.8,444.2 260.2,444.2 260.6,444.2 261.0,444.2 261.4,444.2 261.8,444.2 262.2,444.2 262.6,444.2 263.0,444.2 263.4,444.2 263.8,444.2 264.2,444.2 264.6,444.2 264.9,444.2 265.3,444.2 265.7,444.2 266.1,444.2 266.5,444.2 266.9,444.2 267.3,444.2 267.7,444.2 268.1,444.2 268.5,444.2 268.9,444.2 269.3,444.2 269.7,444.2 270.1,444.2 270.5,444.2 270.9,444.2 271.3,444.2 271.7,444.2 272.1,444.2 272.5,444.2 272.9,444.2 273.3,444.2 273.6,444.2 274.0,444.2 274.4,444.2 274.8,444.2 275.2,444.2 275.6,444.2 276.0,444.2 276.4,444.2 276.8,444.2 277.2,444.2 277.6,444.2 278.0,444.2" fill="none" stroke="#6c1cc4" stroke-width="1.7" stroke-linejoin="round" />
<text x="0.00" y="0.00" font-size="11.2" font-weight="bold" fill="#000" stroke="#000" stroke-width="0.22"  transform="translate(10.8,345) rotate(-90)" text-anchor="middle" textLength="108.5" lengthAdjust="spacingAndGlyphs">Intensity (arb. units)</text>
<text x="157.50" y="471.10" font-size="11" font-weight="bold" fill="#000" stroke="#000" stroke-width="0.22" text-anchor="middle" >Wavelength (nm)</text>
<text x="43.2" y="258.4" font-size="10.5" font-weight="bold" fill="#1f2a8c" stroke="#1f2a8c" stroke-width="0.2" textLength="122" lengthAdjust="spacingAndGlyphs">Mg<tspan font-size="9.5" dy="3.2">2</tspan><tspan dy="-3.2">P</tspan><tspan font-size="9.5" dy="3.2">2</tspan><tspan dy="-3.2">O</tspan><tspan font-size="9.5" dy="3.2">7</tspan><tspan dy="-3.2">:1.5 Dy</tspan><tspan font-size="9.5" dy="-6.5">3+</tspan><tspan dy="6.5"> / X Eu</tspan><tspan font-size="9.5" dy="-6.5">3+</tspan></text>
<text x="44.3" y="273.1" font-size="10" font-weight="bold" fill="#c0282d" stroke="#c0282d" stroke-width="0.15" textLength="86" lengthAdjust="spacingAndGlyphs">em at λ<tspan font-size="9.5" dy="3">ex</tspan><tspan dy="-3"> = 348 nm</tspan></text>
<text x="57.00" y="304.00" font-size="14" font-weight="bold" fill="#000" stroke="#000" stroke-width="0.22" text-anchor="start" >(b)</text>
<text x="85.4" y="299" font-size="12" fill="#000" stroke="#000" stroke-width="0.35">Dy<tspan font-weight="bold" stroke-width="0" font-size="10.5" dy="-6">3+</tspan></text>
<line x1="90.80" y1="304.80" x2="75.44" y2="329.48" stroke="#000" stroke-width="1.1"/>
<polygon points="72.0,335.0 73.2,328.1 77.6,330.9" fill="#000"/>
<line x1="97.90" y1="304.40" x2="123.37" y2="323.24" stroke="#000" stroke-width="1.1"/>
<polygon points="128.6,327.1 121.8,325.3 124.9,321.1" fill="#000"/>
<text x="160.3" y="413" font-size="12" fill="#000" stroke="#000" stroke-width="0.35">Eu<tspan font-weight="bold" stroke-width="0" font-size="10.5" dy="-6">3+</tspan></text>
<text x="194" y="435.7" font-size="10.5" fill="#000" stroke="#000" stroke-width="0.3">Dy<tspan font-weight="bold" stroke-width="0" font-size="9.5" dy="-5.5">3+</tspan></text>
<text x="224.8" y="440.7" font-size="10.5" fill="#000" stroke="#000" stroke-width="0.3">Eu<tspan font-weight="bold" stroke-width="0" font-size="9.5" dy="-5.5">3+</tspan></text>
<rect x="176.4" y="242.5" width="101.60" height="96.30" fill="#fff" stroke="#000" stroke-width="1.1"/>
<line x1="183.20" y1="338.80" x2="183.20" y2="340.80" stroke="#000" stroke-width="0.8"/>
<text x="183.20" y="346.40" font-size="5.3" font-weight="bold" fill="#000" stroke="#000" stroke-width="0.1" text-anchor="middle" >0</text>
<line x1="197.52" y1="338.80" x2="197.52" y2="340.80" stroke="#000" stroke-width="0.8"/>
<text x="197.52" y="346.40" font-size="5.3" font-weight="bold" fill="#000" stroke="#000" stroke-width="0.1" text-anchor="middle" >1</text>
<line x1="211.84" y1="338.80" x2="211.84" y2="340.80" stroke="#000" stroke-width="0.8"/>
<text x="211.84" y="346.40" font-size="5.3" font-weight="bold" fill="#000" stroke="#000" stroke-width="0.1" text-anchor="middle" >2</text>
<line x1="226.16" y1="338.80" x2="226.16" y2="340.80" stroke="#000" stroke-width="0.8"/>
<text x="226.16" y="346.40" font-size="5.3" font-weight="bold" fill="#000" stroke="#000" stroke-width="0.1" text-anchor="middle" >3</text>
<line x1="240.48" y1="338.80" x2="240.48" y2="340.80" stroke="#000" stroke-width="0.8"/>
<text x="240.48" y="346.40" font-size="5.3" font-weight="bold" fill="#000" stroke="#000" stroke-width="0.1" text-anchor="middle" >4</text>
<line x1="254.80" y1="338.80" x2="254.80" y2="340.80" stroke="#000" stroke-width="0.8"/>
<text x="254.80" y="346.40" font-size="5.3" font-weight="bold" fill="#000" stroke="#000" stroke-width="0.1" text-anchor="middle" >5</text>
<line x1="269.12" y1="338.80" x2="269.12" y2="340.80" stroke="#000" stroke-width="0.8"/>
<text x="269.12" y="346.40" font-size="5.3" font-weight="bold" fill="#000" stroke="#000" stroke-width="0.1" text-anchor="middle" >6</text>
<line x1="190.36" y1="338.80" x2="190.36" y2="340.00" stroke="#000" stroke-width="0.7"/>
<line x1="204.68" y1="338.80" x2="204.68" y2="340.00" stroke="#000" stroke-width="0.7"/>
<line x1="219.00" y1="338.80" x2="219.00" y2="340.00" stroke="#000" stroke-width="0.7"/>
<line x1="233.32" y1="338.80" x2="233.32" y2="340.00" stroke="#000" stroke-width="0.7"/>
<line x1="247.64" y1="338.80" x2="247.64" y2="340.00" stroke="#000" stroke-width="0.7"/>
<line x1="261.96" y1="338.80" x2="261.96" y2="340.00" stroke="#000" stroke-width="0.7"/>
<line x1="174.40" y1="328.70" x2="176.40" y2="328.70" stroke="#000" stroke-width="0.8"/>
<text x="173.60" y="330.61" font-size="5.3" font-weight="bold" fill="#000" stroke="#000" stroke-width="0.1" text-anchor="end" >0</text>
<line x1="174.40" y1="309.55" x2="176.40" y2="309.55" stroke="#000" stroke-width="0.8"/>
<text x="173.60" y="311.46" font-size="5.3" font-weight="bold" fill="#000" stroke="#000" stroke-width="0.1" text-anchor="end" >10</text>
<line x1="174.40" y1="290.40" x2="176.40" y2="290.40" stroke="#000" stroke-width="0.8"/>
<text x="173.60" y="292.31" font-size="5.3" font-weight="bold" fill="#000" stroke="#000" stroke-width="0.1" text-anchor="end" >20</text>
<line x1="174.40" y1="271.25" x2="176.40" y2="271.25" stroke="#000" stroke-width="0.8"/>
<text x="173.60" y="273.16" font-size="5.3" font-weight="bold" fill="#000" stroke="#000" stroke-width="0.1" text-anchor="end" >30</text>
<line x1="174.40" y1="252.10" x2="176.40" y2="252.10" stroke="#000" stroke-width="0.8"/>
<text x="173.60" y="254.01" font-size="5.3" font-weight="bold" fill="#000" stroke="#000" stroke-width="0.1" text-anchor="end" >40</text>
<line x1="175.20" y1="319.12" x2="176.40" y2="319.12" stroke="#000" stroke-width="0.7"/>
<line x1="175.20" y1="299.97" x2="176.40" y2="299.97" stroke="#000" stroke-width="0.7"/>
<line x1="175.20" y1="280.82" x2="176.40" y2="280.82" stroke="#000" stroke-width="0.7"/>
<line x1="175.20" y1="261.67" x2="176.40" y2="261.67" stroke="#000" stroke-width="0.7"/>
<text x="0.00" y="0.00" font-size="5.6" font-weight="bold" fill="#000" stroke="#000" stroke-width="0.1"  transform="translate(166.4,292.3) rotate(-90)" text-anchor="middle" textLength="59" lengthAdjust="spacingAndGlyphs">Intensity (arb. units)</text>
<text x="182.7" y="352.6" font-size="5.6" font-weight="bold" fill="#000" textLength="86" lengthAdjust="spacingAndGlyphs">Concentartion of Eu<tspan font-size="4.5" dy="-2.5">3+</tspan><tspan dy="2.5"> ion (mole %)</tspan></text>
<polyline points="183.2,328.7 197.5,305.7 211.8,250.2 226.2,301.9 240.5,321.0 254.8,323.0 269.1,324.9" fill="none" stroke="#111" stroke-width="1.2" stroke-linejoin="round" />
<circle cx="183.2" cy="328.7" r="2.1" fill="#d050d4" stroke="#b03ab8" stroke-width="0.4"/>
<circle cx="197.5" cy="305.7" r="2.1" fill="#d050d4" stroke="#b03ab8" stroke-width="0.4"/>
<circle cx="211.8" cy="250.2" r="2.1" fill="#d050d4" stroke="#b03ab8" stroke-width="0.4"/>
<circle cx="226.2" cy="301.9" r="2.1" fill="#d050d4" stroke="#b03ab8" stroke-width="0.4"/>
<circle cx="240.5" cy="321.0" r="2.1" fill="#d050d4" stroke="#b03ab8" stroke-width="0.4"/>
<circle cx="254.8" cy="323.0" r="2.1" fill="#d050d4" stroke="#b03ab8" stroke-width="0.4"/>
<circle cx="269.1" cy="324.9" r="2.1" fill="#d050d4" stroke="#b03ab8" stroke-width="0.4"/>
<line x1="224.00" y1="357.00" x2="244.50" y2="357.00" stroke="#6c1cc4" stroke-width="1.3"/>
<text x="246.10" y="359.60" font-size="7" font-weight="bold" fill="#000" stroke="#000" stroke-width="0.1" text-anchor="start" >0 mole%</text>
<line x1="224.00" y1="368.35" x2="244.50" y2="368.35" stroke="#000000" stroke-width="1.3"/>
<text x="246.10" y="370.95" font-size="7" font-weight="bold" fill="#000" stroke="#000" stroke-width="0.1" text-anchor="start" >1 mole%</text>
<line x1="224.00" y1="379.70" x2="244.50" y2="379.70" stroke="#b02828" stroke-width="1.3"/>
<text x="246.10" y="382.30" font-size="7" font-weight="bold" fill="#000" stroke="#000" stroke-width="0.1" text-anchor="start" >2 mole%</text>
<line x1="224.00" y1="391.05" x2="244.50" y2="391.05" stroke="#1c2aa0" stroke-width="1.3"/>
<text x="246.10" y="393.65" font-size="7" font-weight="bold" fill="#000" stroke="#000" stroke-width="0.1" text-anchor="start" >3 mole%</text>
<line x1="224.00" y1="402.40" x2="244.50" y2="402.40" stroke="#c83cd0" stroke-width="1.3"/>
<text x="246.10" y="405.00" font-size="7" font-weight="bold" fill="#000" stroke="#000" stroke-width="0.1" text-anchor="start" >4 mole%</text>
<line x1="224.00" y1="413.75" x2="244.50" y2="413.75" stroke="#161650" stroke-width="1.3"/>
<text x="246.10" y="416.35" font-size="7" font-weight="bold" fill="#000" stroke="#000" stroke-width="0.1" text-anchor="start" >5 mole%</text>
<line x1="224.00" y1="425.10" x2="244.50" y2="425.10" stroke="#1f8028" stroke-width="1.3"/>
<text x="246.10" y="427.70" font-size="7" font-weight="bold" fill="#000" stroke="#000" stroke-width="0.1" text-anchor="start" >6 mole%</text>
<rect x="320.80" y="101.50" width="270.20" height="231.00" fill="none" stroke="#000" stroke-width="1.7"/>
<line x1="320.80" y1="332.50" x2="320.80" y2="337.50" stroke="#000" stroke-width="1.7"/>
<text x="320.80" y="350.00" font-size="12.3" font-weight="bold" fill="#000" stroke="#000" stroke-width="0.22" text-anchor="middle" >450</text>
<line x1="365.83" y1="332.50" x2="365.83" y2="337.50" stroke="#000" stroke-width="1.7"/>
<text x="365.83" y="350.00" font-size="12.3" font-weight="bold" fill="#000" stroke="#000" stroke-width="0.22" text-anchor="middle" >500</text>
<line x1="410.87" y1="332.50" x2="410.87" y2="337.50" stroke="#000" stroke-width="1.7"/>
<text x="410.87" y="350.00" font-size="12.3" font-weight="bold" fill="#000" stroke="#000" stroke-width="0.22" text-anchor="middle" >550</text>
<line x1="455.90" y1="332.50" x2="455.90" y2="337.50" stroke="#000" stroke-width="1.7"/>
<text x="455.90" y="350.00" font-size="12.3" font-weight="bold" fill="#000" stroke="#000" stroke-width="0.22" text-anchor="middle" >600</text>
<line x1="500.93" y1="332.50" x2="500.93" y2="337.50" stroke="#000" stroke-width="1.7"/>
<text x="500.93" y="350.00" font-size="12.3" font-weight="bold" fill="#000" stroke="#000" stroke-width="0.22" text-anchor="middle" >650</text>
<line x1="545.97" y1="332.50" x2="545.97" y2="337.50" stroke="#000" stroke-width="1.7"/>
<text x="545.97" y="350.00" font-size="12.3" font-weight="bold" fill="#000" stroke="#000" stroke-width="0.22" text-anchor="middle" >700</text>
<line x1="591.00" y1="332.50" x2="591.00" y2="337.50" stroke="#000" stroke-width="1.7"/>
<text x="591.00" y="350.00" font-size="12.3" font-weight="bold" fill="#000" stroke="#000" stroke-width="0.22" text-anchor="middle" >750</text>
<line x1="343.32" y1="332.50" x2="343.32" y2="335.50" stroke="#000" stroke-width="1.7"/>
<line x1="388.35" y1="332.50" x2="388.35" y2="335.50" stroke="#000" stroke-width="1.7"/>
<line x1="433.38" y1="332.50" x2="433.38" y2="335.50" stroke="#000" stroke-width="1.7"/>
<line x1="478.42" y1="332.50" x2="478.42" y2="335.50" stroke="#000" stroke-width="1.7"/>
<line x1="523.45" y1="332.50" x2="523.45" y2="335.50" stroke="#000" stroke-width="1.7"/>
<line x1="568.48" y1="332.50" x2="568.48" y2="335.50" stroke="#000" stroke-width="1.7"/>
<line x1="315.80" y1="332.50" x2="320.80" y2="332.50" stroke="#000" stroke-width="1.7"/>
<text x="314.00" y="336.93" font-size="12.3" font-weight="bold" fill="#000" stroke="#000" stroke-width="0.22" text-anchor="end" >0</text>
<line x1="315.80" y1="306.83" x2="320.80" y2="306.83" stroke="#000" stroke-width="1.7"/>
<text x="314.00" y="311.26" font-size="12.3" font-weight="bold" fill="#000" stroke="#000" stroke-width="0.22" text-anchor="end" >2</text>
<line x1="315.80" y1="281.17" x2="320.80" y2="281.17" stroke="#000" stroke-width="1.7"/>
<text x="314.00" y="285.59" font-size="12.3" font-weight="bold" fill="#000" stroke="#000" stroke-width="0.22" text-anchor="end" >4</text>
<line x1="315.80" y1="255.50" x2="320.80" y2="255.50" stroke="#000" stroke-width="1.7"/>
<text x="314.00" y="259.93" font-size="12.3" font-weight="bold" fill="#000" stroke="#000" stroke-width="0.22" text-anchor="end" >6</text>
<line x1="315.80" y1="229.83" x2="320.80" y2="229.83" stroke="#000" stroke-width="1.7"/>
<text x="314.00" y="234.26" font-size="12.3" font-weight="bold" fill="#000" stroke="#000" stroke-width="0.22" text-anchor="end" >8</text>
<line x1="315.80" y1="204.17" x2="320.80" y2="204.17" stroke="#000" stroke-width="1.7"/>
<text x="314.00" y="208.59" font-size="12.3" font-weight="bold" fill="#000" stroke="#000" stroke-width="0.22" text-anchor="end" >10</text>
<line x1="315.80" y1="178.50" x2="320.80" y2="178.50" stroke="#000" stroke-width="1.7"/>
<text x="314.00" y="182.93" font-size="12.3" font-weight="bold" fill="#000" stroke="#000" stroke-width="0.22" text-anchor="end" >12</text>
<line x1="315.80" y1="152.83" x2="320.80" y2="152.83" stroke="#000" stroke-width="1.7"/>
<text x="314.00" y="157.26" font-size="12.3" font-weight="bold" fill="#000" stroke="#000" stroke-width="0.22" text-anchor="end" >14</text>
<line x1="315.80" y1="127.17" x2="320.80" y2="127.17" stroke="#000" stroke-width="1.7"/>
<text x="314.00" y="131.59" font-size="12.3" font-weight="bold" fill="#000" stroke="#000" stroke-width="0.22" text-anchor="end" >16</text>
<line x1="315.80" y1="101.50" x2="320.80" y2="101.50" stroke="#000" stroke-width="1.7"/>
<text x="314.00" y="105.93" font-size="12.3" font-weight="bold" fill="#000" stroke="#000" stroke-width="0.22" text-anchor="end" >18</text>
<line x1="317.80" y1="319.67" x2="320.80" y2="319.67" stroke="#000" stroke-width="1.7"/>
<line x1="317.80" y1="294.00" x2="320.80" y2="294.00" stroke="#000" stroke-width="1.7"/>
<line x1="317.80" y1="268.33" x2="320.80" y2="268.33" stroke="#000" stroke-width="1.7"/>
<line x1="317.80" y1="242.67" x2="320.80" y2="242.67" stroke="#000" stroke-width="1.7"/>
<line x1="317.80" y1="217.00" x2="320.80" y2="217.00" stroke="#000" stroke-width="1.7"/>
<line x1="317.80" y1="191.33" x2="320.80" y2="191.33" stroke="#000" stroke-width="1.7"/>
<line x1="317.80" y1="165.67" x2="320.80" y2="165.67" stroke="#000" stroke-width="1.7"/>
<line x1="317.80" y1="140.00" x2="320.80" y2="140.00" stroke="#000" stroke-width="1.7"/>
<line x1="317.80" y1="114.33" x2="320.80" y2="114.33" stroke="#000" stroke-width="1.7"/>
<polyline points="320.8,332.2 321.3,326.0 321.9,327.9 322.4,327.2 323.0,329.4 323.5,330.6 324.0,326.5 324.6,331.0 325.1,326.5 325.7,332.2 326.2,331.0 326.7,332.2 327.3,325.4 327.8,332.2 328.4,331.5 328.9,327.1 329.4,327.9 330.0,323.4 330.5,324.0 331.1,327.0 331.6,326.8 332.1,332.2 332.7,330.5 333.2,329.1 333.8,328.5 334.3,331.0 334.9,329.6 335.4,328.4 335.9,322.8 336.5,324.0 337.0,323.9 337.6,321.1 338.1,317.0 338.6,316.0 339.2,310.5 339.7,308.8 340.3,297.0 340.8,290.8 341.3,287.3 341.9,279.0 342.4,275.8 343.0,263.1 343.5,263.1 344.0,256.2 344.6,248.9 345.1,244.7 345.7,245.2 346.2,241.5 346.7,239.9 347.3,240.4 347.8,242.0 348.4,240.4 348.9,251.2 349.4,238.8 350.0,245.6 350.5,242.8 351.1,240.0 351.6,249.5 352.1,248.1 352.7,251.2 353.2,257.7 353.8,257.8 354.3,261.7 354.8,273.3 355.4,277.9 355.9,283.9 356.5,290.8 357.0,295.6 357.5,303.5 358.1,307.2 358.6,311.2 359.2,316.0 359.7,321.0 360.2,324.2 360.8,324.8 361.3,326.8 361.9,325.7 362.4,326.5 363.0,327.7 363.5,327.9 364.0,327.7 364.6,324.2 365.1,325.4 365.7,330.0 366.2,327.6 366.7,329.4 367.3,328.9 367.8,329.3 368.4,330.2 368.9,332.0 369.4,332.2 370.0,328.1 370.5,325.9 371.1,331.0 371.6,327.7 372.1,329.6 372.7,327.9 373.2,330.6 373.8,329.3 374.3,328.9 374.8,332.2 375.4,328.2 375.9,329.2 376.5,332.2 377.0,327.1 377.5,328.7 378.1,328.0 378.6,327.9 379.2,329.7 379.7,331.3 380.2,329.9 380.8,329.9 381.3,323.3 381.9,324.3 382.4,329.9 382.9,329.7 383.5,327.9 384.0,327.3 384.6,330.4 385.1,331.3 385.6,323.8 386.2,326.3 386.7,332.2 387.3,332.2 387.8,330.8 388.4,328.3 388.9,327.3 389.4,329.6 390.0,332.2 390.5,328.1 391.1,327.2 391.6,328.7 392.1,329.9 392.7,327.3 393.2,329.0 393.8,331.5 394.3,328.4 394.8,331.9 395.4,326.3 395.9,327.6 396.5,331.2 397.0,328.3 397.5,325.7 398.1,332.2 398.6,329.1 399.2,324.6 399.7,332.2 400.2,329.1 400.8,332.2 401.3,328.6 401.9,332.2 402.4,332.2 402.9,330.0 403.5,328.3 404.0,328.0 404.6,327.6 405.1,325.8 405.6,327.1 406.2,326.8 406.7,331.2 407.3,329.2 407.8,320.8 408.3,323.1 408.9,326.8 409.4,326.6 410.0,326.3 410.5,329.8 411.0,323.6 411.6,329.5 412.1,328.6 412.7,323.0 413.2,332.2 413.7,327.2 414.3,332.2 414.8,329.1 415.4,327.2 415.9,326.9 416.5,325.0 417.0,326.1 417.5,322.8 418.1,323.1 418.6,318.5 419.2,317.4 419.7,309.3 420.2,308.4 420.8,298.0 421.3,294.2 421.9,285.9 422.4,276.6 422.9,269.8 423.5,265.4 424.0,253.1 424.6,248.7 425.1,227.2 425.6,224.3 426.2,215.0 426.7,205.9 427.3,201.7 427.8,190.7 428.3,190.0 428.9,174.4 429.4,175.0 430.0,184.0 430.5,177.4 431.0,176.5 431.6,182.6 432.1,178.4 432.7,185.3 433.2,190.9 433.7,179.0 434.3,192.7 434.8,186.0 435.4,191.2 435.9,181.4 436.4,183.4 437.0,189.7 437.5,197.3 438.1,191.8 438.6,193.1 439.1,202.9 439.7,207.6 440.2,210.7 440.8,219.2 441.3,221.0 441.8,240.8 442.4,249.7 442.9,251.3 443.5,259.4 444.0,270.3 444.6,274.0 445.1,283.6 445.6,296.7 446.2,302.4 446.7,303.9 447.3,311.1 447.8,310.0 448.3,317.3 448.9,317.0 449.4,322.8 450.0,321.1 450.5,322.9 451.0,321.4 451.6,321.0 452.1,325.3 452.7,328.0 453.2,321.7 453.7,326.4 454.3,326.1 454.8,326.2 455.4,324.5 455.9,325.8 456.4,326.7 457.0,326.6 457.5,330.7 458.1,329.9 458.6,328.5 459.1,327.6 459.7,327.5 460.2,325.9 460.8,325.5 461.3,324.9 461.8,325.6 462.4,316.3 462.9,312.8 463.5,310.7 464.0,302.0 464.5,297.0 465.1,288.6 465.6,284.9 466.2,277.1 466.7,268.2 467.2,257.9 467.8,257.6 468.3,249.9 468.9,250.1 469.4,249.1 470.0,248.4 470.5,258.7 471.0,259.0 471.6,252.8 472.1,256.2 472.7,258.9 473.2,260.6 473.7,262.2 474.3,275.4 474.8,269.3 475.4,268.8 475.9,274.9 476.4,277.5 477.0,277.3 477.5,282.1 478.1,290.1 478.6,290.9 479.1,295.9 479.7,296.8 480.2,306.2 480.8,302.2 481.3,313.3 481.8,312.5 482.4,319.9 482.9,320.4 483.5,319.1 484.0,320.7 484.5,322.0 485.1,326.7 485.6,327.1 486.2,327.1 486.7,326.4 487.2,329.5 487.8,325.6 488.3,327.7 488.9,325.8 489.4,327.5 489.9,327.1 490.5,330.7 491.0,329.8 491.6,332.0 492.1,329.5 492.6,329.1 493.2,326.5 493.7,332.0 494.3,320.2 494.8,328.9 495.3,325.5 495.9,325.8 496.4,332.2 497.0,329.2 497.5,324.6 498.1,332.2 498.6,326.6 499.1,330.6 499.7,329.5 500.2,327.7 500.8,332.2 501.3,327.3 501.8,329.5 502.4,329.4 502.9,325.3 503.5,317.7 504.0,326.1 504.5,324.9 505.1,326.2 505.6,327.8 506.2,324.7 506.7,321.4 507.2,324.3 507.8,321.7 508.3,324.5 508.9,317.1 509.4,327.6 509.9,321.7 510.5,321.5 511.0,322.6 511.6,325.9 512.1,325.7 512.6,323.8 513.2,323.0 513.7,326.2 514.3,325.9 514.8,322.5 515.3,321.6 515.9,325.7 516.4,326.5 517.0,327.1 517.5,319.0 518.0,324.5 518.6,326.3 519.1,323.4 519.7,320.7 520.2,323.9 520.7,330.8 521.3,327.4 521.8,328.6 522.4,328.9 522.9,331.1 523.5,329.2 524.0,331.1 524.5,327.5 525.1,328.3 525.6,332.2 526.2,332.2 526.7,329.8 527.2,327.1 527.8,327.3 528.3,328.9 528.9,332.2 529.4,330.2 529.9,330.5 530.5,329.8 531.0,332.0 531.6,329.8 532.1,330.5 532.6,321.8 533.2,327.1 533.7,329.3 534.3,328.8 534.8,329.0 535.3,328.2 535.9,329.7 536.4,328.6 537.0,326.0 537.5,326.4 538.0,327.3 538.6,324.9 539.1,327.3 539.7,330.3 540.2,331.8 540.7,329.1 541.3,326.9 541.8,325.4 542.4,323.3 542.9,327.0 543.4,327.4 544.0,322.9 544.5,321.6 545.1,325.5 545.6,323.4 546.1,321.0 546.7,323.6 547.2,324.7 547.8,330.3 548.3,321.5 548.8,323.8 549.4,325.4 549.9,327.6 550.5,330.0 551.0,327.2 551.6,327.9 552.1,324.8 552.6,331.0 553.2,324.5 553.7,328.2 554.3,325.5 554.8,331.0 555.3,327.8 555.9,325.6 556.4,328.3 557.0,332.2 557.5,329.8 558.0,327.3 558.6,332.2 559.1,332.2 559.7,328.1 560.2,331.1 560.7,327.0 561.3,331.6 561.8,332.2 562.4,330.7 562.9,325.0 563.4,331.0 564.0,328.6 564.5,328.1 565.1,331.2 565.6,326.1 566.1,328.3 566.7,327.7 567.2,332.2 567.8,332.2 568.3,332.2 568.8,329.3 569.4,329.2 569.9,327.0 570.5,324.9 571.0,329.1 571.5,329.4 572.1,327.7 572.6,324.8 573.2,330.8 573.7,327.1 574.2,329.6 574.8,329.6 575.3,326.8 575.9,330.6 576.4,331.5 576.9,327.1 577.5,328.7 578.0,329.4 578.6,329.2 579.1,327.3 579.7,329.7 580.2,326.9 580.7,327.5 581.3,324.8 581.8,325.4 582.4,326.5 582.9,329.3 583.4,328.3 584.0,330.1 584.5,321.3 585.1,329.2 585.6,327.4 586.1,325.1 586.7,332.1 587.2,331.0 587.8,329.9 588.3,331.4 588.8,332.0 589.4,330.0 589.9,325.4 590.5,326.9 591.0,328.7" fill="none" stroke="#000000" stroke-width="2.4" stroke-linejoin="round" />
<polyline points="320.8,328.3 321.3,326.9 321.9,327.2 322.4,328.5 323.0,327.8 323.5,329.6 324.0,326.5 324.6,329.8 325.1,324.1 325.7,328.7 326.2,327.8 326.7,330.5 327.3,329.3 327.8,327.9 328.4,328.5 328.9,330.3 329.4,331.4 330.0,328.3 330.5,328.2 331.1,327.0 331.6,325.2 332.1,329.3 332.7,332.2 333.2,328.3 333.8,332.2 334.3,330.9 334.9,324.5 335.4,325.1 335.9,327.1 336.5,326.2 337.0,322.6 337.6,325.1 338.1,317.6 338.6,314.9 339.2,305.9 339.7,309.0 340.3,297.7 340.8,300.2 341.3,288.1 341.9,289.7 342.4,277.6 343.0,270.6 343.5,265.7 344.0,261.8 344.6,257.3 345.1,250.3 345.7,247.1 346.2,246.7 346.7,252.8 347.3,250.8 347.8,250.2 348.4,252.8 348.9,242.6 349.4,254.0 350.0,251.7 350.5,249.2 351.1,248.1 351.6,245.2 352.1,251.2 352.7,253.5 353.2,254.9 353.8,266.0 354.3,273.3 354.8,282.0 355.4,285.1 355.9,286.7 356.5,292.3 357.0,298.6 357.5,305.8 358.1,311.3 358.6,317.5 359.2,317.3 359.7,317.0 360.2,327.9 360.8,329.2 361.3,321.8 361.9,330.3 362.4,325.9 363.0,330.4 363.5,325.8 364.0,325.9 364.6,327.6 365.1,326.3 365.7,328.3 366.2,326.9 366.7,323.8 367.3,325.4 367.8,330.1 368.4,330.5 368.9,329.2 369.4,329.0 370.0,328.2 370.5,330.1 371.1,326.8 371.6,328.5 372.1,327.6 372.7,328.4 373.2,326.8 373.8,331.5 374.3,324.3 374.8,327.6 375.4,327.4 375.9,326.8 376.5,325.6 377.0,326.7 377.5,327.8 378.1,328.8 378.6,332.2 379.2,327.9 379.7,329.3 380.2,329.2 380.8,322.1 381.3,332.2 381.9,328.4 382.4,325.3 382.9,326.1 383.5,325.3 384.0,331.7 384.6,330.8 385.1,326.9 385.6,329.1 386.2,323.8 386.7,327.9 387.3,328.0 387.8,327.3 388.4,329.2 388.9,328.1 389.4,330.2 390.0,328.5 390.5,329.7 391.1,328.0 391.6,332.1 392.1,332.2 392.7,327.1 393.2,327.9 393.8,331.0 394.3,328.9 394.8,331.2 395.4,323.2 395.9,332.2 396.5,324.0 397.0,330.5 397.5,327.5 398.1,329.0 398.6,329.4 399.2,326.1 399.7,326.1 400.2,329.1 400.8,330.9 401.3,323.2 401.9,324.8 402.4,328.1 402.9,329.4 403.5,327.6 404.0,328.1 404.6,325.3 405.1,330.9 405.6,328.3 406.2,330.4 406.7,325.2 407.3,323.8 407.8,328.7 408.3,327.0 408.9,324.8 409.4,329.3 410.0,330.8 410.5,325.5 411.0,327.1 411.6,328.8 412.1,324.6 412.7,327.4 413.2,332.2 413.7,327.0 414.3,327.9 414.8,322.5 415.4,326.8 415.9,326.7 416.5,324.5 417.0,323.4 417.5,326.5 418.1,321.0 418.6,319.5 419.2,312.4 419.7,306.3 420.2,311.1 420.8,305.3 421.3,299.5 421.9,293.8 422.4,283.9 422.9,278.5 423.5,265.3 424.0,263.6 424.6,255.4 425.1,248.5 425.6,230.4 426.2,226.3 426.7,228.2 427.3,218.4 427.8,218.6 428.3,204.8 428.9,200.0 429.4,201.9 430.0,193.7 430.5,195.9 431.0,200.1 431.6,196.3 432.1,196.4 432.7,205.9 433.2,204.2 433.7,203.6 434.3,201.0 434.8,194.2 435.4,207.8 435.9,208.2 436.4,198.4 437.0,201.7 437.5,211.7 438.1,207.9 438.6,209.2 439.1,222.8 439.7,226.9 440.2,232.1 440.8,233.5 441.3,238.2 441.8,250.4 442.4,254.4 442.9,263.0 443.5,272.0 444.0,283.1 444.6,280.9 445.1,293.0 445.6,291.9 446.2,298.6 446.7,307.9 447.3,311.0 447.8,308.4 448.3,312.8 448.9,317.5 449.4,318.6 450.0,319.9 450.5,323.8 451.0,323.5 451.6,325.6 452.1,326.1 452.7,324.2 453.2,329.0 453.7,324.9 454.3,327.2 454.8,325.5 455.4,325.5 455.9,325.0 456.4,326.6 457.0,326.6 457.5,328.8 458.1,326.8 458.6,330.3 459.1,328.9 459.7,325.9 460.2,327.9 460.8,326.0 461.3,329.0 461.8,321.7 462.4,325.2 462.9,320.8 463.5,319.1 464.0,313.3 464.5,314.6 465.1,313.7 465.6,311.3 466.2,304.4 466.7,302.7 467.2,295.8 467.8,289.8 468.3,295.6 468.9,294.1 469.4,293.9 470.0,292.1 470.5,297.3 471.0,298.3 471.6,299.8 472.1,302.7 472.7,302.4 473.2,307.3 473.7,314.2 474.3,313.9 474.8,312.7 475.4,316.0 475.9,315.7 476.4,318.2 477.0,318.0 477.5,315.9 478.1,319.9 478.6,323.5 479.1,324.1 479.7,322.9 480.2,318.8 480.8,324.5 481.3,322.4 481.8,325.4 482.4,332.2 482.9,326.8 483.5,330.0 484.0,331.5 484.5,330.8 485.1,323.5 485.6,332.2 486.2,329.8 486.7,325.4 487.2,326.6 487.8,332.2 488.3,328.7 488.9,329.8 489.4,328.9 489.9,326.4 490.5,330.1 491.0,329.2 491.6,324.7 492.1,332.2 492.6,329.3 493.2,327.2 493.7,331.6 494.3,330.1 494.8,331.7 495.3,328.0 495.9,329.9 496.4,326.4 497.0,325.5 497.5,328.2 498.1,329.0 498.6,327.5 499.1,327.8 499.7,331.1 500.2,325.0 500.8,327.1 501.3,325.3 501.8,330.8 502.4,324.8 502.9,321.2 503.5,325.1 504.0,329.9 504.5,325.9 505.1,326.1 505.6,324.7 506.2,325.7 506.7,323.1 507.2,325.6 507.8,323.4 508.3,325.4 508.9,323.6 509.4,320.5 509.9,324.5 510.5,320.7 511.0,324.6 511.6,323.6 512.1,323.7 512.6,319.5 513.2,324.8 513.7,319.7 514.3,327.1 514.8,324.2 515.3,321.5 515.9,322.5 516.4,326.7 517.0,328.1 517.5,323.0 518.0,328.8 518.6,324.5 519.1,327.6 519.7,326.5 520.2,320.8 520.7,323.0 521.3,324.9 521.8,330.9 522.4,326.9 522.9,327.7 523.5,328.1 524.0,324.6 524.5,332.2 525.1,327.3 525.6,327.8 526.2,330.2 526.7,323.8 527.2,331.7 527.8,328.3 528.3,328.3 528.9,332.2 529.4,332.1 529.9,331.0 530.5,326.3 531.0,326.0 531.6,326.9 532.1,327.8 532.6,332.2 533.2,328.0 533.7,329.8 534.3,325.3 534.8,325.0 535.3,322.6 535.9,326.6 536.4,326.1 537.0,330.7 537.5,328.1 538.0,331.2 538.6,325.6 539.1,330.8 539.7,328.0 540.2,329.5 540.7,328.0 541.3,325.3 541.8,327.8 542.4,324.9 542.9,327.8 543.4,321.1 544.0,326.6 544.5,321.7 545.1,318.6 545.6,330.2 546.1,326.3 546.7,325.0 547.2,321.2 547.8,325.8 548.3,323.6 548.8,327.1 549.4,324.3 549.9,329.2 550.5,324.4 551.0,332.2 551.6,332.0 552.1,322.7 552.6,327.2 553.2,330.4 553.7,322.0 554.3,325.3 554.8,325.2 555.3,329.5 555.9,327.0 556.4,327.2 557.0,332.2 557.5,326.7 558.0,328.8 558.6,325.1 559.1,324.9 559.7,330.0 560.2,330.0 560.7,327.8 561.3,326.7 561.8,329.6 562.4,328.9 562.9,326.9 563.4,327.3 564.0,325.6 564.5,328.0 565.1,330.7 565.6,332.2 566.1,326.2 566.7,329.4 567.2,329.3 567.8,329.0 568.3,332.2 568.8,329.6 569.4,332.2 569.9,329.6 570.5,330.8 571.0,323.6 571.5,327.2 572.1,328.9 572.6,328.0 573.2,326.6 573.7,330.5 574.2,329.1 574.8,329.3 575.3,321.9 575.9,328.1 576.4,332.2 576.9,326.3 577.5,321.5 578.0,330.9 578.6,319.3 579.1,328.7 579.7,325.9 580.2,330.0 580.7,329.2 581.3,331.8 581.8,331.4 582.4,332.2 582.9,325.4 583.4,331.4 584.0,327.6 584.5,327.7 585.1,330.4 585.6,328.4 586.1,328.4 586.7,329.8 587.2,328.4 587.8,328.4 588.3,331.3 588.8,332.1 589.4,330.7 589.9,328.2 590.5,324.7 591.0,324.8" fill="none" stroke="#c0282d" stroke-width="1.8" stroke-linejoin="round" />
<polyline points="320.8,327.4 321.3,325.0 321.9,332.2 322.4,326.9 323.0,332.2 323.5,327.4 324.0,324.8 324.6,328.6 325.1,327.8 325.7,330.5 326.2,327.9 326.7,325.8 327.3,329.1 327.8,329.0 328.4,327.5 328.9,326.5 329.4,332.2 330.0,328.5 330.5,330.4 331.1,327.3 331.6,326.0 332.1,327.7 332.7,325.0 333.2,330.7 333.8,328.9 334.3,330.1 334.9,326.7 335.4,326.2 335.9,325.7 336.5,327.1 337.0,322.7 337.6,320.7 338.1,316.0 338.6,314.6 339.2,305.9 339.7,302.6 340.3,302.4 340.8,295.8 341.3,290.3 341.9,277.1 342.4,264.8 343.0,262.9 343.5,257.4 344.0,258.7 344.6,253.0 345.1,248.4 345.7,241.9 346.2,242.6 346.7,239.4 347.3,236.8 347.8,237.1 348.4,235.5 348.9,232.4 349.4,237.5 350.0,238.7 350.5,239.1 351.1,241.8 351.6,237.0 352.1,239.9 352.7,244.9 353.2,252.5 353.8,250.3 354.3,258.1 354.8,266.3 355.4,272.0 355.9,280.6 356.5,292.5 357.0,293.6 357.5,304.3 358.1,304.5 358.6,316.6 359.2,314.9 359.7,317.1 360.2,325.5 360.8,318.5 361.3,327.6 361.9,323.5 362.4,328.1 363.0,326.6 363.5,329.4 364.0,321.5 364.6,325.6 365.1,323.6 365.7,326.5 366.2,326.6 366.7,328.2 367.3,329.1 367.8,327.0 368.4,328.2 368.9,329.0 369.4,332.1 370.0,329.6 370.5,327.0 371.1,329.8 371.6,327.8 372.1,329.1 372.7,331.2 373.2,331.0 373.8,330.6 374.3,329.2 374.8,329.4 375.4,325.7 375.9,331.7 376.5,332.2 377.0,326.9 377.5,329.6 378.1,328.8 378.6,322.0 379.2,324.5 379.7,327.0 380.2,326.1 380.8,328.2 381.3,326.0 381.9,330.3 382.4,330.6 382.9,329.9 383.5,324.4 384.0,324.5 384.6,330.2 385.1,325.4 385.6,329.1 386.2,325.7 386.7,329.5 387.3,326.0 387.8,329.0 388.4,329.3 388.9,328.7 389.4,328.3 390.0,330.1 390.5,332.2 391.1,324.0 391.6,329.6 392.1,332.2 392.7,332.2 393.2,332.2 393.8,330.3 394.3,324.9 394.8,332.2 395.4,329.3 395.9,332.2 396.5,325.6 397.0,327.5 397.5,327.9 398.1,325.1 398.6,324.1 399.2,325.7 399.7,330.1 400.2,332.1 400.8,331.3 401.3,332.2 401.9,323.9 402.4,329.2 402.9,328.2 403.5,328.1 404.0,323.2 404.6,329.9 405.1,325.4 405.6,327.8 406.2,328.9 406.7,332.2 407.3,326.0 407.8,330.5 408.3,329.8 408.9,327.9 409.4,328.1 410.0,325.6 410.5,330.3 411.0,327.8 411.6,327.7 412.1,328.1 412.7,326.5 413.2,328.7 413.7,324.8 414.3,329.4 414.8,331.0 415.4,326.9 415.9,322.6 416.5,326.2 417.0,325.7 417.5,322.8 418.1,319.5 418.6,317.7 419.2,312.7 419.7,313.8 420.2,299.8 420.8,296.8 421.3,294.8 421.9,279.6 422.4,271.2 422.9,265.6 423.5,259.0 424.0,241.8 424.6,237.5 425.1,230.6 425.6,216.5 426.2,208.9 426.7,204.3 427.3,189.9 427.8,184.5 428.3,180.7 428.9,171.7 429.4,182.2 430.0,171.5 430.5,174.8 431.0,165.6 431.6,176.1 432.1,169.2 432.7,178.5 433.2,175.0 433.7,175.2 434.3,173.4 434.8,186.7 435.4,176.3 435.9,169.3 436.4,176.7 437.0,178.1 437.5,193.0 438.1,186.6 438.6,184.2 439.1,193.7 439.7,200.8 440.2,205.7 440.8,211.7 441.3,220.7 441.8,227.1 442.4,234.4 442.9,252.4 443.5,258.2 444.0,274.7 444.6,270.6 445.1,280.7 445.6,292.9 446.2,296.4 446.7,300.5 447.3,301.7 447.8,313.5 448.3,318.0 448.9,321.4 449.4,318.8 450.0,323.7 450.5,322.1 451.0,321.3 451.6,325.0 452.1,327.3 452.7,322.5 453.2,326.7 453.7,326.2 454.3,324.8 454.8,331.3 455.4,330.5 455.9,321.7 456.4,328.8 457.0,331.2 457.5,329.1 458.1,329.9 458.6,331.6 459.1,329.3 459.7,328.1 460.2,327.7 460.8,325.9 461.3,331.0 461.8,329.3 462.4,321.7 462.9,323.0 463.5,316.4 464.0,315.7 464.5,317.0 465.1,309.6 465.6,309.2 466.2,302.9 466.7,297.5 467.2,289.6 467.8,296.0 468.3,292.1 468.9,292.8 469.4,293.4 470.0,302.5 470.5,299.1 471.0,299.7 471.6,301.9 472.1,306.1 472.7,306.1 473.2,306.4 473.7,309.8 474.3,312.3 474.8,314.9 475.4,315.8 475.9,313.0 476.4,313.6 477.0,317.8 477.5,319.9 478.1,321.6 478.6,318.2 479.1,321.8 479.7,322.5 480.2,323.3 480.8,324.5 481.3,326.3 481.8,329.5 482.4,329.1 482.9,327.2 483.5,326.8 484.0,329.2 484.5,329.4 485.1,324.8 485.6,329.7 486.2,327.9 486.7,329.3 487.2,330.8 487.8,332.2 488.3,330.0 488.9,330.8 489.4,326.1 489.9,331.3 490.5,329.6 491.0,326.8 491.6,328.9 492.1,327.1 492.6,326.3 493.2,332.2 493.7,329.6 494.3,330.9 494.8,324.9 495.3,328.6 495.9,327.0 496.4,323.9 497.0,329.3 497.5,328.1 498.1,327.1 498.6,328.9 499.1,324.8 499.7,325.9 500.2,325.2 500.8,327.5 501.3,328.6 501.8,328.6 502.4,328.0 502.9,331.2 503.5,325.9 504.0,324.3 504.5,326.2 505.1,327.4 505.6,325.4 506.2,324.8 506.7,323.9 507.2,319.8 507.8,326.1 508.3,322.9 508.9,321.7 509.4,323.2 509.9,323.8 510.5,325.9 511.0,324.1 511.6,320.9 512.1,319.1 512.6,324.5 513.2,321.8 513.7,322.0 514.3,320.7 514.8,322.7 515.3,322.8 515.9,322.2 516.4,327.7 517.0,324.5 517.5,330.0 518.0,330.6 518.6,328.1 519.1,330.2 519.7,325.3 520.2,324.5 520.7,328.0 521.3,327.4 521.8,328.2 522.4,328.3 522.9,327.6 523.5,327.1 524.0,329.3 524.5,330.2 525.1,329.4 525.6,326.3 526.2,329.5 526.7,324.7 527.2,329.2 527.8,325.1 528.3,331.5 528.9,330.5 529.4,327.2 529.9,327.2 530.5,329.0 531.0,323.4 531.6,328.4 532.1,327.8 532.6,329.9 533.2,324.3 533.7,326.4 534.3,327.5 534.8,332.2 535.3,327.6 535.9,329.8 536.4,327.6 537.0,326.1 537.5,330.2 538.0,327.5 538.6,325.5 539.1,327.2 539.7,328.4 540.2,329.8 540.7,328.7 541.3,330.0 541.8,323.3 542.4,325.7 542.9,328.6 543.4,325.1 544.0,327.8 544.5,332.2 545.1,320.9 545.6,321.2 546.1,328.1 546.7,326.0 547.2,323.8 547.8,325.8 548.3,327.3 548.8,326.8 549.4,326.2 549.9,327.5 550.5,325.9 551.0,327.4 551.6,329.2 552.1,327.4 552.6,332.1 553.2,324.4 553.7,332.2 554.3,328.4 554.8,327.5 555.3,327.2 555.9,328.0 556.4,325.3 557.0,331.4 557.5,328.8 558.0,328.2 558.6,329.9 559.1,330.2 559.7,325.2 560.2,330.5 560.7,329.7 561.3,329.3 561.8,329.2 562.4,328.2 562.9,329.2 563.4,327.7 564.0,328.2 564.5,327.5 565.1,324.9 565.6,330.7 566.1,324.2 566.7,329.8 567.2,327.1 567.8,328.2 568.3,329.4 568.8,332.2 569.4,324.5 569.9,330.5 570.5,330.6 571.0,326.0 571.5,328.2 572.1,323.8 572.6,324.3 573.2,326.7 573.7,328.0 574.2,326.6 574.8,331.8 575.3,328.2 575.9,328.1 576.4,329.8 576.9,327.9 577.5,332.2 578.0,326.3 578.6,325.3 579.1,331.8 579.7,328.2 580.2,324.6 580.7,327.6 581.3,331.2 581.8,331.0 582.4,326.3 582.9,323.9 583.4,331.4 584.0,328.6 584.5,330.5 585.1,329.2 585.6,327.8 586.1,328.6 586.7,330.4 587.2,323.1 587.8,329.1 588.3,329.0 588.8,325.9 589.4,328.5 589.9,329.1 590.5,326.3 591.0,331.3" fill="none" stroke="#1a7a22" stroke-width="2.0" stroke-linejoin="round" />
<polyline points="320.8,329.8 321.3,332.2 321.9,331.1 322.4,330.9 323.0,326.7 323.5,325.1 324.0,329.7 324.6,329.5 325.1,327.9 325.7,330.2 326.2,329.1 326.7,326.6 327.3,327.9 327.8,328.7 328.4,330.0 328.9,324.7 329.4,330.1 330.0,328.3 330.5,331.0 331.1,329.7 331.6,328.0 332.1,329.3 332.7,326.6 333.2,327.5 333.8,331.0 334.3,332.2 334.9,324.1 335.4,327.7 335.9,322.2 336.5,324.3 337.0,325.6 337.6,320.5 338.1,321.0 338.6,317.8 339.2,317.0 339.7,308.3 340.3,302.4 340.8,304.1 341.3,291.9 341.9,293.6 342.4,284.5 343.0,284.1 343.5,276.8 344.0,264.6 344.6,260.9 345.1,257.7 345.7,269.8 346.2,257.7 346.7,261.2 347.3,264.3 347.8,267.7 348.4,268.7 348.9,270.8 349.4,268.9 350.0,266.9 350.5,260.8 351.1,266.2 351.6,262.0 352.1,262.3 352.7,260.9 353.2,265.2 353.8,268.7 354.3,276.3 354.8,285.2 355.4,287.5 355.9,290.5 356.5,301.4 357.0,305.1 357.5,308.4 358.1,308.0 358.6,316.2 359.2,320.3 359.7,318.6 360.2,319.3 360.8,322.7 361.3,322.6 361.9,325.1 362.4,326.8 363.0,328.2 363.5,328.9 364.0,329.3 364.6,326.7 365.1,328.4 365.7,327.6 366.2,326.7 366.7,328.5 367.3,331.8 367.8,330.5 368.4,331.4 368.9,332.2 369.4,328.4 370.0,331.7 370.5,331.9 371.1,331.4 371.6,326.6 372.1,329.4 372.7,326.1 373.2,328.9 373.8,329.8 374.3,327.4 374.8,326.9 375.4,328.4 375.9,331.2 376.5,329.7 377.0,331.6 377.5,329.3 378.1,328.4 378.6,324.8 379.2,324.9 379.7,326.8 380.2,326.2 380.8,328.0 381.3,321.5 381.9,324.7 382.4,321.8 382.9,327.5 383.5,327.6 384.0,325.9 384.6,328.2 385.1,327.9 385.6,331.3 386.2,326.2 386.7,328.2 387.3,326.4 387.8,329.2 388.4,332.2 388.9,327.4 389.4,325.5 390.0,331.9 390.5,331.2 391.1,329.3 391.6,329.4 392.1,332.2 392.7,324.1 393.2,326.1 393.8,330.3 394.3,332.2 394.8,327.6 395.4,323.7 395.9,326.5 396.5,325.6 397.0,330.8 397.5,328.1 398.1,332.2 398.6,323.6 399.2,327.0 399.7,332.2 400.2,332.2 400.8,327.2 401.3,328.5 401.9,329.7 402.4,327.0 402.9,323.4 403.5,327.8 404.0,332.2 404.6,329.0 405.1,332.0 405.6,330.8 406.2,327.8 406.7,329.2 407.3,331.4 407.8,328.7 408.3,330.5 408.9,327.2 409.4,329.3 410.0,327.5 410.5,329.0 411.0,326.5 411.6,328.6 412.1,328.3 412.7,329.5 413.2,327.7 413.7,332.2 414.3,320.9 414.8,328.8 415.4,326.8 415.9,327.8 416.5,326.7 417.0,323.7 417.5,324.8 418.1,323.0 418.6,323.7 419.2,320.4 419.7,317.6 420.2,306.2 420.8,309.7 421.3,302.6 421.9,295.5 422.4,284.6 422.9,286.3 423.5,279.4 424.0,268.2 424.6,258.2 425.1,250.7 425.6,246.4 426.2,234.8 426.7,227.7 427.3,221.2 427.8,218.6 428.3,218.9 428.9,214.9 429.4,213.9 430.0,213.0 430.5,223.7 431.0,223.3 431.6,222.7 432.1,223.9 432.7,232.9 433.2,236.9 433.7,234.2 434.3,232.8 434.8,233.9 435.4,234.0 435.9,227.5 436.4,225.9 437.0,232.1 437.5,232.4 438.1,229.8 438.6,226.4 439.1,227.0 439.7,222.9 440.2,226.8 440.8,232.7 441.3,233.7 441.8,247.1 442.4,255.2 442.9,258.0 443.5,270.5 444.0,278.2 444.6,288.5 445.1,288.4 445.6,293.9 446.2,303.4 446.7,306.6 447.3,310.0 447.8,312.3 448.3,314.1 448.9,316.8 449.4,318.3 450.0,324.8 450.5,322.8 451.0,327.6 451.6,319.0 452.1,321.0 452.7,323.9 453.2,323.4 453.7,321.8 454.3,325.2 454.8,332.0 455.4,328.8 455.9,332.2 456.4,330.8 457.0,331.8 457.5,328.7 458.1,327.7 458.6,331.0 459.1,329.1 459.7,327.6 460.2,328.4 460.8,328.0 461.3,332.2 461.8,326.9 462.4,322.6 462.9,322.3 463.5,324.3 464.0,318.1 464.5,315.5 465.1,315.0 465.6,307.2 466.2,307.7 466.7,302.0 467.2,299.4 467.8,293.7 468.3,296.9 468.9,300.7 469.4,294.7 470.0,299.5 470.5,300.0 471.0,309.0 471.6,302.7 472.1,307.5 472.7,312.2 473.2,307.5 473.7,313.2 474.3,314.8 474.8,317.7 475.4,320.3 475.9,318.3 476.4,321.8 477.0,316.0 477.5,317.2 478.1,321.6 478.6,325.8 479.1,323.5 479.7,326.9 480.2,324.2 480.8,325.3 481.3,327.5 481.8,327.0 482.4,324.8 482.9,323.5 483.5,329.6 484.0,326.6 484.5,329.2 485.1,331.1 485.6,325.3 486.2,327.6 486.7,328.3 487.2,327.8 487.8,329.1 488.3,331.5 488.9,324.1 489.4,326.4 489.9,328.1 490.5,326.4 491.0,325.4 491.6,329.3 492.1,327.3 492.6,329.5 493.2,327.2 493.7,329.4 494.3,322.4 494.8,329.5 495.3,327.4 495.9,327.5 496.4,329.5 497.0,326.3 497.5,329.0 498.1,329.8 498.6,328.4 499.1,330.3 499.7,325.4 500.2,326.6 500.8,325.6 501.3,331.4 501.8,327.0 502.4,329.2 502.9,327.1 503.5,323.7 504.0,326.1 504.5,326.9 505.1,323.3 505.6,323.2 506.2,320.7 506.7,329.7 507.2,323.8 507.8,325.6 508.3,325.9 508.9,323.7 509.4,326.4 509.9,328.5 510.5,325.6 511.0,323.4 511.6,317.8 512.1,324.8 512.6,326.5 513.2,327.9 513.7,324.2 514.3,324.3 514.8,323.2 515.3,328.0 515.9,326.2 516.4,330.7 517.0,324.6 517.5,329.7 518.0,332.2 518.6,323.3 519.1,325.3 519.7,325.9 520.2,326.2 520.7,329.9 521.3,324.6 521.8,330.4 522.4,323.2 522.9,327.5 523.5,332.2 524.0,326.0 524.5,323.2 525.1,329.0 525.6,325.8 526.2,329.1 526.7,330.4 527.2,332.2 527.8,325.5 528.3,329.8 528.9,327.8 529.4,331.6 529.9,331.1 530.5,325.8 531.0,329.9 531.6,329.7 532.1,331.9 532.6,328.0 533.2,326.7 533.7,329.9 534.3,329.2 534.8,331.8 535.3,325.1 535.9,330.4 536.4,329.1 537.0,324.3 537.5,329.1 538.0,332.2 538.6,330.7 539.1,329.0 539.7,323.1 540.2,326.9 540.7,327.7 541.3,324.5 541.8,322.9 542.4,328.0 542.9,322.0 543.4,323.4 544.0,323.9 544.5,330.6 545.1,324.1 545.6,320.4 546.1,324.6 546.7,318.4 547.2,324.1 547.8,327.7 548.3,323.8 548.8,324.8 549.4,323.7 549.9,326.9 550.5,323.4 551.0,328.2 551.6,327.0 552.1,330.8 552.6,329.9 553.2,327.6 553.7,330.0 554.3,329.6 554.8,329.2 555.3,327.8 555.9,326.7 556.4,326.8 557.0,326.1 557.5,328.3 558.0,329.9 558.6,332.2 559.1,329.5 559.7,330.6 560.2,332.2 560.7,324.4 561.3,332.2 561.8,327.8 562.4,327.3 562.9,329.3 563.4,322.1 564.0,328.5 564.5,330.6 565.1,324.1 565.6,330.9 566.1,332.2 566.7,331.2 567.2,330.4 567.8,328.7 568.3,327.8 568.8,332.2 569.4,328.0 569.9,322.8 570.5,330.7 571.0,329.0 571.5,326.7 572.1,325.6 572.6,330.4 573.2,331.2 573.7,331.3 574.2,325.6 574.8,326.2 575.3,332.2 575.9,332.2 576.4,331.9 576.9,332.2 577.5,327.6 578.0,328.0 578.6,323.6 579.1,326.8 579.7,328.3 580.2,325.6 580.7,331.1 581.3,332.2 581.8,328.7 582.4,326.3 582.9,332.2 583.4,326.3 584.0,326.4 584.5,329.9 585.1,328.3 585.6,329.4 586.1,328.5 586.7,326.5 587.2,330.7 587.8,326.0 588.3,326.5 588.8,326.5 589.4,332.2 589.9,332.2 590.5,327.0 591.0,330.4" fill="none" stroke="#141452" stroke-width="1.6" stroke-linejoin="round" />
<polyline points="320.8,324.2 321.3,328.1 321.9,332.2 322.4,331.4 323.0,332.2 323.5,328.0 324.0,325.7 324.6,331.1 325.1,327.1 325.7,329.3 326.2,325.3 326.7,324.8 327.3,327.3 327.8,326.1 328.4,328.0 328.9,328.7 329.4,330.7 330.0,326.6 330.5,327.3 331.1,327.6 331.6,326.7 332.1,326.3 332.7,327.9 333.2,325.8 333.8,321.1 334.3,323.6 334.9,317.9 335.4,322.8 335.9,321.3 336.5,315.1 337.0,309.7 337.6,310.7 338.1,303.5 338.6,299.0 339.2,292.5 339.7,289.9 340.3,283.6 340.8,283.5 341.3,271.8 341.9,263.2 342.4,258.1 343.0,262.0 343.5,249.9 344.0,245.9 344.6,239.3 345.1,244.8 345.7,229.6 346.2,225.4 346.7,226.0 347.3,223.6 347.8,212.0 348.4,208.5 348.9,205.9 349.4,205.4 350.0,211.6 350.5,210.2 351.1,218.3 351.6,224.6 352.1,227.9 352.7,237.8 353.2,232.3 353.8,245.8 354.3,246.5 354.8,257.4 355.4,259.2 355.9,266.6 356.5,269.6 357.0,276.2 357.5,279.0 358.1,284.9 358.6,291.1 359.2,299.4 359.7,300.7 360.2,305.8 360.8,306.6 361.3,317.2 361.9,312.5 362.4,320.1 363.0,317.0 363.5,323.0 364.0,320.3 364.6,324.2 365.1,329.4 365.7,327.8 366.2,326.5 366.7,326.3 367.3,332.2 367.8,330.2 368.4,329.5 368.9,328.1 369.4,327.2 370.0,330.0 370.5,332.0 371.1,327.3 371.6,329.3 372.1,326.2 372.7,329.7 373.2,326.9 373.8,330.8 374.3,327.9 374.8,328.5 375.4,327.4 375.9,330.9 376.5,328.9 377.0,331.0 377.5,329.0 378.1,327.1 378.6,320.9 379.2,328.5 379.7,326.9 380.2,328.5 380.8,325.7 381.3,327.5 381.9,326.0 382.4,327.8 382.9,322.4 383.5,325.1 384.0,332.2 384.6,327.9 385.1,328.4 385.6,332.2 386.2,330.9 386.7,330.0 387.3,330.6 387.8,328.4 388.4,332.2 388.9,326.6 389.4,326.6 390.0,327.7 390.5,329.5 391.1,328.7 391.6,329.8 392.1,325.7 392.7,327.4 393.2,323.6 393.8,329.6 394.3,324.9 394.8,329.9 395.4,329.0 395.9,331.3 396.5,327.2 397.0,328.8 397.5,326.9 398.1,324.7 398.6,328.4 399.2,327.7 399.7,326.2 400.2,328.7 400.8,329.8 401.3,327.4 401.9,327.2 402.4,326.4 402.9,326.1 403.5,329.8 404.0,327.1 404.6,325.0 405.1,329.0 405.6,326.8 406.2,329.2 406.7,327.2 407.3,322.9 407.8,326.7 408.3,329.4 408.9,325.8 409.4,325.9 410.0,323.0 410.5,329.3 411.0,327.8 411.6,325.1 412.1,328.4 412.7,320.8 413.2,328.3 413.7,324.5 414.3,324.8 414.8,322.0 415.4,317.2 415.9,315.8 416.5,313.9 417.0,312.6 417.5,317.2 418.1,308.8 418.6,311.1 419.2,303.7 419.7,300.5 420.2,295.4 420.8,286.9 421.3,284.3 421.9,271.4 422.4,264.3 422.9,258.0 423.5,256.7 424.0,249.2 424.6,244.1 425.1,231.1 425.6,233.5 426.2,218.8 426.7,221.0 427.3,211.4 427.8,205.7 428.3,209.0 428.9,195.5 429.4,191.9 430.0,193.3 430.5,176.6 431.0,180.9 431.6,180.6 432.1,172.1 432.7,167.1 433.2,152.9 433.7,159.2 434.3,164.0 434.8,167.2 435.4,169.1 435.9,180.1 436.4,186.0 437.0,196.0 437.5,199.5 438.1,204.3 438.6,211.2 439.1,216.7 439.7,218.3 440.2,222.4 440.8,228.8 441.3,234.9 441.8,240.0 442.4,249.4 442.9,255.9 443.5,255.7 444.0,267.3 444.6,267.4 445.1,271.6 445.6,283.2 446.2,284.7 446.7,291.0 447.3,291.6 447.8,297.4 448.3,301.8 448.9,302.6 449.4,303.8 450.0,308.2 450.5,307.4 451.0,312.3 451.6,317.7 452.1,318.7 452.7,317.9 453.2,320.1 453.7,319.7 454.3,321.3 454.8,318.6 455.4,321.5 455.9,320.8 456.4,326.8 457.0,326.5 457.5,324.3 458.1,325.9 458.6,324.9 459.1,326.0 459.7,328.3 460.2,322.2 460.8,323.6 461.3,329.7 461.8,326.9 462.4,323.7 462.9,320.3 463.5,319.3 464.0,321.6 464.5,314.2 465.1,313.5 465.6,306.5 466.2,305.5 466.7,298.9 467.2,300.4 467.8,296.2 468.3,300.3 468.9,293.9 469.4,297.8 470.0,300.4 470.5,302.1 471.0,302.9 471.6,304.1 472.1,305.2 472.7,311.8 473.2,311.1 473.7,313.1 474.3,316.9 474.8,312.9 475.4,317.7 475.9,320.0 476.4,316.6 477.0,315.2 477.5,320.8 478.1,317.0 478.6,318.9 479.1,324.2 479.7,319.1 480.2,325.1 480.8,325.1 481.3,332.2 481.8,325.4 482.4,329.0 482.9,326.8 483.5,332.2 484.0,325.4 484.5,324.7 485.1,323.6 485.6,332.2 486.2,327.0 486.7,327.7 487.2,332.2 487.8,330.5 488.3,328.7 488.9,324.8 489.4,330.8 489.9,328.1 490.5,328.7 491.0,327.6 491.6,329.6 492.1,326.2 492.6,326.2 493.2,331.9 493.7,325.8 494.3,330.4 494.8,329.2 495.3,325.5 495.9,328.1 496.4,326.9 497.0,326.3 497.5,326.8 498.1,329.6 498.6,330.5 499.1,326.5 499.7,326.3 500.2,327.1 500.8,328.1 501.3,325.3 501.8,327.6 502.4,330.7 502.9,326.2 503.5,325.3 504.0,324.7 504.5,328.5 505.1,327.8 505.6,324.6 506.2,326.3 506.7,325.0 507.2,322.0 507.8,323.6 508.3,318.5 508.9,322.6 509.4,318.7 509.9,320.5 510.5,316.3 511.0,322.3 511.6,322.5 512.1,319.4 512.6,324.4 513.2,324.1 513.7,322.5 514.3,322.1 514.8,327.4 515.3,323.2 515.9,324.9 516.4,324.6 517.0,324.2 517.5,325.9 518.0,323.0 518.6,324.7 519.1,326.5 519.7,326.3 520.2,324.2 520.7,324.9 521.3,324.0 521.8,327.8 522.4,327.2 522.9,322.6 523.5,327.9 524.0,323.7 524.5,326.0 525.1,329.3 525.6,331.8 526.2,326.6 526.7,330.0 527.2,330.2 527.8,332.2 528.3,325.3 528.9,328.0 529.4,328.3 529.9,327.2 530.5,327.8 531.0,328.1 531.6,327.1 532.1,329.2 532.6,332.2 533.2,326.4 533.7,327.3 534.3,328.3 534.8,324.3 535.3,332.0 535.9,332.2 536.4,324.4 537.0,327.0 537.5,332.2 538.0,329.0 538.6,326.1 539.1,330.6 539.7,326.0 540.2,321.7 540.7,323.3 541.3,326.5 541.8,325.2 542.4,328.2 542.9,325.1 543.4,325.7 544.0,327.3 544.5,327.7 545.1,319.4 545.6,323.7 546.1,326.5 546.7,325.2 547.2,320.6 547.8,320.4 548.3,326.7 548.8,324.7 549.4,323.2 549.9,326.6 550.5,329.4 551.0,329.2 551.6,326.8 552.1,329.1 552.6,330.9 553.2,328.3 553.7,325.4 554.3,326.3 554.8,328.8 555.3,323.5 555.9,330.2 556.4,328.3 557.0,331.8 557.5,326.2 558.0,328.5 558.6,332.2 559.1,330.6 559.7,323.7 560.2,326.5 560.7,328.1 561.3,326.2 561.8,332.2 562.4,330.6 562.9,331.5 563.4,330.6 564.0,329.5 564.5,327.0 565.1,325.7 565.6,326.0 566.1,321.6 566.7,329.8 567.2,328.5 567.8,327.2 568.3,330.6 568.8,329.3 569.4,327.4 569.9,330.5 570.5,327.2 571.0,325.3 571.5,331.0 572.1,332.2 572.6,328.3 573.2,331.0 573.7,328.1 574.2,329.5 574.8,327.5 575.3,325.6 575.9,326.4 576.4,329.2 576.9,331.5 577.5,332.2 578.0,332.2 578.6,330.5 579.1,328.3 579.7,330.0 580.2,330.0 580.7,332.2 581.3,332.2 581.8,332.2 582.4,327.0 582.9,332.2 583.4,326.8 584.0,330.7 584.5,327.2 585.1,328.0 585.6,326.6 586.1,325.5 586.7,330.6 587.2,331.0 587.8,329.8 588.3,330.5 588.8,327.1 589.4,328.9 589.9,328.5 590.5,327.5 591.0,329.7" fill="none" stroke="#d830d8" stroke-width="2.2" stroke-linejoin="round" />
<polyline points="320.8,329.7 321.3,327.5 321.9,329.7 322.4,328.9 323.0,328.9 323.5,332.2 324.0,326.4 324.6,327.4 325.1,326.5 325.7,330.7 326.2,326.6 326.7,327.2 327.3,332.2 327.8,332.2 328.4,327.9 328.9,329.2 329.4,327.8 330.0,328.7 330.5,323.1 331.1,331.3 331.6,329.2 332.1,327.7 332.7,328.4 333.2,325.3 333.8,323.0 334.3,325.3 334.9,319.3 335.4,315.1 335.9,314.0 336.5,309.7 337.0,307.6 337.6,307.5 338.1,299.4 338.6,296.1 339.2,289.5 339.7,286.2 340.3,281.7 340.8,280.4 341.3,265.2 341.9,259.6 342.4,253.8 343.0,245.7 343.5,241.8 344.0,237.3 344.6,230.8 345.1,230.4 345.7,223.9 346.2,211.8 346.7,213.8 347.3,207.3 347.8,199.0 348.4,206.1 348.9,188.7 349.4,191.5 350.0,191.6 350.5,190.6 351.1,202.0 351.6,211.5 352.1,218.6 352.7,223.3 353.2,226.4 353.8,231.0 354.3,238.0 354.8,247.6 355.4,250.6 355.9,256.2 356.5,261.1 357.0,270.8 357.5,272.8 358.1,281.1 358.6,294.3 359.2,290.9 359.7,293.0 360.2,303.7 360.8,308.5 361.3,308.4 361.9,316.7 362.4,318.0 363.0,322.4 363.5,319.6 364.0,321.2 364.6,324.1 365.1,325.5 365.7,328.7 366.2,327.5 366.7,323.1 367.3,327.4 367.8,323.8 368.4,329.5 368.9,327.5 369.4,328.8 370.0,328.4 370.5,326.2 371.1,332.2 371.6,326.5 372.1,326.6 372.7,328.3 373.2,328.2 373.8,328.9 374.3,326.7 374.8,328.3 375.4,330.7 375.9,328.3 376.5,326.2 377.0,327.7 377.5,328.6 378.1,328.1 378.6,329.8 379.2,329.7 379.7,332.2 380.2,329.0 380.8,326.2 381.3,329.6 381.9,330.9 382.4,326.5 382.9,328.4 383.5,328.2 384.0,327.6 384.6,326.9 385.1,328.8 385.6,330.7 386.2,324.4 386.7,328.5 387.3,330.5 387.8,328.1 388.4,325.7 388.9,332.2 389.4,325.6 390.0,328.8 390.5,323.8 391.1,327.1 391.6,328.8 392.1,325.7 392.7,325.4 393.2,329.4 393.8,328.0 394.3,329.8 394.8,326.5 395.4,332.2 395.9,329.1 396.5,332.2 397.0,327.1 397.5,332.2 398.1,331.2 398.6,328.1 399.2,329.3 399.7,329.6 400.2,330.8 400.8,329.4 401.3,332.2 401.9,327.5 402.4,326.4 402.9,326.3 403.5,328.2 404.0,325.0 404.6,326.7 405.1,325.6 405.6,326.7 406.2,327.4 406.7,329.0 407.3,332.2 407.8,325.4 408.3,326.6 408.9,321.6 409.4,331.0 410.0,323.3 410.5,327.1 411.0,324.7 411.6,326.5 412.1,322.9 412.7,323.1 413.2,320.2 413.7,321.1 414.3,319.0 414.8,315.9 415.4,316.1 415.9,316.3 416.5,311.5 417.0,311.7 417.5,308.0 418.1,307.1 418.6,304.2 419.2,305.2 419.7,291.5 420.2,290.8 420.8,279.0 421.3,269.0 421.9,271.2 422.4,257.5 422.9,253.6 423.5,244.6 424.0,238.5 424.6,225.9 425.1,219.0 425.6,208.7 426.2,201.5 426.7,195.9 427.3,195.7 427.8,179.7 428.3,180.4 428.9,179.1 429.4,169.2 430.0,165.4 430.5,155.6 431.0,156.8 431.6,144.1 432.1,127.0 432.7,127.9 433.2,123.3 433.7,129.6 434.3,131.5 434.8,141.2 435.4,143.9 435.9,155.5 436.4,160.2 437.0,177.7 437.5,178.4 438.1,181.2 438.6,187.2 439.1,198.4 439.7,199.2 440.2,196.8 440.8,209.1 441.3,216.4 441.8,229.3 442.4,230.6 442.9,236.9 443.5,246.2 444.0,250.3 444.6,252.3 445.1,263.4 445.6,273.5 446.2,281.1 446.7,282.4 447.3,290.2 447.8,298.0 448.3,295.8 448.9,303.4 449.4,304.4 450.0,303.2 450.5,306.4 451.0,312.8 451.6,316.2 452.1,317.5 452.7,321.6 453.2,321.0 453.7,320.8 454.3,324.0 454.8,320.2 455.4,323.1 455.9,324.8 456.4,320.1 457.0,323.3 457.5,325.5 458.1,321.2 458.6,322.9 459.1,327.6 459.7,325.1 460.2,326.9 460.8,329.3 461.3,320.5 461.8,320.0 462.4,325.1 462.9,317.5 463.5,319.7 464.0,309.2 464.5,309.0 465.1,303.7 465.6,296.6 466.2,292.9 466.7,290.6 467.2,282.8 467.8,283.1 468.3,277.6 468.9,279.4 469.4,277.3 470.0,280.4 470.5,284.4 471.0,292.4 471.6,288.9 472.1,296.3 472.7,295.0 473.2,303.2 473.7,303.5 474.3,305.7 474.8,305.2 475.4,310.6 475.9,310.2 476.4,314.6 477.0,313.9 477.5,314.8 478.1,317.1 478.6,323.8 479.1,319.0 479.7,324.1 480.2,318.7 480.8,324.9 481.3,320.0 481.8,324.8 482.4,325.5 482.9,328.5 483.5,328.0 484.0,327.0 484.5,332.2 485.1,325.9 485.6,331.3 486.2,329.2 486.7,332.2 487.2,327.5 487.8,326.9 488.3,327.7 488.9,327.7 489.4,329.6 489.9,328.4 490.5,325.7 491.0,329.7 491.6,327.4 492.1,326.9 492.6,329.2 493.2,328.0 493.7,328.0 494.3,330.0 494.8,322.5 495.3,329.7 495.9,324.4 496.4,325.9 497.0,332.2 497.5,327.7 498.1,325.7 498.6,326.3 499.1,330.5 499.7,327.3 500.2,330.8 500.8,330.4 501.3,328.3 501.8,326.9 502.4,323.1 502.9,326.3 503.5,323.9 504.0,329.5 504.5,328.9 505.1,327.2 505.6,321.2 506.2,328.6 506.7,328.8 507.2,324.5 507.8,321.4 508.3,328.0 508.9,324.1 509.4,326.8 509.9,319.1 510.5,321.6 511.0,321.6 511.6,323.1 512.1,323.2 512.6,322.2 513.2,324.5 513.7,325.7 514.3,326.3 514.8,323.6 515.3,325.9 515.9,321.9 516.4,329.7 517.0,323.3 517.5,324.2 518.0,322.5 518.6,326.9 519.1,330.1 519.7,329.1 520.2,324.3 520.7,327.8 521.3,328.4 521.8,328.9 522.4,328.1 522.9,328.6 523.5,332.0 524.0,329.7 524.5,325.7 525.1,324.8 525.6,328.7 526.2,329.9 526.7,325.0 527.2,329.0 527.8,331.6 528.3,328.8 528.9,326.8 529.4,324.7 529.9,329.8 530.5,327.3 531.0,329.4 531.6,326.0 532.1,328.1 532.6,328.1 533.2,331.0 533.7,329.3 534.3,329.4 534.8,332.2 535.3,326.3 535.9,328.6 536.4,328.9 537.0,329.3 537.5,328.4 538.0,327.6 538.6,331.3 539.1,327.7 539.7,327.5 540.2,327.5 540.7,330.6 541.3,326.7 541.8,329.4 542.4,324.8 542.9,322.4 543.4,322.7 544.0,325.2 544.5,325.5 545.1,325.9 545.6,323.1 546.1,325.8 546.7,325.3 547.2,330.8 547.8,326.8 548.3,327.1 548.8,326.6 549.4,322.8 549.9,329.4 550.5,329.8 551.0,325.4 551.6,329.7 552.1,328.0 552.6,327.4 553.2,327.9 553.7,330.1 554.3,326.0 554.8,324.7 555.3,331.0 555.9,329.3 556.4,326.4 557.0,329.1 557.5,331.1 558.0,329.8 558.6,326.4 559.1,331.2 559.7,327.9 560.2,327.7 560.7,330.2 561.3,327.1 561.8,326.9 562.4,326.1 562.9,326.4 563.4,332.2 564.0,326.4 564.5,327.0 565.1,326.1 565.6,330.8 566.1,326.3 566.7,327.6 567.2,331.4 567.8,325.5 568.3,330.5 568.8,331.1 569.4,327.7 569.9,330.2 570.5,327.6 571.0,329.2 571.5,327.9 572.1,326.6 572.6,328.6 573.2,326.5 573.7,326.4 574.2,330.7 574.8,326.6 575.3,327.1 575.9,328.4 576.4,325.9 576.9,324.4 577.5,326.6 578.0,332.2 578.6,327.5 579.1,329.0 579.7,329.4 580.2,327.7 580.7,329.4 581.3,324.6 581.8,328.0 582.4,328.4 582.9,326.6 583.4,326.6 584.0,325.7 584.5,326.9 585.1,328.7 585.6,328.3 586.1,332.2 586.7,332.2 587.2,326.2 587.8,329.6 588.3,324.1 588.8,324.1 589.4,331.8 589.9,327.8 590.5,321.4 591.0,330.6" fill="none" stroke="#1f1fa0" stroke-width="1.6" stroke-linejoin="round" />
<text x="0.00" y="0.00" font-size="13.4" font-weight="bold" fill="#000" stroke="#000" stroke-width="0.22"  transform="translate(297,226.5) rotate(-90)" text-anchor="middle" textLength="133.5" lengthAdjust="spacingAndGlyphs">Intensity (arb. units)</text>
<text x="454.10" y="363.90" font-size="12.7" font-weight="bold" fill="#000" stroke="#000" stroke-width="0.22" text-anchor="middle" >Wavelength (nm)</text>
<text x="324" y="118.3" font-size="11.2" font-weight="bold" fill="#1f2a8c" stroke="#1f2a8c" stroke-width="0.2" lengthAdjust="spacingAndGlyphs" textLength="90.3">Mg<tspan font-size="10" dy="3.5">2</tspan><tspan dy="-3.5">P</tspan><tspan font-size="10" dy="3.5">2</tspan><tspan dy="-3.5">O</tspan><tspan font-size="10" dy="3.5">7</tspan><tspan dy="-3.5">: 0.02Eu</tspan></text>
<text x="415" y="111" font-size="10.6" font-weight="bold" fill="#1f2a8c" stroke="#1f2a8c" stroke-width="0.2" lengthAdjust="spacingAndGlyphs" textLength="11.9">3+</text>
<text x="427.6" y="118.3" font-size="11.2" font-weight="bold" fill="#1f2a8c" stroke="#1f2a8c" stroke-width="0.2" lengthAdjust="spacingAndGlyphs" textLength="27.9">/ y Dy</text>
<text x="456.1" y="111" font-size="10.6" font-weight="bold" fill="#1f2a8c" stroke="#1f2a8c" stroke-width="0.2" lengthAdjust="spacingAndGlyphs" textLength="12">3+</text>
<text x="325.3" y="136.1" font-size="11" font-weight="bold" fill="#c0282d" stroke="#c0282d" stroke-width="0.15">em at λ<tspan font-size="10.5" dy="3.5">ex</tspan><tspan dy="-3.5"> = 348 nm</tspan></text>
<text x="335.00" y="162.00" font-size="14.8" font-weight="bold" fill="#000" stroke="#000" stroke-width="0.22" text-anchor="start" >(c)</text>
<text x="374" y="170.8" font-size="12" fill="#000" stroke="#000" stroke-width="0.35">Dy<tspan font-weight="bold" stroke-width="0" font-size="10.5" dy="-6">3+</tspan></text>
<line x1="376.60" y1="173.50" x2="357.87" y2="205.68" stroke="#000" stroke-width="1.1"/>
<polygon points="354.6,211.3 355.6,204.4 360.1,207.0" fill="#000"/>
<line x1="387.00" y1="175.60" x2="418.11" y2="200.35" stroke="#000" stroke-width="1.1"/>
<polygon points="423.2,204.4 416.5,202.4 419.7,198.3" fill="#000"/>
<text x="459.9" y="244.3" font-size="11.8" fill="#000" stroke="#000" stroke-width="0.35">Eu<tspan font-weight="bold" stroke-width="0" font-size="10.5" dy="-6.5">3+</tspan></text>
<text x="500.8" y="313.2" font-size="11" fill="#000" stroke="#000" stroke-width="0.3">Dy<tspan font-weight="bold" stroke-width="0" font-size="10" dy="-6">3+</tspan></text>
<text x="529.7" y="321.3" font-size="11" fill="#000" stroke="#000" stroke-width="0.3">Eu<tspan font-weight="bold" stroke-width="0" font-size="10" dy="-6">3+</tspan></text>
<rect x="477.3" y="104.4" width="111.10" height="102.30" fill="#fff" stroke="#000" stroke-width="1.1"/>
<line x1="487.14" y1="206.70" x2="487.14" y2="208.70" stroke="#000" stroke-width="0.8"/>
<text x="487.14" y="214.00" font-size="5.1" font-weight="bold" fill="#000" stroke="#000" stroke-width="0.1" text-anchor="middle" >1</text>
<line x1="505.58" y1="206.70" x2="505.58" y2="208.70" stroke="#000" stroke-width="0.8"/>
<text x="505.58" y="214.00" font-size="5.1" font-weight="bold" fill="#000" stroke="#000" stroke-width="0.1" text-anchor="middle" >2</text>
<line x1="524.02" y1="206.70" x2="524.02" y2="208.70" stroke="#000" stroke-width="0.8"/>
<text x="524.02" y="214.00" font-size="5.1" font-weight="bold" fill="#000" stroke="#000" stroke-width="0.1" text-anchor="middle" >3</text>
<line x1="542.46" y1="206.70" x2="542.46" y2="208.70" stroke="#000" stroke-width="0.8"/>
<text x="542.46" y="214.00" font-size="5.1" font-weight="bold" fill="#000" stroke="#000" stroke-width="0.1" text-anchor="middle" >4</text>
<line x1="560.90" y1="206.70" x2="560.90" y2="208.70" stroke="#000" stroke-width="0.8"/>
<text x="560.90" y="214.00" font-size="5.1" font-weight="bold" fill="#000" stroke="#000" stroke-width="0.1" text-anchor="middle" >5</text>
<line x1="579.34" y1="206.70" x2="579.34" y2="208.70" stroke="#000" stroke-width="0.8"/>
<text x="579.34" y="214.00" font-size="5.1" font-weight="bold" fill="#000" stroke="#000" stroke-width="0.1" text-anchor="middle" >6</text>
<line x1="477.92" y1="206.70" x2="477.92" y2="207.90" stroke="#000" stroke-width="0.7"/>
<line x1="496.36" y1="206.70" x2="496.36" y2="207.90" stroke="#000" stroke-width="0.7"/>
<line x1="514.80" y1="206.70" x2="514.80" y2="207.90" stroke="#000" stroke-width="0.7"/>
<line x1="533.24" y1="206.70" x2="533.24" y2="207.90" stroke="#000" stroke-width="0.7"/>
<line x1="551.68" y1="206.70" x2="551.68" y2="207.90" stroke="#000" stroke-width="0.7"/>
<line x1="570.12" y1="206.70" x2="570.12" y2="207.90" stroke="#000" stroke-width="0.7"/>
<line x1="588.56" y1="206.70" x2="588.56" y2="207.90" stroke="#000" stroke-width="0.7"/>
<line x1="475.30" y1="198.60" x2="477.30" y2="198.60" stroke="#000" stroke-width="0.8"/>
<text x="474.50" y="200.44" font-size="5.1" font-weight="bold" fill="#000" stroke="#000" stroke-width="0.1" text-anchor="end" >10</text>
<line x1="475.30" y1="184.12" x2="477.30" y2="184.12" stroke="#000" stroke-width="0.8"/>
<text x="474.50" y="185.96" font-size="5.1" font-weight="bold" fill="#000" stroke="#000" stroke-width="0.1" text-anchor="end" >11</text>
<line x1="475.30" y1="169.64" x2="477.30" y2="169.64" stroke="#000" stroke-width="0.8"/>
<text x="474.50" y="171.48" font-size="5.1" font-weight="bold" fill="#000" stroke="#000" stroke-width="0.1" text-anchor="end" >12</text>
<line x1="475.30" y1="155.16" x2="477.30" y2="155.16" stroke="#000" stroke-width="0.8"/>
<text x="474.50" y="157.00" font-size="5.1" font-weight="bold" fill="#000" stroke="#000" stroke-width="0.1" text-anchor="end" >13</text>
<line x1="475.30" y1="140.68" x2="477.30" y2="140.68" stroke="#000" stroke-width="0.8"/>
<text x="474.50" y="142.52" font-size="5.1" font-weight="bold" fill="#000" stroke="#000" stroke-width="0.1" text-anchor="end" >14</text>
<line x1="475.30" y1="126.20" x2="477.30" y2="126.20" stroke="#000" stroke-width="0.8"/>
<text x="474.50" y="128.04" font-size="5.1" font-weight="bold" fill="#000" stroke="#000" stroke-width="0.1" text-anchor="end" >15</text>
<line x1="475.30" y1="111.72" x2="477.30" y2="111.72" stroke="#000" stroke-width="0.8"/>
<text x="474.50" y="113.56" font-size="5.1" font-weight="bold" fill="#000" stroke="#000" stroke-width="0.1" text-anchor="end" >16</text>
<text x="0.00" y="0.00" font-size="5.3" font-weight="bold" fill="#000" stroke="#000" stroke-width="0.1"  transform="translate(466.9,157.2) rotate(-90)" text-anchor="middle" textLength="63.5" lengthAdjust="spacingAndGlyphs">Intensity (arb. units)</text>
<text x="484.5" y="221.6" font-size="6" font-weight="bold" fill="#000" textLength="96.5" lengthAdjust="spacingAndGlyphs">Concentartion of Dy<tspan font-size="5" dy="-3">3+</tspan><tspan dy="3"> ion (mole %)</tspan></text>
<polyline points="487.1,169.6 505.6,155.2 524.0,111.7 542.5,155.2 560.9,169.6 579.3,198.6" fill="none" stroke="#b0402e" stroke-width="1.3" stroke-linejoin="round" />
<circle cx="487.1" cy="169.6" r="2.3" fill="#1a1a6e" stroke="#0a0a40" stroke-width="0.4"/>
<circle cx="505.6" cy="155.2" r="2.3" fill="#1a1a6e" stroke="#0a0a40" stroke-width="0.4"/>
<circle cx="524.0" cy="111.7" r="2.3" fill="#1a1a6e" stroke="#0a0a40" stroke-width="0.4"/>
<circle cx="542.5" cy="155.2" r="2.3" fill="#1a1a6e" stroke="#0a0a40" stroke-width="0.4"/>
<circle cx="560.9" cy="169.6" r="2.3" fill="#1a1a6e" stroke="#0a0a40" stroke-width="0.4"/>
<circle cx="579.3" cy="198.6" r="2.3" fill="#1a1a6e" stroke="#0a0a40" stroke-width="0.4"/>
<line x1="529.30" y1="236.10" x2="553.40" y2="236.10" stroke="#000000" stroke-width="2.6"/>
<text x="554.80" y="239.00" font-size="8" font-weight="bold" fill="#000" stroke="#000" stroke-width="0.22" text-anchor="start" >1 mole%</text>
<line x1="529.30" y1="249.06" x2="553.40" y2="249.06" stroke="#c0282d" stroke-width="2.0"/>
<text x="554.80" y="251.96" font-size="8" font-weight="bold" fill="#000" stroke="#000" stroke-width="0.22" text-anchor="start" >2 mole%</text>
<line x1="529.30" y1="262.02" x2="553.40" y2="262.02" stroke="#1f1fa0" stroke-width="1.4"/>
<text x="554.80" y="264.92" font-size="8" font-weight="bold" fill="#000" stroke="#000" stroke-width="0.22" text-anchor="start" >3 mole%</text>
<line x1="529.30" y1="274.98" x2="553.40" y2="274.98" stroke="#d830d8" stroke-width="2.8"/>
<text x="554.80" y="277.88" font-size="8" font-weight="bold" fill="#000" stroke="#000" stroke-width="0.22" text-anchor="start" >4 mole%</text>
<line x1="529.30" y1="287.94" x2="553.40" y2="287.94" stroke="#141452" stroke-width="1.4"/>
<text x="554.80" y="290.84" font-size="8" font-weight="bold" fill="#000" stroke="#000" stroke-width="0.22" text-anchor="start" >5 mole%</text>
<line x1="529.30" y1="300.90" x2="553.40" y2="300.90" stroke="#1a7a22" stroke-width="2.0"/>
<text x="554.80" y="303.80" font-size="8" font-weight="bold" fill="#000" stroke="#000" stroke-width="0.22" text-anchor="start" >6 mole%</text>
</svg></body></html>
